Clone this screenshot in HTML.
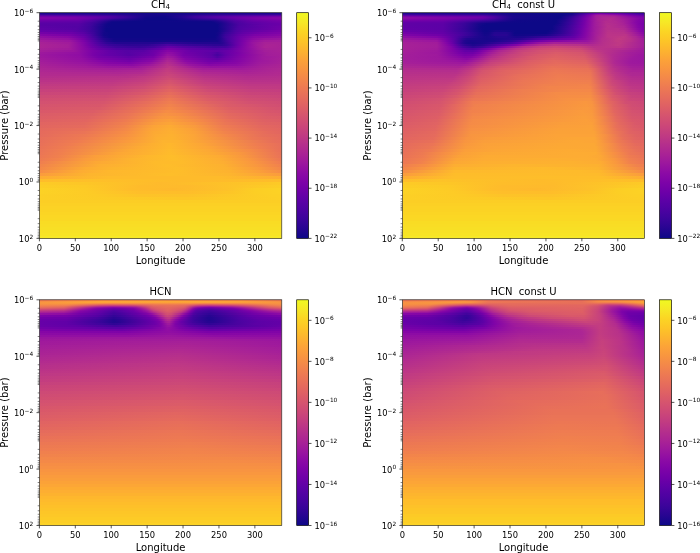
<!DOCTYPE html>
<html><head><meta charset="utf-8"><title>CH4 and HCN abundance maps</title>
<style>html,body{margin:0;padding:0;background:#fff}svg{display:block}text{font-family:"DejaVu Sans","Liberation Sans",sans-serif;fill:#000}</style>
</head><body>
<svg width="700" height="553" viewBox="0 0 700 553">
<rect width="700" height="553" fill="#fff"/>
<defs><linearGradient id="a0"><stop offset="0.000" stop-color="#16078a"/><stop offset="0.676" stop-color="#130789"/><stop offset="0.758" stop-color="#16078a"/><stop offset="1.000" stop-color="#16078a"/></linearGradient><linearGradient id="a1"><stop offset="0.000" stop-color="#1d068e"/><stop offset="0.299" stop-color="#1b068d"/><stop offset="0.480" stop-color="#130789"/><stop offset="0.881" stop-color="#1d068e"/><stop offset="1.000" stop-color="#1d068e"/></linearGradient><linearGradient id="a2"><stop offset="0.000" stop-color="#350498"/><stop offset="0.201" stop-color="#310597"/><stop offset="0.365" stop-color="#220690"/><stop offset="0.447" stop-color="#16078a"/><stop offset="0.570" stop-color="#19068c"/><stop offset="0.725" stop-color="#2c0594"/><stop offset="1.000" stop-color="#350498"/></linearGradient><linearGradient id="a3"><stop offset="0.000" stop-color="#5502a4"/><stop offset="0.160" stop-color="#4e02a2"/><stop offset="0.307" stop-color="#3a049a"/><stop offset="0.447" stop-color="#16078a"/><stop offset="0.512" stop-color="#130789"/><stop offset="0.594" stop-color="#220690"/><stop offset="0.660" stop-color="#350498"/><stop offset="0.832" stop-color="#4b03a1"/><stop offset="1.000" stop-color="#5502a4"/></linearGradient><linearGradient id="a4"><stop offset="0.000" stop-color="#7100a8"/><stop offset="0.152" stop-color="#6900a8"/><stop offset="0.283" stop-color="#5002a2"/><stop offset="0.365" stop-color="#330597"/><stop offset="0.439" stop-color="#16078a"/><stop offset="0.520" stop-color="#100788"/><stop offset="0.594" stop-color="#260591"/><stop offset="0.643" stop-color="#3c049b"/><stop offset="0.750" stop-color="#5502a4"/><stop offset="0.930" stop-color="#6e00a8"/><stop offset="1.000" stop-color="#7201a8"/></linearGradient><linearGradient id="a5"><stop offset="0.000" stop-color="#8004a8"/><stop offset="0.143" stop-color="#7801a8"/><stop offset="0.234" stop-color="#6400a7"/><stop offset="0.357" stop-color="#38049a"/><stop offset="0.439" stop-color="#130789"/><stop offset="0.512" stop-color="#0d0887"/><stop offset="0.586" stop-color="#220690"/><stop offset="0.635" stop-color="#3a049a"/><stop offset="0.709" stop-color="#5002a2"/><stop offset="0.848" stop-color="#7100a8"/><stop offset="0.947" stop-color="#7e03a8"/><stop offset="1.000" stop-color="#8305a7"/></linearGradient><linearGradient id="a6"><stop offset="0.000" stop-color="#8004a8"/><stop offset="0.143" stop-color="#7801a8"/><stop offset="0.209" stop-color="#6900a8"/><stop offset="0.316" stop-color="#3e049c"/><stop offset="0.406" stop-color="#1d068e"/><stop offset="0.439" stop-color="#100788"/><stop offset="0.520" stop-color="#0d0887"/><stop offset="0.586" stop-color="#1d068e"/><stop offset="0.643" stop-color="#350498"/><stop offset="0.742" stop-color="#4e02a2"/><stop offset="0.824" stop-color="#6a00a8"/><stop offset="0.914" stop-color="#7d03a8"/><stop offset="1.000" stop-color="#8405a7"/></linearGradient><linearGradient id="a7"><stop offset="0.000" stop-color="#7701a8"/><stop offset="0.152" stop-color="#7100a8"/><stop offset="0.201" stop-color="#6300a7"/><stop offset="0.258" stop-color="#48039f"/><stop offset="0.307" stop-color="#2e0595"/><stop offset="0.447" stop-color="#0d0887"/><stop offset="0.537" stop-color="#0d0887"/><stop offset="0.676" stop-color="#2e0595"/><stop offset="0.725" stop-color="#350498"/><stop offset="0.816" stop-color="#6001a6"/><stop offset="0.898" stop-color="#7501a8"/><stop offset="1.000" stop-color="#7e03a8"/></linearGradient><linearGradient id="a8"><stop offset="0.000" stop-color="#6e00a8"/><stop offset="0.160" stop-color="#6900a8"/><stop offset="0.225" stop-color="#4e02a2"/><stop offset="0.299" stop-color="#20068f"/><stop offset="0.439" stop-color="#0d0887"/><stop offset="0.561" stop-color="#0d0887"/><stop offset="0.725" stop-color="#220690"/><stop offset="0.807" stop-color="#5302a3"/><stop offset="0.889" stop-color="#6c00a8"/><stop offset="1.000" stop-color="#7801a8"/></linearGradient><linearGradient id="a9"><stop offset="0.000" stop-color="#6600a7"/><stop offset="0.160" stop-color="#6100a7"/><stop offset="0.217" stop-color="#4b03a1"/><stop offset="0.283" stop-color="#1d068e"/><stop offset="0.299" stop-color="#130789"/><stop offset="0.389" stop-color="#0d0887"/><stop offset="0.709" stop-color="#100788"/><stop offset="0.742" stop-color="#20068f"/><stop offset="0.807" stop-color="#4c02a1"/><stop offset="0.881" stop-color="#6400a7"/><stop offset="1.000" stop-color="#7201a8"/></linearGradient><linearGradient id="a10"><stop offset="0.000" stop-color="#5e01a6"/><stop offset="0.168" stop-color="#5b01a5"/><stop offset="0.234" stop-color="#3a049a"/><stop offset="0.283" stop-color="#16078a"/><stop offset="0.299" stop-color="#0d0887"/><stop offset="0.717" stop-color="#0d0887"/><stop offset="0.750" stop-color="#1d068e"/><stop offset="0.807" stop-color="#48039f"/><stop offset="0.857" stop-color="#5901a5"/><stop offset="0.955" stop-color="#6a00a8"/><stop offset="1.000" stop-color="#6f00a8"/></linearGradient><linearGradient id="a11"><stop offset="0.000" stop-color="#5901a5"/><stop offset="0.160" stop-color="#5801a4"/><stop offset="0.209" stop-color="#44039e"/><stop offset="0.242" stop-color="#2f0596"/><stop offset="0.283" stop-color="#100788"/><stop offset="0.307" stop-color="#0d0887"/><stop offset="0.725" stop-color="#0d0887"/><stop offset="0.750" stop-color="#19068c"/><stop offset="0.816" stop-color="#4903a0"/><stop offset="0.881" stop-color="#5c01a6"/><stop offset="1.000" stop-color="#6c00a8"/></linearGradient><linearGradient id="a12"><stop offset="0.000" stop-color="#5801a4"/><stop offset="0.160" stop-color="#5502a4"/><stop offset="0.217" stop-color="#3e049c"/><stop offset="0.258" stop-color="#1d068e"/><stop offset="0.283" stop-color="#0d0887"/><stop offset="0.734" stop-color="#0d0887"/><stop offset="0.824" stop-color="#4c02a1"/><stop offset="0.939" stop-color="#6400a7"/><stop offset="1.000" stop-color="#6a00a8"/></linearGradient><linearGradient id="a13"><stop offset="0.000" stop-color="#5801a4"/><stop offset="0.160" stop-color="#5502a4"/><stop offset="0.209" stop-color="#41049d"/><stop offset="0.250" stop-color="#240691"/><stop offset="0.275" stop-color="#100788"/><stop offset="0.299" stop-color="#0d0887"/><stop offset="0.734" stop-color="#0d0887"/><stop offset="0.824" stop-color="#4c02a1"/><stop offset="0.906" stop-color="#6001a6"/><stop offset="1.000" stop-color="#6c00a8"/></linearGradient><linearGradient id="a14"><stop offset="0.000" stop-color="#5b01a5"/><stop offset="0.160" stop-color="#5302a3"/><stop offset="0.209" stop-color="#3f049c"/><stop offset="0.258" stop-color="#1b068d"/><stop offset="0.275" stop-color="#100788"/><stop offset="0.299" stop-color="#0d0887"/><stop offset="0.734" stop-color="#0d0887"/><stop offset="0.766" stop-color="#240691"/><stop offset="0.824" stop-color="#4e02a2"/><stop offset="0.980" stop-color="#6c00a8"/><stop offset="1.000" stop-color="#6e00a8"/></linearGradient><linearGradient id="a15"><stop offset="0.000" stop-color="#5e01a6"/><stop offset="0.152" stop-color="#5502a4"/><stop offset="0.209" stop-color="#3f049c"/><stop offset="0.275" stop-color="#0d0887"/><stop offset="0.734" stop-color="#0d0887"/><stop offset="0.758" stop-color="#1d068e"/><stop offset="0.816" stop-color="#4b03a1"/><stop offset="0.848" stop-color="#5601a4"/><stop offset="1.000" stop-color="#7100a8"/></linearGradient><linearGradient id="a16"><stop offset="0.000" stop-color="#6700a8"/><stop offset="0.135" stop-color="#5e01a6"/><stop offset="0.184" stop-color="#5002a2"/><stop offset="0.225" stop-color="#370499"/><stop offset="0.275" stop-color="#0d0887"/><stop offset="0.734" stop-color="#0d0887"/><stop offset="0.807" stop-color="#4b03a1"/><stop offset="0.840" stop-color="#5b01a5"/><stop offset="0.988" stop-color="#7701a8"/><stop offset="1.000" stop-color="#7701a8"/></linearGradient><linearGradient id="a17"><stop offset="0.000" stop-color="#7501a8"/><stop offset="0.135" stop-color="#6a00a8"/><stop offset="0.184" stop-color="#5801a4"/><stop offset="0.225" stop-color="#3a049a"/><stop offset="0.266" stop-color="#130789"/><stop offset="0.291" stop-color="#0d0887"/><stop offset="0.725" stop-color="#0d0887"/><stop offset="0.742" stop-color="#16078a"/><stop offset="0.766" stop-color="#310597"/><stop offset="0.816" stop-color="#5601a4"/><stop offset="0.848" stop-color="#6400a7"/><stop offset="0.914" stop-color="#7501a8"/><stop offset="1.000" stop-color="#8004a8"/></linearGradient><linearGradient id="a18"><stop offset="0.000" stop-color="#8405a7"/><stop offset="0.127" stop-color="#7801a8"/><stop offset="0.184" stop-color="#6100a7"/><stop offset="0.209" stop-color="#4e02a2"/><stop offset="0.266" stop-color="#130789"/><stop offset="0.291" stop-color="#0d0887"/><stop offset="0.725" stop-color="#0d0887"/><stop offset="0.734" stop-color="#100788"/><stop offset="0.766" stop-color="#38049a"/><stop offset="0.824" stop-color="#6300a7"/><stop offset="0.889" stop-color="#7b02a8"/><stop offset="1.000" stop-color="#8808a6"/></linearGradient><linearGradient id="a19"><stop offset="0.000" stop-color="#910ea3"/><stop offset="0.119" stop-color="#8707a6"/><stop offset="0.184" stop-color="#6a00a8"/><stop offset="0.234" stop-color="#3c049b"/><stop offset="0.266" stop-color="#19068c"/><stop offset="0.291" stop-color="#0d0887"/><stop offset="0.725" stop-color="#0d0887"/><stop offset="0.742" stop-color="#1b068d"/><stop offset="0.766" stop-color="#3c049b"/><stop offset="0.824" stop-color="#6900a8"/><stop offset="0.889" stop-color="#8606a6"/><stop offset="1.000" stop-color="#910ea3"/></linearGradient><linearGradient id="a20"><stop offset="0.000" stop-color="#9a169f"/><stop offset="0.119" stop-color="#920fa3"/><stop offset="0.176" stop-color="#7801a8"/><stop offset="0.225" stop-color="#4c02a1"/><stop offset="0.266" stop-color="#220690"/><stop offset="0.307" stop-color="#100788"/><stop offset="0.725" stop-color="#100788"/><stop offset="0.742" stop-color="#1b068d"/><stop offset="0.775" stop-color="#43039e"/><stop offset="0.824" stop-color="#6c00a8"/><stop offset="0.881" stop-color="#8b0aa5"/><stop offset="0.930" stop-color="#9613a1"/><stop offset="1.000" stop-color="#9a169f"/></linearGradient><linearGradient id="a21"><stop offset="0.000" stop-color="#a31e9a"/><stop offset="0.127" stop-color="#9a169f"/><stop offset="0.184" stop-color="#7a02a8"/><stop offset="0.234" stop-color="#4c02a1"/><stop offset="0.275" stop-color="#260591"/><stop offset="0.307" stop-color="#16078a"/><stop offset="0.471" stop-color="#130789"/><stop offset="0.578" stop-color="#16078a"/><stop offset="0.660" stop-color="#130789"/><stop offset="0.734" stop-color="#16078a"/><stop offset="0.750" stop-color="#240691"/><stop offset="0.791" stop-color="#5102a3"/><stop offset="0.840" stop-color="#7a02a8"/><stop offset="0.881" stop-color="#9410a2"/><stop offset="0.930" stop-color="#a11b9b"/><stop offset="1.000" stop-color="#a31e9a"/></linearGradient><linearGradient id="a22"><stop offset="0.000" stop-color="#a82296"/><stop offset="0.127" stop-color="#a01a9c"/><stop offset="0.184" stop-color="#8004a8"/><stop offset="0.225" stop-color="#5b01a5"/><stop offset="0.275" stop-color="#310597"/><stop offset="0.316" stop-color="#220690"/><stop offset="0.471" stop-color="#220690"/><stop offset="0.529" stop-color="#2e0595"/><stop offset="0.652" stop-color="#20068f"/><stop offset="0.742" stop-color="#20068f"/><stop offset="0.758" stop-color="#2a0593"/><stop offset="0.807" stop-color="#6001a6"/><stop offset="0.848" stop-color="#8305a7"/><stop offset="0.881" stop-color="#9814a0"/><stop offset="0.930" stop-color="#a72197"/><stop offset="1.000" stop-color="#a72197"/></linearGradient><linearGradient id="a23"><stop offset="0.000" stop-color="#aa2395"/><stop offset="0.119" stop-color="#a31e9a"/><stop offset="0.160" stop-color="#910ea3"/><stop offset="0.201" stop-color="#7501a8"/><stop offset="0.250" stop-color="#4e02a2"/><stop offset="0.291" stop-color="#38049a"/><stop offset="0.365" stop-color="#2c0594"/><stop offset="0.447" stop-color="#2e0595"/><stop offset="0.496" stop-color="#3e049c"/><stop offset="0.529" stop-color="#4b03a1"/><stop offset="0.619" stop-color="#370499"/><stop offset="0.725" stop-color="#2c0594"/><stop offset="0.750" stop-color="#2c0594"/><stop offset="0.775" stop-color="#3a049a"/><stop offset="0.816" stop-color="#6900a8"/><stop offset="0.857" stop-color="#8a09a5"/><stop offset="0.898" stop-color="#a01a9c"/><stop offset="0.939" stop-color="#aa2395"/><stop offset="1.000" stop-color="#a72197"/></linearGradient><linearGradient id="a24"><stop offset="0.000" stop-color="#aa2395"/><stop offset="0.119" stop-color="#a31e9a"/><stop offset="0.176" stop-color="#8a09a5"/><stop offset="0.217" stop-color="#6e00a8"/><stop offset="0.266" stop-color="#5002a2"/><stop offset="0.316" stop-color="#3e049c"/><stop offset="0.414" stop-color="#370499"/><stop offset="0.471" stop-color="#43039e"/><stop offset="0.512" stop-color="#5901a5"/><stop offset="0.529" stop-color="#6300a7"/><stop offset="0.545" stop-color="#6300a7"/><stop offset="0.594" stop-color="#5302a3"/><stop offset="0.725" stop-color="#3e049c"/><stop offset="0.766" stop-color="#43039e"/><stop offset="0.783" stop-color="#4e02a2"/><stop offset="0.824" stop-color="#7501a8"/><stop offset="0.873" stop-color="#9410a2"/><stop offset="0.930" stop-color="#aa2395"/><stop offset="1.000" stop-color="#a72197"/></linearGradient><linearGradient id="a25"><stop offset="0.000" stop-color="#a72197"/><stop offset="0.127" stop-color="#a01a9c"/><stop offset="0.184" stop-color="#8707a6"/><stop offset="0.242" stop-color="#6700a8"/><stop offset="0.316" stop-color="#4e02a2"/><stop offset="0.381" stop-color="#48039f"/><stop offset="0.430" stop-color="#4903a0"/><stop offset="0.496" stop-color="#6300a7"/><stop offset="0.529" stop-color="#7701a8"/><stop offset="0.545" stop-color="#7701a8"/><stop offset="0.619" stop-color="#6001a6"/><stop offset="0.725" stop-color="#5102a3"/><stop offset="0.775" stop-color="#5901a5"/><stop offset="0.832" stop-color="#7e03a8"/><stop offset="0.906" stop-color="#a01a9c"/><stop offset="0.939" stop-color="#a72197"/><stop offset="1.000" stop-color="#a72197"/></linearGradient><linearGradient id="a26"><stop offset="0.000" stop-color="#a31e9a"/><stop offset="0.143" stop-color="#99159f"/><stop offset="0.217" stop-color="#7b02a8"/><stop offset="0.291" stop-color="#6100a7"/><stop offset="0.357" stop-color="#5502a4"/><stop offset="0.430" stop-color="#5901a5"/><stop offset="0.488" stop-color="#7100a8"/><stop offset="0.529" stop-color="#8606a6"/><stop offset="0.561" stop-color="#7e03a8"/><stop offset="0.627" stop-color="#6700a8"/><stop offset="0.742" stop-color="#5c01a6"/><stop offset="0.791" stop-color="#6c00a8"/><stop offset="0.857" stop-color="#8b0aa5"/><stop offset="0.930" stop-color="#a31e9a"/><stop offset="1.000" stop-color="#a72197"/></linearGradient><linearGradient id="a27"><stop offset="0.000" stop-color="#9e199d"/><stop offset="0.160" stop-color="#920fa3"/><stop offset="0.225" stop-color="#7701a8"/><stop offset="0.291" stop-color="#6300a7"/><stop offset="0.365" stop-color="#5502a4"/><stop offset="0.447" stop-color="#6300a7"/><stop offset="0.480" stop-color="#7100a8"/><stop offset="0.529" stop-color="#8e0ca4"/><stop offset="0.545" stop-color="#8d0ba5"/><stop offset="0.602" stop-color="#7100a8"/><stop offset="0.717" stop-color="#5901a5"/><stop offset="0.734" stop-color="#4e02a2"/><stop offset="0.766" stop-color="#6300a7"/><stop offset="0.816" stop-color="#7801a8"/><stop offset="0.906" stop-color="#9c179e"/><stop offset="0.947" stop-color="#a31e9a"/><stop offset="1.000" stop-color="#a62098"/></linearGradient><linearGradient id="a28"><stop offset="0.000" stop-color="#9c179e"/><stop offset="0.168" stop-color="#8f0da4"/><stop offset="0.225" stop-color="#7701a8"/><stop offset="0.275" stop-color="#6700a8"/><stop offset="0.373" stop-color="#5601a4"/><stop offset="0.471" stop-color="#6e00a8"/><stop offset="0.504" stop-color="#8606a6"/><stop offset="0.529" stop-color="#9613a1"/><stop offset="0.553" stop-color="#8f0da4"/><stop offset="0.594" stop-color="#7701a8"/><stop offset="0.709" stop-color="#5b01a5"/><stop offset="0.734" stop-color="#46039f"/><stop offset="0.766" stop-color="#6100a7"/><stop offset="0.840" stop-color="#8405a7"/><stop offset="0.939" stop-color="#a21d9a"/><stop offset="1.000" stop-color="#a51f99"/></linearGradient><linearGradient id="a29"><stop offset="0.000" stop-color="#9d189d"/><stop offset="0.168" stop-color="#910ea3"/><stop offset="0.242" stop-color="#7501a8"/><stop offset="0.365" stop-color="#6001a6"/><stop offset="0.398" stop-color="#6400a7"/><stop offset="0.471" stop-color="#7801a8"/><stop offset="0.504" stop-color="#8f0da4"/><stop offset="0.529" stop-color="#9e199d"/><stop offset="0.553" stop-color="#9814a0"/><stop offset="0.594" stop-color="#7e03a8"/><stop offset="0.717" stop-color="#5c01a6"/><stop offset="0.734" stop-color="#5002a2"/><stop offset="0.766" stop-color="#6700a8"/><stop offset="0.840" stop-color="#8606a6"/><stop offset="0.922" stop-color="#9e199d"/><stop offset="1.000" stop-color="#a51f99"/></linearGradient><linearGradient id="a30"><stop offset="0.000" stop-color="#a01a9c"/><stop offset="0.176" stop-color="#920fa3"/><stop offset="0.250" stop-color="#7b02a8"/><stop offset="0.373" stop-color="#6900a8"/><stop offset="0.471" stop-color="#8305a7"/><stop offset="0.529" stop-color="#a62098"/><stop offset="0.545" stop-color="#a31e9a"/><stop offset="0.602" stop-color="#8305a7"/><stop offset="0.717" stop-color="#6600a7"/><stop offset="0.734" stop-color="#6001a6"/><stop offset="0.783" stop-color="#7401a8"/><stop offset="0.865" stop-color="#8f0da4"/><stop offset="0.930" stop-color="#a01a9c"/><stop offset="1.000" stop-color="#a62098"/></linearGradient><linearGradient id="a31"><stop offset="0.000" stop-color="#a21d9a"/><stop offset="0.176" stop-color="#9511a1"/><stop offset="0.266" stop-color="#8004a8"/><stop offset="0.373" stop-color="#7201a8"/><stop offset="0.463" stop-color="#8808a6"/><stop offset="0.529" stop-color="#ad2793"/><stop offset="0.553" stop-color="#a62098"/><stop offset="0.602" stop-color="#8b0aa5"/><stop offset="0.693" stop-color="#7201a8"/><stop offset="0.734" stop-color="#6e00a8"/><stop offset="0.824" stop-color="#8606a6"/><stop offset="0.906" stop-color="#9c179e"/><stop offset="1.000" stop-color="#a62098"/></linearGradient><linearGradient id="a32"><stop offset="0.000" stop-color="#a51f99"/><stop offset="0.184" stop-color="#9814a0"/><stop offset="0.283" stop-color="#8606a6"/><stop offset="0.373" stop-color="#7e03a8"/><stop offset="0.455" stop-color="#910ea3"/><stop offset="0.529" stop-color="#b32c8e"/><stop offset="0.553" stop-color="#ac2694"/><stop offset="0.611" stop-color="#910ea3"/><stop offset="0.701" stop-color="#7a02a8"/><stop offset="0.807" stop-color="#8606a6"/><stop offset="0.906" stop-color="#9e199d"/><stop offset="1.000" stop-color="#a72197"/></linearGradient><linearGradient id="a33"><stop offset="0.000" stop-color="#a72197"/><stop offset="0.184" stop-color="#9d189d"/><stop offset="0.283" stop-color="#8f0da4"/><stop offset="0.381" stop-color="#8b0aa5"/><stop offset="0.455" stop-color="#9c179e"/><stop offset="0.529" stop-color="#b83289"/><stop offset="0.570" stop-color="#ac2694"/><stop offset="0.619" stop-color="#99159f"/><stop offset="0.701" stop-color="#8707a6"/><stop offset="0.816" stop-color="#8e0ca4"/><stop offset="0.914" stop-color="#a21d9a"/><stop offset="1.000" stop-color="#aa2395"/></linearGradient><linearGradient id="a34"><stop offset="0.000" stop-color="#aa2395"/><stop offset="0.193" stop-color="#a11b9b"/><stop offset="0.283" stop-color="#99159f"/><stop offset="0.389" stop-color="#9814a0"/><stop offset="0.471" stop-color="#ab2494"/><stop offset="0.537" stop-color="#bd3786"/><stop offset="0.643" stop-color="#9d189d"/><stop offset="0.709" stop-color="#9511a1"/><stop offset="0.824" stop-color="#9814a0"/><stop offset="0.930" stop-color="#a72197"/><stop offset="1.000" stop-color="#ab2494"/></linearGradient><linearGradient id="a35"><stop offset="0.000" stop-color="#ac2694"/><stop offset="0.307" stop-color="#a21d9a"/><stop offset="0.422" stop-color="#a62098"/><stop offset="0.529" stop-color="#c13b82"/><stop offset="0.676" stop-color="#a21d9a"/><stop offset="0.832" stop-color="#a01a9c"/><stop offset="0.947" stop-color="#ab2494"/><stop offset="1.000" stop-color="#ad2793"/></linearGradient><linearGradient id="a36"><stop offset="0.000" stop-color="#ae2892"/><stop offset="0.307" stop-color="#a82296"/><stop offset="0.422" stop-color="#ad2793"/><stop offset="0.529" stop-color="#c43e7f"/><stop offset="0.676" stop-color="#aa2395"/><stop offset="0.848" stop-color="#a62098"/><stop offset="0.980" stop-color="#ae2892"/><stop offset="1.000" stop-color="#ae2892"/></linearGradient><linearGradient id="a37"><stop offset="0.000" stop-color="#b12a90"/><stop offset="0.324" stop-color="#ad2793"/><stop offset="0.422" stop-color="#b22b8f"/><stop offset="0.529" stop-color="#c7427c"/><stop offset="0.676" stop-color="#b02991"/><stop offset="0.848" stop-color="#aa2395"/><stop offset="1.000" stop-color="#b12a90"/></linearGradient><linearGradient id="a38"><stop offset="0.000" stop-color="#b22b8f"/><stop offset="0.324" stop-color="#b22b8f"/><stop offset="0.430" stop-color="#b83289"/><stop offset="0.537" stop-color="#ca457a"/><stop offset="0.676" stop-color="#b42e8d"/><stop offset="0.857" stop-color="#ae2892"/><stop offset="1.000" stop-color="#b22b8f"/></linearGradient><linearGradient id="a39"><stop offset="0.000" stop-color="#b42e8d"/><stop offset="0.365" stop-color="#b7318a"/><stop offset="0.455" stop-color="#c13b82"/><stop offset="0.529" stop-color="#cc4977"/><stop offset="0.684" stop-color="#b83289"/><stop offset="0.857" stop-color="#b22b8f"/><stop offset="1.000" stop-color="#b42e8d"/></linearGradient><linearGradient id="a40"><stop offset="0.000" stop-color="#b7318a"/><stop offset="0.324" stop-color="#ba3388"/><stop offset="0.430" stop-color="#c13b82"/><stop offset="0.537" stop-color="#d04d73"/><stop offset="0.676" stop-color="#bd3786"/><stop offset="0.848" stop-color="#b42e8d"/><stop offset="1.000" stop-color="#b6308b"/></linearGradient><linearGradient id="a41"><stop offset="0.000" stop-color="#ba3388"/><stop offset="0.299" stop-color="#bc3587"/><stop offset="0.430" stop-color="#c43e7f"/><stop offset="0.537" stop-color="#d45270"/><stop offset="0.684" stop-color="#c03a83"/><stop offset="0.873" stop-color="#b7318a"/><stop offset="1.000" stop-color="#b83289"/></linearGradient><linearGradient id="a42"><stop offset="0.000" stop-color="#bd3786"/><stop offset="0.299" stop-color="#bf3984"/><stop offset="0.430" stop-color="#c8437b"/><stop offset="0.537" stop-color="#d6556d"/><stop offset="0.676" stop-color="#c43e7f"/><stop offset="0.865" stop-color="#bb3488"/><stop offset="1.000" stop-color="#bb3488"/></linearGradient><linearGradient id="a43"><stop offset="0.000" stop-color="#c03a83"/><stop offset="0.299" stop-color="#c23c81"/><stop offset="0.430" stop-color="#cc4778"/><stop offset="0.537" stop-color="#da5a6a"/><stop offset="0.684" stop-color="#c7427c"/><stop offset="0.865" stop-color="#be3885"/><stop offset="1.000" stop-color="#be3885"/></linearGradient><linearGradient id="a44"><stop offset="0.000" stop-color="#c33d80"/><stop offset="0.283" stop-color="#c5407e"/><stop offset="0.430" stop-color="#cf4c74"/><stop offset="0.537" stop-color="#de5f65"/><stop offset="0.693" stop-color="#cb4679"/><stop offset="0.873" stop-color="#c13b82"/><stop offset="1.000" stop-color="#c03a83"/></linearGradient><linearGradient id="a45"><stop offset="0.000" stop-color="#c7427c"/><stop offset="0.283" stop-color="#c9447a"/><stop offset="0.439" stop-color="#d5546e"/><stop offset="0.537" stop-color="#e26561"/><stop offset="0.693" stop-color="#cf4c74"/><stop offset="0.873" stop-color="#c5407e"/><stop offset="1.000" stop-color="#c43e7f"/></linearGradient><linearGradient id="a46"><stop offset="0.000" stop-color="#cb4679"/><stop offset="0.275" stop-color="#cc4977"/><stop offset="0.430" stop-color="#d9586a"/><stop offset="0.537" stop-color="#e66c5c"/><stop offset="0.684" stop-color="#d5536f"/><stop offset="0.873" stop-color="#c9447a"/><stop offset="1.000" stop-color="#c7427c"/></linearGradient><linearGradient id="a47"><stop offset="0.000" stop-color="#ce4b75"/><stop offset="0.275" stop-color="#d04d73"/><stop offset="0.439" stop-color="#de6164"/><stop offset="0.537" stop-color="#e97257"/><stop offset="0.693" stop-color="#d9586a"/><stop offset="0.857" stop-color="#cd4a76"/><stop offset="1.000" stop-color="#ca457a"/></linearGradient><linearGradient id="a48"><stop offset="0.000" stop-color="#d14e72"/><stop offset="0.266" stop-color="#d35171"/><stop offset="0.439" stop-color="#e26660"/><stop offset="0.537" stop-color="#ed7953"/><stop offset="0.693" stop-color="#dc5d67"/><stop offset="0.865" stop-color="#d04d73"/><stop offset="1.000" stop-color="#cc4977"/></linearGradient><linearGradient id="a49"><stop offset="0.000" stop-color="#d35171"/><stop offset="0.266" stop-color="#d6556d"/><stop offset="0.447" stop-color="#e76e5b"/><stop offset="0.537" stop-color="#ef7e50"/><stop offset="0.709" stop-color="#de6164"/><stop offset="0.865" stop-color="#d35171"/><stop offset="1.000" stop-color="#cf4c74"/></linearGradient><linearGradient id="a50"><stop offset="0.000" stop-color="#d5546e"/><stop offset="0.250" stop-color="#d8576b"/><stop offset="0.439" stop-color="#e97158"/><stop offset="0.537" stop-color="#f1834c"/><stop offset="0.775" stop-color="#db5c68"/><stop offset="0.939" stop-color="#d35171"/><stop offset="1.000" stop-color="#d14e72"/></linearGradient><linearGradient id="a51"><stop offset="0.000" stop-color="#d7566c"/><stop offset="0.250" stop-color="#da5b69"/><stop offset="0.439" stop-color="#ec7754"/><stop offset="0.537" stop-color="#f48849"/><stop offset="0.783" stop-color="#de5f65"/><stop offset="0.980" stop-color="#d45270"/><stop offset="1.000" stop-color="#d45270"/></linearGradient><linearGradient id="a52"><stop offset="0.000" stop-color="#d9586a"/><stop offset="0.225" stop-color="#dc5d67"/><stop offset="0.389" stop-color="#e97257"/><stop offset="0.529" stop-color="#f68d45"/><stop offset="0.627" stop-color="#f07f4f"/><stop offset="0.783" stop-color="#e06363"/><stop offset="0.947" stop-color="#d7566c"/><stop offset="1.000" stop-color="#d5546e"/></linearGradient><linearGradient id="a53"><stop offset="0.000" stop-color="#db5c68"/><stop offset="0.217" stop-color="#de6164"/><stop offset="0.365" stop-color="#ea7457"/><stop offset="0.520" stop-color="#f79342"/><stop offset="0.578" stop-color="#f68d45"/><stop offset="0.783" stop-color="#e3685f"/><stop offset="0.939" stop-color="#da5a6a"/><stop offset="1.000" stop-color="#d8576b"/></linearGradient><linearGradient id="a54"><stop offset="0.000" stop-color="#dd5e66"/><stop offset="0.201" stop-color="#e06363"/><stop offset="0.357" stop-color="#eb7655"/><stop offset="0.504" stop-color="#f89540"/><stop offset="0.545" stop-color="#f9983e"/><stop offset="0.643" stop-color="#f3874a"/><stop offset="0.783" stop-color="#e56b5d"/><stop offset="0.930" stop-color="#dc5d67"/><stop offset="1.000" stop-color="#da5b69"/></linearGradient><linearGradient id="a55"><stop offset="0.000" stop-color="#de6164"/><stop offset="0.193" stop-color="#e26561"/><stop offset="0.357" stop-color="#ee7b51"/><stop offset="0.480" stop-color="#f9983e"/><stop offset="0.537" stop-color="#fb9f3a"/><stop offset="0.652" stop-color="#f58b47"/><stop offset="0.775" stop-color="#e97158"/><stop offset="0.922" stop-color="#de6164"/><stop offset="1.000" stop-color="#dc5d67"/></linearGradient><linearGradient id="a56"><stop offset="0.000" stop-color="#e16462"/><stop offset="0.184" stop-color="#e3685f"/><stop offset="0.357" stop-color="#f0804e"/><stop offset="0.480" stop-color="#fa9e3b"/><stop offset="0.537" stop-color="#fca537"/><stop offset="0.635" stop-color="#f89540"/><stop offset="0.766" stop-color="#eb7655"/><stop offset="0.930" stop-color="#e06363"/><stop offset="1.000" stop-color="#de6164"/></linearGradient><linearGradient id="a57"><stop offset="0.000" stop-color="#e26660"/><stop offset="0.184" stop-color="#e56b5d"/><stop offset="0.348" stop-color="#f1834c"/><stop offset="0.471" stop-color="#fca338"/><stop offset="0.537" stop-color="#fdab33"/><stop offset="0.643" stop-color="#f99a3e"/><stop offset="0.758" stop-color="#ef7c51"/><stop offset="0.914" stop-color="#e3685f"/><stop offset="1.000" stop-color="#e06363"/></linearGradient><linearGradient id="a58"><stop offset="0.000" stop-color="#e4695e"/><stop offset="0.193" stop-color="#e87059"/><stop offset="0.357" stop-color="#f48948"/><stop offset="0.463" stop-color="#fca537"/><stop offset="0.537" stop-color="#fdae32"/><stop offset="0.627" stop-color="#fba238"/><stop offset="0.758" stop-color="#f0804e"/><stop offset="0.930" stop-color="#e4695e"/><stop offset="1.000" stop-color="#e26561"/></linearGradient><linearGradient id="a59"><stop offset="0.000" stop-color="#e56a5d"/><stop offset="0.184" stop-color="#ea7457"/><stop offset="0.357" stop-color="#f68d45"/><stop offset="0.471" stop-color="#fca934"/><stop offset="0.545" stop-color="#fdaf31"/><stop offset="0.643" stop-color="#fba139"/><stop offset="0.766" stop-color="#f1834c"/><stop offset="0.947" stop-color="#e56a5d"/><stop offset="1.000" stop-color="#e26660"/></linearGradient><linearGradient id="a60"><stop offset="0.000" stop-color="#e56b5d"/><stop offset="0.193" stop-color="#ed7953"/><stop offset="0.357" stop-color="#f79143"/><stop offset="0.480" stop-color="#fdac33"/><stop offset="0.545" stop-color="#fdb130"/><stop offset="0.635" stop-color="#fca537"/><stop offset="0.766" stop-color="#f48849"/><stop offset="0.922" stop-color="#e76f5a"/><stop offset="1.000" stop-color="#e4695e"/></linearGradient><linearGradient id="a61"><stop offset="0.000" stop-color="#e76e5b"/><stop offset="0.160" stop-color="#ed7953"/><stop offset="0.365" stop-color="#f9973f"/><stop offset="0.488" stop-color="#fdaf31"/><stop offset="0.545" stop-color="#fdb22f"/><stop offset="0.635" stop-color="#fca636"/><stop offset="0.881" stop-color="#ec7754"/><stop offset="1.000" stop-color="#e56a5d"/></linearGradient><linearGradient id="a62"><stop offset="0.000" stop-color="#e76f5a"/><stop offset="0.160" stop-color="#ef7c51"/><stop offset="0.373" stop-color="#fa9c3c"/><stop offset="0.512" stop-color="#fdb42f"/><stop offset="0.570" stop-color="#fdb22f"/><stop offset="0.717" stop-color="#f99a3e"/><stop offset="0.963" stop-color="#e76f5a"/><stop offset="1.000" stop-color="#e66c5c"/></linearGradient><linearGradient id="a63"><stop offset="0.000" stop-color="#e87059"/><stop offset="0.127" stop-color="#ef7c51"/><stop offset="0.463" stop-color="#fdaf31"/><stop offset="0.537" stop-color="#feb72d"/><stop offset="0.668" stop-color="#fca636"/><stop offset="0.898" stop-color="#ef7c51"/><stop offset="1.000" stop-color="#e76e5b"/></linearGradient><linearGradient id="a64"><stop offset="0.000" stop-color="#e97257"/><stop offset="0.094" stop-color="#ee7b51"/><stop offset="0.422" stop-color="#fdac33"/><stop offset="0.537" stop-color="#feb82c"/><stop offset="0.709" stop-color="#fca338"/><stop offset="0.914" stop-color="#ef7c51"/><stop offset="1.000" stop-color="#e76f5a"/></linearGradient><linearGradient id="a65"><stop offset="0.000" stop-color="#ea7457"/><stop offset="0.102" stop-color="#f07f4f"/><stop offset="0.373" stop-color="#fca934"/><stop offset="0.537" stop-color="#feba2c"/><stop offset="0.701" stop-color="#fca835"/><stop offset="0.865" stop-color="#f58b47"/><stop offset="0.988" stop-color="#e97158"/><stop offset="1.000" stop-color="#e97158"/></linearGradient><linearGradient id="a66"><stop offset="0.000" stop-color="#eb7556"/><stop offset="0.094" stop-color="#f0804e"/><stop offset="0.324" stop-color="#fca636"/><stop offset="0.537" stop-color="#febb2b"/><stop offset="0.717" stop-color="#fca934"/><stop offset="0.824" stop-color="#f9983e"/><stop offset="0.980" stop-color="#eb7556"/><stop offset="1.000" stop-color="#e97257"/></linearGradient><linearGradient id="a67"><stop offset="0.000" stop-color="#ec7754"/><stop offset="0.078" stop-color="#f0804e"/><stop offset="0.234" stop-color="#fb9f3a"/><stop offset="0.447" stop-color="#feb72d"/><stop offset="0.545" stop-color="#febd2a"/><stop offset="0.742" stop-color="#fdab33"/><stop offset="0.840" stop-color="#f9983e"/><stop offset="0.988" stop-color="#eb7556"/><stop offset="1.000" stop-color="#ea7457"/></linearGradient><linearGradient id="a68"><stop offset="0.000" stop-color="#ed7a52"/><stop offset="0.078" stop-color="#f2844b"/><stop offset="0.193" stop-color="#fa9c3c"/><stop offset="0.381" stop-color="#fdb42f"/><stop offset="0.553" stop-color="#febd2a"/><stop offset="0.742" stop-color="#fdae32"/><stop offset="0.865" stop-color="#f9973f"/><stop offset="0.988" stop-color="#ed7953"/><stop offset="1.000" stop-color="#ec7754"/></linearGradient><linearGradient id="a69"><stop offset="0.000" stop-color="#ef7e50"/><stop offset="0.234" stop-color="#fca835"/><stop offset="0.480" stop-color="#febb2b"/><stop offset="0.586" stop-color="#febb2b"/><stop offset="0.758" stop-color="#fdae32"/><stop offset="0.881" stop-color="#f9973f"/><stop offset="0.996" stop-color="#ef7c51"/><stop offset="1.000" stop-color="#ef7c51"/></linearGradient><linearGradient id="a70"><stop offset="0.000" stop-color="#f1834c"/><stop offset="0.250" stop-color="#fdae32"/><stop offset="0.529" stop-color="#febd2a"/><stop offset="0.758" stop-color="#fdb130"/><stop offset="0.906" stop-color="#f89540"/><stop offset="0.996" stop-color="#f1814d"/><stop offset="1.000" stop-color="#f1814d"/></linearGradient><linearGradient id="a71"><stop offset="0.000" stop-color="#f3874a"/><stop offset="0.193" stop-color="#fdab33"/><stop offset="0.307" stop-color="#fdb52e"/><stop offset="0.570" stop-color="#febd2a"/><stop offset="0.775" stop-color="#fdb130"/><stop offset="0.898" stop-color="#fa9c3c"/><stop offset="0.996" stop-color="#f3874a"/><stop offset="1.000" stop-color="#f3874a"/></linearGradient><linearGradient id="a72"><stop offset="0.000" stop-color="#f68d45"/><stop offset="0.168" stop-color="#fdac33"/><stop offset="0.283" stop-color="#feb72d"/><stop offset="0.570" stop-color="#febd2a"/><stop offset="0.783" stop-color="#fdb22f"/><stop offset="0.906" stop-color="#fb9f3a"/><stop offset="1.000" stop-color="#f58c46"/></linearGradient><linearGradient id="a73"><stop offset="0.000" stop-color="#fa9b3d"/><stop offset="0.209" stop-color="#fdb52e"/><stop offset="0.537" stop-color="#febe2a"/><stop offset="0.783" stop-color="#fdb52e"/><stop offset="1.000" stop-color="#fa9b3d"/></linearGradient><linearGradient id="a74"><stop offset="0.000" stop-color="#fdac33"/><stop offset="0.283" stop-color="#febb2b"/><stop offset="0.742" stop-color="#febb2b"/><stop offset="1.000" stop-color="#fdac33"/></linearGradient><linearGradient id="a75"><stop offset="0.000" stop-color="#febd2a"/><stop offset="0.225" stop-color="#fec029"/><stop offset="0.594" stop-color="#febb2b"/><stop offset="1.000" stop-color="#febd2a"/></linearGradient><linearGradient id="a76"><stop offset="0.000" stop-color="#fdcb26"/><stop offset="0.193" stop-color="#fdc627"/><stop offset="0.504" stop-color="#feba2c"/><stop offset="0.914" stop-color="#fdc627"/><stop offset="1.000" stop-color="#fdca26"/></linearGradient><linearGradient id="a77"><stop offset="0.000" stop-color="#fcce25"/><stop offset="0.184" stop-color="#fdca26"/><stop offset="0.414" stop-color="#febb2b"/><stop offset="0.611" stop-color="#feba2c"/><stop offset="1.000" stop-color="#fcce25"/></linearGradient><linearGradient id="a78"><stop offset="0.000" stop-color="#fcd225"/><stop offset="0.193" stop-color="#fdcb26"/><stop offset="0.373" stop-color="#febd2a"/><stop offset="0.553" stop-color="#feb82c"/><stop offset="0.775" stop-color="#fdc229"/><stop offset="0.889" stop-color="#fcce25"/><stop offset="1.000" stop-color="#fcd225"/></linearGradient><linearGradient id="a79"><stop offset="0.000" stop-color="#fcd225"/><stop offset="0.209" stop-color="#fdcb26"/><stop offset="0.414" stop-color="#febe2a"/><stop offset="0.611" stop-color="#febd2a"/><stop offset="0.783" stop-color="#fdc527"/><stop offset="0.889" stop-color="#fcce25"/><stop offset="1.000" stop-color="#fcd225"/></linearGradient><linearGradient id="a80"><stop offset="0.000" stop-color="#fcd025"/><stop offset="0.234" stop-color="#fdcb26"/><stop offset="0.414" stop-color="#fdc328"/><stop offset="0.611" stop-color="#fdc229"/><stop offset="0.963" stop-color="#fcd025"/><stop offset="1.000" stop-color="#fcd025"/></linearGradient><linearGradient id="a81"><stop offset="0.000" stop-color="#fcd025"/><stop offset="0.602" stop-color="#fdc627"/><stop offset="1.000" stop-color="#fcd025"/></linearGradient><linearGradient id="a82"><stop offset="0.000" stop-color="#fcce25"/><stop offset="0.807" stop-color="#fccd25"/><stop offset="1.000" stop-color="#fcce25"/></linearGradient><linearGradient id="a83"><stop offset="0.000" stop-color="#fcd025"/><stop offset="1.000" stop-color="#fcd025"/></linearGradient><linearGradient id="a84"><stop offset="0.000" stop-color="#fcd225"/><stop offset="1.000" stop-color="#fcd225"/></linearGradient><linearGradient id="a85"><stop offset="0.000" stop-color="#fbd324"/><stop offset="1.000" stop-color="#fbd324"/></linearGradient><linearGradient id="a86"><stop offset="0.000" stop-color="#fbd524"/><stop offset="1.000" stop-color="#fbd524"/></linearGradient><linearGradient id="a87"><stop offset="0.000" stop-color="#fbd724"/><stop offset="1.000" stop-color="#fbd724"/></linearGradient><linearGradient id="a88"><stop offset="0.000" stop-color="#fad824"/><stop offset="1.000" stop-color="#fad824"/></linearGradient><linearGradient id="a89"><stop offset="0.000" stop-color="#f9dc24"/><stop offset="1.000" stop-color="#f9dc24"/></linearGradient><linearGradient id="a90"><stop offset="0.000" stop-color="#f9dd25"/><stop offset="1.000" stop-color="#f9dd25"/></linearGradient><linearGradient id="a91"><stop offset="0.000" stop-color="#f8df25"/><stop offset="1.000" stop-color="#f8df25"/></linearGradient><linearGradient id="a92"><stop offset="0.000" stop-color="#f7e225"/><stop offset="1.000" stop-color="#f7e225"/></linearGradient><linearGradient id="a93"><stop offset="0.000" stop-color="#f7e425"/><stop offset="1.000" stop-color="#f7e425"/></linearGradient><linearGradient id="a94"><stop offset="0.000" stop-color="#f6e826"/><stop offset="1.000" stop-color="#f6e826"/></linearGradient><clipPath id="ca"><rect x="39.4" y="12.7" width="242.4" height="225.7"/></clipPath></defs>
<g clip-path="url(#ca)"><rect x="39.4" y="12.00" width="242.4" height="1.00" fill="url(#a0)"/><rect x="39.4" y="13.00" width="242.4" height="1.00" fill="url(#a1)"/><rect x="39.4" y="14.00" width="242.4" height="1.00" fill="url(#a2)"/><rect x="39.4" y="15.00" width="242.4" height="1.00" fill="url(#a3)"/><rect x="39.4" y="16.00" width="242.4" height="1.00" fill="url(#a4)"/><rect x="39.4" y="17.00" width="242.4" height="1.00" fill="url(#a5)"/><rect x="39.4" y="18.00" width="242.4" height="1.00" fill="url(#a6)"/><rect x="39.4" y="19.00" width="242.4" height="1.00" fill="url(#a7)"/><rect x="39.4" y="20.00" width="242.4" height="1.00" fill="url(#a8)"/><rect x="39.4" y="21.00" width="242.4" height="1.00" fill="url(#a9)"/><rect x="39.4" y="22.00" width="242.4" height="1.00" fill="url(#a10)"/><rect x="39.4" y="23.00" width="242.4" height="1.00" fill="url(#a11)"/><rect x="39.4" y="24.00" width="242.4" height="1.00" fill="url(#a12)"/><rect x="39.4" y="25.00" width="242.4" height="1.00" fill="url(#a13)"/><rect x="39.4" y="26.00" width="242.4" height="2.00" fill="url(#a14)"/><rect x="39.4" y="28.00" width="242.4" height="2.00" fill="url(#a15)"/><rect x="39.4" y="30.00" width="242.4" height="2.00" fill="url(#a16)"/><rect x="39.4" y="32.00" width="242.4" height="2.00" fill="url(#a17)"/><rect x="39.4" y="34.00" width="242.4" height="2.00" fill="url(#a18)"/><rect x="39.4" y="36.00" width="242.4" height="2.00" fill="url(#a19)"/><rect x="39.4" y="38.00" width="242.4" height="2.00" fill="url(#a20)"/><rect x="39.4" y="40.00" width="242.4" height="2.00" fill="url(#a21)"/><rect x="39.4" y="42.00" width="242.4" height="2.00" fill="url(#a22)"/><rect x="39.4" y="44.00" width="242.4" height="2.00" fill="url(#a23)"/><rect x="39.4" y="46.00" width="242.4" height="2.00" fill="url(#a24)"/><rect x="39.4" y="48.00" width="242.4" height="2.00" fill="url(#a25)"/><rect x="39.4" y="50.00" width="242.4" height="2.00" fill="url(#a26)"/><rect x="39.4" y="52.00" width="242.4" height="2.00" fill="url(#a27)"/><rect x="39.4" y="54.00" width="242.4" height="2.00" fill="url(#a28)"/><rect x="39.4" y="56.00" width="242.4" height="2.00" fill="url(#a29)"/><rect x="39.4" y="58.00" width="242.4" height="2.00" fill="url(#a30)"/><rect x="39.4" y="60.00" width="242.4" height="2.00" fill="url(#a31)"/><rect x="39.4" y="62.00" width="242.4" height="2.00" fill="url(#a32)"/><rect x="39.4" y="64.00" width="242.4" height="2.00" fill="url(#a33)"/><rect x="39.4" y="66.00" width="242.4" height="2.00" fill="url(#a34)"/><rect x="39.4" y="68.00" width="242.4" height="2.00" fill="url(#a35)"/><rect x="39.4" y="70.00" width="242.4" height="2.00" fill="url(#a36)"/><rect x="39.4" y="72.00" width="242.4" height="2.00" fill="url(#a37)"/><rect x="39.4" y="74.00" width="242.4" height="2.00" fill="url(#a38)"/><rect x="39.4" y="76.00" width="242.4" height="2.00" fill="url(#a39)"/><rect x="39.4" y="78.00" width="242.4" height="2.00" fill="url(#a40)"/><rect x="39.4" y="80.00" width="242.4" height="2.00" fill="url(#a41)"/><rect x="39.4" y="82.00" width="242.4" height="2.00" fill="url(#a42)"/><rect x="39.4" y="84.00" width="242.4" height="2.00" fill="url(#a43)"/><rect x="39.4" y="86.00" width="242.4" height="3.00" fill="url(#a44)"/><rect x="39.4" y="89.00" width="242.4" height="3.00" fill="url(#a45)"/><rect x="39.4" y="92.00" width="242.4" height="3.00" fill="url(#a46)"/><rect x="39.4" y="95.00" width="242.4" height="3.00" fill="url(#a47)"/><rect x="39.4" y="98.00" width="242.4" height="3.00" fill="url(#a48)"/><rect x="39.4" y="101.00" width="242.4" height="3.00" fill="url(#a49)"/><rect x="39.4" y="104.00" width="242.4" height="3.00" fill="url(#a50)"/><rect x="39.4" y="107.00" width="242.4" height="3.00" fill="url(#a51)"/><rect x="39.4" y="110.00" width="242.4" height="3.00" fill="url(#a52)"/><rect x="39.4" y="113.00" width="242.4" height="3.00" fill="url(#a53)"/><rect x="39.4" y="116.00" width="242.4" height="3.00" fill="url(#a54)"/><rect x="39.4" y="119.00" width="242.4" height="3.00" fill="url(#a55)"/><rect x="39.4" y="122.00" width="242.4" height="3.00" fill="url(#a56)"/><rect x="39.4" y="125.00" width="242.4" height="3.00" fill="url(#a57)"/><rect x="39.4" y="128.00" width="242.4" height="3.00" fill="url(#a58)"/><rect x="39.4" y="131.00" width="242.4" height="3.00" fill="url(#a59)"/><rect x="39.4" y="134.00" width="242.4" height="3.00" fill="url(#a60)"/><rect x="39.4" y="137.00" width="242.4" height="3.00" fill="url(#a61)"/><rect x="39.4" y="140.00" width="242.4" height="3.00" fill="url(#a62)"/><rect x="39.4" y="143.00" width="242.4" height="3.00" fill="url(#a63)"/><rect x="39.4" y="146.00" width="242.4" height="3.00" fill="url(#a64)"/><rect x="39.4" y="149.00" width="242.4" height="3.00" fill="url(#a65)"/><rect x="39.4" y="152.00" width="242.4" height="3.00" fill="url(#a66)"/><rect x="39.4" y="155.00" width="242.4" height="3.00" fill="url(#a67)"/><rect x="39.4" y="158.00" width="242.4" height="3.00" fill="url(#a68)"/><rect x="39.4" y="161.00" width="242.4" height="3.00" fill="url(#a69)"/><rect x="39.4" y="164.00" width="242.4" height="3.00" fill="url(#a70)"/><rect x="39.4" y="167.00" width="242.4" height="3.00" fill="url(#a71)"/><rect x="39.4" y="170.00" width="242.4" height="3.00" fill="url(#a72)"/><rect x="39.4" y="173.00" width="242.4" height="3.00" fill="url(#a73)"/><rect x="39.4" y="176.00" width="242.4" height="3.00" fill="url(#a74)"/><rect x="39.4" y="179.00" width="242.4" height="3.00" fill="url(#a75)"/><rect x="39.4" y="182.00" width="242.4" height="3.00" fill="url(#a76)"/><rect x="39.4" y="185.00" width="242.4" height="3.00" fill="url(#a77)"/><rect x="39.4" y="188.00" width="242.4" height="3.00" fill="url(#a78)"/><rect x="39.4" y="191.00" width="242.4" height="3.00" fill="url(#a79)"/><rect x="39.4" y="194.00" width="242.4" height="3.00" fill="url(#a80)"/><rect x="39.4" y="197.00" width="242.4" height="3.00" fill="url(#a81)"/><rect x="39.4" y="200.00" width="242.4" height="3.00" fill="url(#a82)"/><rect x="39.4" y="203.00" width="242.4" height="3.00" fill="url(#a83)"/><rect x="39.4" y="206.00" width="242.4" height="3.00" fill="url(#a84)"/><rect x="39.4" y="209.00" width="242.4" height="3.00" fill="url(#a85)"/><rect x="39.4" y="212.00" width="242.4" height="3.00" fill="url(#a86)"/><rect x="39.4" y="215.00" width="242.4" height="3.00" fill="url(#a87)"/><rect x="39.4" y="218.00" width="242.4" height="3.00" fill="url(#a88)"/><rect x="39.4" y="221.00" width="242.4" height="3.00" fill="url(#a89)"/><rect x="39.4" y="224.00" width="242.4" height="3.00" fill="url(#a90)"/><rect x="39.4" y="227.00" width="242.4" height="3.00" fill="url(#a91)"/><rect x="39.4" y="230.00" width="242.4" height="3.00" fill="url(#a92)"/><rect x="39.4" y="233.00" width="242.4" height="3.00" fill="url(#a93)"/><rect x="39.4" y="236.00" width="242.4" height="3.00" fill="url(#a94)"/></g>
<rect x="39.4" y="12.7" width="242.4" height="225.7" fill="none" stroke="#111" stroke-width="0.6"/>
<text x="39.4" y="251.0" text-anchor="middle" font-size="8.33">0</text>
<text x="75.3" y="251.0" text-anchor="middle" font-size="8.33">50</text>
<text x="111.2" y="251.0" text-anchor="middle" font-size="8.33">100</text>
<text x="147.1" y="251.0" text-anchor="middle" font-size="8.33">150</text>
<text x="183.0" y="251.0" text-anchor="middle" font-size="8.33">200</text>
<text x="219.0" y="251.0" text-anchor="middle" font-size="8.33">250</text>
<text x="254.9" y="251.0" text-anchor="middle" font-size="8.33">300</text>
<text x="33.2" y="16.1" text-anchor="end" font-size="8.33">10<tspan dy="-3.2" font-size="5.83">−6</tspan></text>
<text x="33.2" y="72.5" text-anchor="end" font-size="8.33">10<tspan dy="-3.2" font-size="5.83">−4</tspan></text>
<text x="33.2" y="128.9" text-anchor="end" font-size="8.33">10<tspan dy="-3.2" font-size="5.83">−2</tspan></text>
<text x="33.2" y="185.4" text-anchor="end" font-size="8.33">10<tspan dy="-3.2" font-size="5.83">0</tspan></text>
<text x="33.2" y="241.8" text-anchor="end" font-size="8.33">10<tspan dy="-3.2" font-size="5.83">2</tspan></text>
<path d="M39.40 238.40v2.9M75.31 238.40v2.9M111.22 238.40v2.9M147.13 238.40v2.9M183.04 238.40v2.9M218.96 238.40v2.9M254.87 238.40v2.9M39.40 12.70h-2.9M39.40 69.12h-2.9M39.40 125.55h-2.9M39.40 181.97h-2.9M39.40 238.40h-2.9" stroke="#000" stroke-width="0.67" fill="none"/>
<path d="M39.40 21.19h-1.7M39.40 26.16h-1.7M39.40 29.69h-1.7M39.40 32.42h-1.7M39.40 34.65h-1.7M39.40 36.54h-1.7M39.40 38.18h-1.7M39.40 39.62h-1.7M39.40 40.91h-1.7M39.40 49.41h-1.7M39.40 54.37h-1.7M39.40 57.90h-1.7M39.40 60.63h-1.7M39.40 62.87h-1.7M39.40 64.75h-1.7M39.40 66.39h-1.7M39.40 67.83h-1.7M39.40 77.62h-1.7M39.40 82.59h-1.7M39.40 86.11h-1.7M39.40 88.84h-1.7M39.40 91.08h-1.7M39.40 92.97h-1.7M39.40 94.60h-1.7M39.40 96.05h-1.7M39.40 97.34h-1.7M39.40 105.83h-1.7M39.40 110.80h-1.7M39.40 114.32h-1.7M39.40 117.06h-1.7M39.40 119.29h-1.7M39.40 121.18h-1.7M39.40 122.82h-1.7M39.40 124.26h-1.7M39.40 134.04h-1.7M39.40 139.01h-1.7M39.40 142.54h-1.7M39.40 145.27h-1.7M39.40 147.50h-1.7M39.40 149.39h-1.7M39.40 151.03h-1.7M39.40 152.47h-1.7M39.40 153.76h-1.7M39.40 162.26h-1.7M39.40 167.22h-1.7M39.40 170.75h-1.7M39.40 173.48h-1.7M39.40 175.72h-1.7M39.40 177.60h-1.7M39.40 179.24h-1.7M39.40 180.68h-1.7M39.40 190.47h-1.7M39.40 195.44h-1.7M39.40 198.96h-1.7M39.40 201.69h-1.7M39.40 203.93h-1.7M39.40 205.82h-1.7M39.40 207.45h-1.7M39.40 208.90h-1.7M39.40 210.19h-1.7M39.40 218.68h-1.7M39.40 223.65h-1.7M39.40 227.17h-1.7M39.40 229.91h-1.7M39.40 232.14h-1.7M39.40 234.03h-1.7M39.40 235.67h-1.7M39.40 237.11h-1.7" stroke="#000" stroke-width="0.5" fill="none"/>
<text x="160.6" y="264.0" text-anchor="middle" font-size="10">Longitude</text>
<text transform="translate(8.1 125.5) rotate(-90)" text-anchor="middle" font-size="10">Pressure (bar)</text>
<text x="160.6" y="7.8" text-anchor="middle" font-size="10" xml:space="preserve">CH<tspan dy="1.6" font-size="7">4</tspan></text>
<defs><linearGradient id="cba" x1="0" y1="0" x2="0" y2="1"><stop offset="0.000" stop-color="#f0f921"/><stop offset="0.042" stop-color="#f6e826"/><stop offset="0.083" stop-color="#fbd524"/><stop offset="0.125" stop-color="#fdc527"/><stop offset="0.167" stop-color="#fdb42f"/><stop offset="0.208" stop-color="#fca338"/><stop offset="0.250" stop-color="#f89540"/><stop offset="0.292" stop-color="#f3874a"/><stop offset="0.333" stop-color="#ed7953"/><stop offset="0.375" stop-color="#e66c5c"/><stop offset="0.417" stop-color="#de5f65"/><stop offset="0.458" stop-color="#d5536f"/><stop offset="0.500" stop-color="#cc4778"/><stop offset="0.542" stop-color="#c13b82"/><stop offset="0.583" stop-color="#b52f8c"/><stop offset="0.625" stop-color="#aa2395"/><stop offset="0.667" stop-color="#9c179e"/><stop offset="0.708" stop-color="#8d0ba5"/><stop offset="0.750" stop-color="#7e03a8"/><stop offset="0.792" stop-color="#6e00a8"/><stop offset="0.833" stop-color="#5c01a6"/><stop offset="0.875" stop-color="#4c02a1"/><stop offset="0.917" stop-color="#3a049a"/><stop offset="0.958" stop-color="#260591"/><stop offset="1.000" stop-color="#0d0887"/></linearGradient></defs>
<rect x="296.7" y="12.7" width="11.9" height="225.7" fill="url(#cba)" stroke="#000" stroke-width="0.67"/>
<text x="314.4" y="41.0" text-anchor="start" font-size="8.33">10<tspan dy="-3.2" font-size="5.83">−6</tspan></text>
<text x="314.4" y="91.1" text-anchor="start" font-size="8.33">10<tspan dy="-3.2" font-size="5.83">−10</tspan></text>
<text x="314.4" y="141.3" text-anchor="start" font-size="8.33">10<tspan dy="-3.2" font-size="5.83">−14</tspan></text>
<text x="314.4" y="191.4" text-anchor="start" font-size="8.33">10<tspan dy="-3.2" font-size="5.83">−18</tspan></text>
<text x="314.4" y="241.6" text-anchor="start" font-size="8.33">10<tspan dy="-3.2" font-size="5.83">−22</tspan></text>
<path d="M308.60 37.78h2.9M308.60 87.93h2.9M308.60 138.09h2.9M308.60 188.24h2.9M308.60 238.40h2.9" stroke="#000" stroke-width="0.67" fill="none"/>
<defs><linearGradient id="b0"><stop offset="0.000" stop-color="#1b068d"/><stop offset="0.496" stop-color="#100788"/><stop offset="0.520" stop-color="#0d0887"/><stop offset="0.693" stop-color="#0d0887"/><stop offset="0.799" stop-color="#5601a4"/><stop offset="0.816" stop-color="#5901a5"/><stop offset="0.914" stop-color="#46039f"/><stop offset="1.000" stop-color="#2a0593"/></linearGradient><linearGradient id="b1"><stop offset="0.000" stop-color="#220690"/><stop offset="0.348" stop-color="#1b068d"/><stop offset="0.471" stop-color="#100788"/><stop offset="0.684" stop-color="#0d0887"/><stop offset="0.701" stop-color="#130789"/><stop offset="0.783" stop-color="#5c01a6"/><stop offset="0.799" stop-color="#6a00a8"/><stop offset="0.816" stop-color="#6f00a8"/><stop offset="0.889" stop-color="#6001a6"/><stop offset="0.996" stop-color="#350498"/><stop offset="1.000" stop-color="#350498"/></linearGradient><linearGradient id="b2"><stop offset="0.000" stop-color="#3c049b"/><stop offset="0.340" stop-color="#2f0596"/><stop offset="0.463" stop-color="#130789"/><stop offset="0.660" stop-color="#0d0887"/><stop offset="0.701" stop-color="#1b068d"/><stop offset="0.758" stop-color="#5c01a6"/><stop offset="0.783" stop-color="#7d03a8"/><stop offset="0.799" stop-color="#8f0da4"/><stop offset="0.816" stop-color="#9511a1"/><stop offset="0.881" stop-color="#8707a6"/><stop offset="0.939" stop-color="#6900a8"/><stop offset="0.996" stop-color="#4b03a1"/><stop offset="1.000" stop-color="#4b03a1"/></linearGradient><linearGradient id="b3"><stop offset="0.000" stop-color="#5c01a6"/><stop offset="0.291" stop-color="#4c02a1"/><stop offset="0.332" stop-color="#4b03a1"/><stop offset="0.398" stop-color="#2f0596"/><stop offset="0.439" stop-color="#1d068e"/><stop offset="0.471" stop-color="#16078a"/><stop offset="0.660" stop-color="#0d0887"/><stop offset="0.701" stop-color="#260591"/><stop offset="0.750" stop-color="#6100a7"/><stop offset="0.775" stop-color="#8104a7"/><stop offset="0.799" stop-color="#a01a9c"/><stop offset="0.816" stop-color="#a62098"/><stop offset="0.873" stop-color="#a01a9c"/><stop offset="0.939" stop-color="#7e03a8"/><stop offset="0.996" stop-color="#6001a6"/><stop offset="1.000" stop-color="#6001a6"/></linearGradient><linearGradient id="b4"><stop offset="0.000" stop-color="#7b02a8"/><stop offset="0.299" stop-color="#6400a7"/><stop offset="0.332" stop-color="#6300a7"/><stop offset="0.389" stop-color="#41049d"/><stop offset="0.439" stop-color="#220690"/><stop offset="0.455" stop-color="#19068c"/><stop offset="0.652" stop-color="#0d0887"/><stop offset="0.693" stop-color="#2a0593"/><stop offset="0.717" stop-color="#43039e"/><stop offset="0.758" stop-color="#7201a8"/><stop offset="0.775" stop-color="#8707a6"/><stop offset="0.799" stop-color="#a31e9a"/><stop offset="0.824" stop-color="#ab2494"/><stop offset="0.873" stop-color="#aa2395"/><stop offset="0.955" stop-color="#8305a7"/><stop offset="1.000" stop-color="#7100a8"/></linearGradient><linearGradient id="b5"><stop offset="0.000" stop-color="#8b0aa5"/><stop offset="0.324" stop-color="#6e00a8"/><stop offset="0.357" stop-color="#5e01a6"/><stop offset="0.422" stop-color="#2e0595"/><stop offset="0.455" stop-color="#1b068d"/><stop offset="0.529" stop-color="#130789"/><stop offset="0.652" stop-color="#0d0887"/><stop offset="0.701" stop-color="#370499"/><stop offset="0.750" stop-color="#6e00a8"/><stop offset="0.775" stop-color="#8a09a5"/><stop offset="0.799" stop-color="#a31e9a"/><stop offset="0.832" stop-color="#ae2892"/><stop offset="0.873" stop-color="#ae2892"/><stop offset="0.963" stop-color="#8707a6"/><stop offset="1.000" stop-color="#7a02a8"/></linearGradient><linearGradient id="b6"><stop offset="0.000" stop-color="#8a09a5"/><stop offset="0.176" stop-color="#7d03a8"/><stop offset="0.332" stop-color="#6400a7"/><stop offset="0.381" stop-color="#48039f"/><stop offset="0.447" stop-color="#1b068d"/><stop offset="0.471" stop-color="#16078a"/><stop offset="0.643" stop-color="#0d0887"/><stop offset="0.668" stop-color="#1b068d"/><stop offset="0.734" stop-color="#5e01a6"/><stop offset="0.766" stop-color="#8305a7"/><stop offset="0.799" stop-color="#a31e9a"/><stop offset="0.824" stop-color="#ad2793"/><stop offset="0.865" stop-color="#b22b8f"/><stop offset="0.922" stop-color="#9d189d"/><stop offset="0.988" stop-color="#8004a8"/><stop offset="1.000" stop-color="#7d03a8"/></linearGradient><linearGradient id="b7"><stop offset="0.000" stop-color="#8104a7"/><stop offset="0.176" stop-color="#7701a8"/><stop offset="0.332" stop-color="#5502a4"/><stop offset="0.439" stop-color="#1d068e"/><stop offset="0.463" stop-color="#130789"/><stop offset="0.635" stop-color="#0d0887"/><stop offset="0.660" stop-color="#19068c"/><stop offset="0.717" stop-color="#4c02a1"/><stop offset="0.758" stop-color="#7a02a8"/><stop offset="0.783" stop-color="#9511a1"/><stop offset="0.807" stop-color="#a82296"/><stop offset="0.857" stop-color="#b32c8e"/><stop offset="0.914" stop-color="#a31e9a"/><stop offset="0.980" stop-color="#8104a7"/><stop offset="1.000" stop-color="#7b02a8"/></linearGradient><linearGradient id="b8"><stop offset="0.000" stop-color="#7701a8"/><stop offset="0.168" stop-color="#6f00a8"/><stop offset="0.266" stop-color="#5502a4"/><stop offset="0.381" stop-color="#310597"/><stop offset="0.439" stop-color="#19068c"/><stop offset="0.480" stop-color="#100788"/><stop offset="0.635" stop-color="#0d0887"/><stop offset="0.676" stop-color="#280592"/><stop offset="0.734" stop-color="#6001a6"/><stop offset="0.758" stop-color="#7b02a8"/><stop offset="0.783" stop-color="#9613a1"/><stop offset="0.807" stop-color="#a82296"/><stop offset="0.857" stop-color="#b32c8e"/><stop offset="0.906" stop-color="#a72197"/><stop offset="0.971" stop-color="#8405a7"/><stop offset="1.000" stop-color="#7a02a8"/></linearGradient><linearGradient id="b9"><stop offset="0.000" stop-color="#6c00a8"/><stop offset="0.168" stop-color="#6700a8"/><stop offset="0.266" stop-color="#48039f"/><stop offset="0.324" stop-color="#310597"/><stop offset="0.455" stop-color="#100788"/><stop offset="0.578" stop-color="#0d0887"/><stop offset="0.635" stop-color="#0d0887"/><stop offset="0.676" stop-color="#2a0593"/><stop offset="0.742" stop-color="#6900a8"/><stop offset="0.766" stop-color="#8606a6"/><stop offset="0.799" stop-color="#a31e9a"/><stop offset="0.840" stop-color="#b32c8e"/><stop offset="0.881" stop-color="#b02991"/><stop offset="0.922" stop-color="#a11b9b"/><stop offset="0.971" stop-color="#8305a7"/><stop offset="1.000" stop-color="#7801a8"/></linearGradient><linearGradient id="b10"><stop offset="0.000" stop-color="#6400a7"/><stop offset="0.168" stop-color="#6100a7"/><stop offset="0.250" stop-color="#44039e"/><stop offset="0.316" stop-color="#240691"/><stop offset="0.414" stop-color="#100788"/><stop offset="0.537" stop-color="#0d0887"/><stop offset="0.635" stop-color="#0d0887"/><stop offset="0.701" stop-color="#41049d"/><stop offset="0.750" stop-color="#7401a8"/><stop offset="0.775" stop-color="#8e0ca4"/><stop offset="0.791" stop-color="#9e199d"/><stop offset="0.840" stop-color="#b32c8e"/><stop offset="0.881" stop-color="#b02991"/><stop offset="0.914" stop-color="#a62098"/><stop offset="0.963" stop-color="#8707a6"/><stop offset="1.000" stop-color="#7701a8"/></linearGradient><linearGradient id="b11"><stop offset="0.000" stop-color="#6001a6"/><stop offset="0.168" stop-color="#5e01a6"/><stop offset="0.258" stop-color="#3a049a"/><stop offset="0.324" stop-color="#16078a"/><stop offset="0.348" stop-color="#100788"/><stop offset="0.471" stop-color="#0d0887"/><stop offset="0.627" stop-color="#0d0887"/><stop offset="0.643" stop-color="#130789"/><stop offset="0.701" stop-color="#43039e"/><stop offset="0.750" stop-color="#7401a8"/><stop offset="0.775" stop-color="#8f0da4"/><stop offset="0.799" stop-color="#a31e9a"/><stop offset="0.848" stop-color="#b52f8c"/><stop offset="0.906" stop-color="#ab2494"/><stop offset="0.947" stop-color="#920fa3"/><stop offset="0.980" stop-color="#7e03a8"/><stop offset="1.000" stop-color="#7501a8"/></linearGradient><linearGradient id="b12"><stop offset="0.000" stop-color="#6001a6"/><stop offset="0.168" stop-color="#5c01a6"/><stop offset="0.258" stop-color="#38049a"/><stop offset="0.316" stop-color="#16078a"/><stop offset="0.348" stop-color="#0d0887"/><stop offset="0.627" stop-color="#0d0887"/><stop offset="0.684" stop-color="#350498"/><stop offset="0.742" stop-color="#6c00a8"/><stop offset="0.766" stop-color="#8707a6"/><stop offset="0.791" stop-color="#9e199d"/><stop offset="0.840" stop-color="#b42e8d"/><stop offset="0.881" stop-color="#b22b8f"/><stop offset="0.922" stop-color="#a51f99"/><stop offset="0.971" stop-color="#8405a7"/><stop offset="0.996" stop-color="#7701a8"/><stop offset="1.000" stop-color="#7701a8"/></linearGradient><linearGradient id="b13"><stop offset="0.000" stop-color="#6001a6"/><stop offset="0.168" stop-color="#5c01a6"/><stop offset="0.242" stop-color="#3f049c"/><stop offset="0.332" stop-color="#0d0887"/><stop offset="0.619" stop-color="#0d0887"/><stop offset="0.652" stop-color="#1d068e"/><stop offset="0.717" stop-color="#5502a4"/><stop offset="0.750" stop-color="#7701a8"/><stop offset="0.775" stop-color="#8f0da4"/><stop offset="0.799" stop-color="#a31e9a"/><stop offset="0.848" stop-color="#b6308b"/><stop offset="0.914" stop-color="#ab2494"/><stop offset="0.971" stop-color="#8606a6"/><stop offset="1.000" stop-color="#7701a8"/></linearGradient><linearGradient id="b14"><stop offset="0.000" stop-color="#6100a7"/><stop offset="0.168" stop-color="#5c01a6"/><stop offset="0.250" stop-color="#3a049a"/><stop offset="0.324" stop-color="#100788"/><stop offset="0.348" stop-color="#0d0887"/><stop offset="0.619" stop-color="#0d0887"/><stop offset="0.676" stop-color="#330597"/><stop offset="0.734" stop-color="#6700a8"/><stop offset="0.758" stop-color="#8004a8"/><stop offset="0.791" stop-color="#9e199d"/><stop offset="0.848" stop-color="#b6308b"/><stop offset="0.914" stop-color="#ad2793"/><stop offset="0.971" stop-color="#8707a6"/><stop offset="1.000" stop-color="#7801a8"/></linearGradient><linearGradient id="b15"><stop offset="0.000" stop-color="#6300a7"/><stop offset="0.168" stop-color="#5c01a6"/><stop offset="0.250" stop-color="#38049a"/><stop offset="0.316" stop-color="#130789"/><stop offset="0.340" stop-color="#0d0887"/><stop offset="0.619" stop-color="#0d0887"/><stop offset="0.693" stop-color="#44039e"/><stop offset="0.742" stop-color="#7201a8"/><stop offset="0.766" stop-color="#8a09a5"/><stop offset="0.791" stop-color="#9e199d"/><stop offset="0.840" stop-color="#b52f8c"/><stop offset="0.889" stop-color="#b52f8c"/><stop offset="0.922" stop-color="#ad2793"/><stop offset="0.971" stop-color="#8b0aa5"/><stop offset="0.996" stop-color="#7a02a8"/><stop offset="1.000" stop-color="#7a02a8"/></linearGradient><linearGradient id="b16"><stop offset="0.000" stop-color="#6900a8"/><stop offset="0.168" stop-color="#6001a6"/><stop offset="0.250" stop-color="#3c049b"/><stop offset="0.332" stop-color="#100788"/><stop offset="0.348" stop-color="#0d0887"/><stop offset="0.389" stop-color="#19068c"/><stop offset="0.430" stop-color="#16078a"/><stop offset="0.471" stop-color="#0d0887"/><stop offset="0.602" stop-color="#0d0887"/><stop offset="0.635" stop-color="#1d068e"/><stop offset="0.693" stop-color="#48039f"/><stop offset="0.725" stop-color="#6300a7"/><stop offset="0.758" stop-color="#8405a7"/><stop offset="0.799" stop-color="#a31e9a"/><stop offset="0.848" stop-color="#b83289"/><stop offset="0.914" stop-color="#b52f8c"/><stop offset="0.955" stop-color="#9d189d"/><stop offset="0.988" stop-color="#8405a7"/><stop offset="1.000" stop-color="#8004a8"/></linearGradient><linearGradient id="b17"><stop offset="0.000" stop-color="#7401a8"/><stop offset="0.168" stop-color="#6400a7"/><stop offset="0.258" stop-color="#3e049c"/><stop offset="0.340" stop-color="#100788"/><stop offset="0.357" stop-color="#130789"/><stop offset="0.381" stop-color="#240691"/><stop offset="0.422" stop-color="#240691"/><stop offset="0.439" stop-color="#20068f"/><stop offset="0.463" stop-color="#0d0887"/><stop offset="0.594" stop-color="#0d0887"/><stop offset="0.652" stop-color="#2c0594"/><stop offset="0.725" stop-color="#6400a7"/><stop offset="0.758" stop-color="#8606a6"/><stop offset="0.791" stop-color="#a01a9c"/><stop offset="0.848" stop-color="#ba3388"/><stop offset="0.914" stop-color="#b83289"/><stop offset="0.947" stop-color="#aa2395"/><stop offset="0.996" stop-color="#8707a6"/><stop offset="1.000" stop-color="#8707a6"/></linearGradient><linearGradient id="b18"><stop offset="0.000" stop-color="#8004a8"/><stop offset="0.160" stop-color="#6e00a8"/><stop offset="0.234" stop-color="#4c02a1"/><stop offset="0.340" stop-color="#130789"/><stop offset="0.357" stop-color="#16078a"/><stop offset="0.381" stop-color="#280592"/><stop offset="0.430" stop-color="#280592"/><stop offset="0.463" stop-color="#100788"/><stop offset="0.537" stop-color="#130789"/><stop offset="0.594" stop-color="#19068c"/><stop offset="0.693" stop-color="#4e02a2"/><stop offset="0.725" stop-color="#6900a8"/><stop offset="0.758" stop-color="#8707a6"/><stop offset="0.799" stop-color="#a51f99"/><stop offset="0.848" stop-color="#bb3488"/><stop offset="0.922" stop-color="#bb3488"/><stop offset="0.971" stop-color="#a01a9c"/><stop offset="0.996" stop-color="#8f0da4"/><stop offset="1.000" stop-color="#8f0da4"/></linearGradient><linearGradient id="b19"><stop offset="0.000" stop-color="#8e0ca4"/><stop offset="0.143" stop-color="#8004a8"/><stop offset="0.184" stop-color="#6c00a8"/><stop offset="0.225" stop-color="#4e02a2"/><stop offset="0.258" stop-color="#350498"/><stop offset="0.307" stop-color="#20068f"/><stop offset="0.348" stop-color="#16078a"/><stop offset="0.398" stop-color="#220690"/><stop offset="0.430" stop-color="#220690"/><stop offset="0.471" stop-color="#19068c"/><stop offset="0.504" stop-color="#1d068e"/><stop offset="0.619" stop-color="#3e049c"/><stop offset="0.709" stop-color="#6300a7"/><stop offset="0.750" stop-color="#8305a7"/><stop offset="0.807" stop-color="#ab2494"/><stop offset="0.848" stop-color="#bb3488"/><stop offset="0.914" stop-color="#bf3984"/><stop offset="0.963" stop-color="#ac2694"/><stop offset="0.996" stop-color="#9814a0"/><stop offset="1.000" stop-color="#9814a0"/></linearGradient><linearGradient id="b20"><stop offset="0.000" stop-color="#9a169f"/><stop offset="0.143" stop-color="#8f0da4"/><stop offset="0.184" stop-color="#7401a8"/><stop offset="0.217" stop-color="#5502a4"/><stop offset="0.250" stop-color="#2f0596"/><stop offset="0.266" stop-color="#220690"/><stop offset="0.348" stop-color="#16078a"/><stop offset="0.488" stop-color="#280592"/><stop offset="0.570" stop-color="#4e02a2"/><stop offset="0.709" stop-color="#7201a8"/><stop offset="0.758" stop-color="#8d0ba5"/><stop offset="0.824" stop-color="#b42e8d"/><stop offset="0.898" stop-color="#c13b82"/><stop offset="0.939" stop-color="#b83289"/><stop offset="1.000" stop-color="#9e199d"/></linearGradient><linearGradient id="b21"><stop offset="0.000" stop-color="#a21d9a"/><stop offset="0.143" stop-color="#9a169f"/><stop offset="0.184" stop-color="#7a02a8"/><stop offset="0.209" stop-color="#6001a6"/><stop offset="0.258" stop-color="#20068f"/><stop offset="0.283" stop-color="#19068c"/><stop offset="0.373" stop-color="#1b068d"/><stop offset="0.455" stop-color="#310597"/><stop offset="0.545" stop-color="#6900a8"/><stop offset="0.611" stop-color="#8104a7"/><stop offset="0.758" stop-color="#9613a1"/><stop offset="0.824" stop-color="#b42e8d"/><stop offset="0.889" stop-color="#c03a83"/><stop offset="0.939" stop-color="#b7318a"/><stop offset="1.000" stop-color="#a11b9b"/></linearGradient><linearGradient id="b22"><stop offset="0.000" stop-color="#a62098"/><stop offset="0.143" stop-color="#a11b9b"/><stop offset="0.176" stop-color="#8808a6"/><stop offset="0.201" stop-color="#6f00a8"/><stop offset="0.225" stop-color="#4c02a1"/><stop offset="0.250" stop-color="#280592"/><stop offset="0.266" stop-color="#1b068d"/><stop offset="0.291" stop-color="#16078a"/><stop offset="0.340" stop-color="#1d068e"/><stop offset="0.439" stop-color="#43039e"/><stop offset="0.471" stop-color="#5601a4"/><stop offset="0.512" stop-color="#7801a8"/><stop offset="0.570" stop-color="#9814a0"/><stop offset="0.627" stop-color="#a62098"/><stop offset="0.766" stop-color="#a31e9a"/><stop offset="0.832" stop-color="#b7318a"/><stop offset="0.898" stop-color="#bf3984"/><stop offset="1.000" stop-color="#a21d9a"/></linearGradient><linearGradient id="b23"><stop offset="0.000" stop-color="#a72197"/><stop offset="0.143" stop-color="#a21d9a"/><stop offset="0.184" stop-color="#8707a6"/><stop offset="0.209" stop-color="#6f00a8"/><stop offset="0.242" stop-color="#3f049c"/><stop offset="0.258" stop-color="#2e0595"/><stop offset="0.291" stop-color="#1d068e"/><stop offset="0.324" stop-color="#260591"/><stop offset="0.430" stop-color="#6700a8"/><stop offset="0.471" stop-color="#8104a7"/><stop offset="0.512" stop-color="#9d189d"/><stop offset="0.570" stop-color="#b22b8f"/><stop offset="0.627" stop-color="#bc3587"/><stop offset="0.734" stop-color="#b6308b"/><stop offset="0.783" stop-color="#b12a90"/><stop offset="0.889" stop-color="#bf3984"/><stop offset="1.000" stop-color="#a31e9a"/></linearGradient><linearGradient id="b24"><stop offset="0.000" stop-color="#a72197"/><stop offset="0.143" stop-color="#a21d9a"/><stop offset="0.201" stop-color="#8004a8"/><stop offset="0.225" stop-color="#6400a7"/><stop offset="0.250" stop-color="#46039f"/><stop offset="0.291" stop-color="#2e0595"/><stop offset="0.332" stop-color="#3f049c"/><stop offset="0.389" stop-color="#6f00a8"/><stop offset="0.422" stop-color="#8808a6"/><stop offset="0.496" stop-color="#b22b8f"/><stop offset="0.570" stop-color="#c5407e"/><stop offset="0.635" stop-color="#ca457a"/><stop offset="0.734" stop-color="#c43e7f"/><stop offset="0.791" stop-color="#b7318a"/><stop offset="0.898" stop-color="#bc3587"/><stop offset="1.000" stop-color="#a21d9a"/></linearGradient><linearGradient id="b25"><stop offset="0.000" stop-color="#a72197"/><stop offset="0.143" stop-color="#a11b9b"/><stop offset="0.201" stop-color="#8305a7"/><stop offset="0.242" stop-color="#6100a7"/><stop offset="0.266" stop-color="#5102a3"/><stop offset="0.291" stop-color="#4c02a1"/><stop offset="0.307" stop-color="#5302a3"/><stop offset="0.357" stop-color="#7a02a8"/><stop offset="0.398" stop-color="#99159f"/><stop offset="0.471" stop-color="#ba3388"/><stop offset="0.537" stop-color="#ca457a"/><stop offset="0.627" stop-color="#d24f71"/><stop offset="0.734" stop-color="#cc4977"/><stop offset="0.799" stop-color="#bb3488"/><stop offset="0.906" stop-color="#b32c8e"/><stop offset="1.000" stop-color="#a01a9c"/></linearGradient><linearGradient id="b26"><stop offset="0.000" stop-color="#a62098"/><stop offset="0.143" stop-color="#9e199d"/><stop offset="0.209" stop-color="#8104a7"/><stop offset="0.258" stop-color="#6400a7"/><stop offset="0.291" stop-color="#6001a6"/><stop offset="0.307" stop-color="#6900a8"/><stop offset="0.340" stop-color="#8606a6"/><stop offset="0.398" stop-color="#ab2494"/><stop offset="0.480" stop-color="#c5407e"/><stop offset="0.570" stop-color="#d35171"/><stop offset="0.635" stop-color="#d6556d"/><stop offset="0.742" stop-color="#d14e72"/><stop offset="0.807" stop-color="#be3885"/><stop offset="0.996" stop-color="#9d189d"/><stop offset="1.000" stop-color="#9d189d"/></linearGradient><linearGradient id="b27"><stop offset="0.000" stop-color="#a51f99"/><stop offset="0.152" stop-color="#9c179e"/><stop offset="0.234" stop-color="#7801a8"/><stop offset="0.258" stop-color="#6e00a8"/><stop offset="0.291" stop-color="#6e00a8"/><stop offset="0.316" stop-color="#7d03a8"/><stop offset="0.357" stop-color="#9d189d"/><stop offset="0.406" stop-color="#b52f8c"/><stop offset="0.504" stop-color="#ce4b75"/><stop offset="0.635" stop-color="#da5b69"/><stop offset="0.742" stop-color="#d5546e"/><stop offset="0.840" stop-color="#b83289"/><stop offset="0.939" stop-color="#a31e9a"/><stop offset="1.000" stop-color="#9c179e"/></linearGradient><linearGradient id="b28"><stop offset="0.000" stop-color="#a31e9a"/><stop offset="0.143" stop-color="#9e199d"/><stop offset="0.234" stop-color="#8004a8"/><stop offset="0.258" stop-color="#7701a8"/><stop offset="0.291" stop-color="#7a02a8"/><stop offset="0.316" stop-color="#8a09a5"/><stop offset="0.373" stop-color="#ae2892"/><stop offset="0.447" stop-color="#c6417d"/><stop offset="0.561" stop-color="#d8576b"/><stop offset="0.635" stop-color="#dd5e66"/><stop offset="0.750" stop-color="#d7566c"/><stop offset="0.865" stop-color="#b22b8f"/><stop offset="0.971" stop-color="#9d189d"/><stop offset="1.000" stop-color="#9a169f"/></linearGradient><linearGradient id="b29"><stop offset="0.000" stop-color="#a31e9a"/><stop offset="0.152" stop-color="#9d189d"/><stop offset="0.258" stop-color="#8104a7"/><stop offset="0.283" stop-color="#8405a7"/><stop offset="0.307" stop-color="#8f0da4"/><stop offset="0.357" stop-color="#ae2892"/><stop offset="0.414" stop-color="#c23c81"/><stop offset="0.529" stop-color="#d7566c"/><stop offset="0.635" stop-color="#de6164"/><stop offset="0.750" stop-color="#da5a6a"/><stop offset="0.873" stop-color="#b02991"/><stop offset="0.955" stop-color="#9e199d"/><stop offset="1.000" stop-color="#9a169f"/></linearGradient><linearGradient id="b30"><stop offset="0.000" stop-color="#a31e9a"/><stop offset="0.152" stop-color="#9e199d"/><stop offset="0.266" stop-color="#8a09a5"/><stop offset="0.307" stop-color="#9c179e"/><stop offset="0.365" stop-color="#ba3388"/><stop offset="0.471" stop-color="#d24f71"/><stop offset="0.619" stop-color="#e16462"/><stop offset="0.750" stop-color="#dc5d67"/><stop offset="0.783" stop-color="#d45270"/><stop offset="0.873" stop-color="#b02991"/><stop offset="0.947" stop-color="#9e199d"/><stop offset="1.000" stop-color="#9a169f"/></linearGradient><linearGradient id="b31"><stop offset="0.000" stop-color="#a51f99"/><stop offset="0.176" stop-color="#9d189d"/><stop offset="0.258" stop-color="#9410a2"/><stop offset="0.283" stop-color="#9a169f"/><stop offset="0.365" stop-color="#c13b82"/><stop offset="0.520" stop-color="#db5c68"/><stop offset="0.627" stop-color="#e3685f"/><stop offset="0.758" stop-color="#de6164"/><stop offset="0.840" stop-color="#be3885"/><stop offset="0.881" stop-color="#ac2694"/><stop offset="0.939" stop-color="#9e199d"/><stop offset="1.000" stop-color="#9a169f"/></linearGradient><linearGradient id="b32"><stop offset="0.000" stop-color="#a62098"/><stop offset="0.193" stop-color="#a01a9c"/><stop offset="0.258" stop-color="#9c179e"/><stop offset="0.365" stop-color="#c7427c"/><stop offset="0.520" stop-color="#de5f65"/><stop offset="0.635" stop-color="#e56a5d"/><stop offset="0.758" stop-color="#e16462"/><stop offset="0.816" stop-color="#cc4977"/><stop offset="0.873" stop-color="#b02991"/><stop offset="0.939" stop-color="#9e199d"/><stop offset="1.000" stop-color="#9c179e"/></linearGradient><linearGradient id="b33"><stop offset="0.000" stop-color="#aa2395"/><stop offset="0.242" stop-color="#a31e9a"/><stop offset="0.275" stop-color="#ab2494"/><stop offset="0.340" stop-color="#c6417d"/><stop offset="0.422" stop-color="#d5546e"/><stop offset="0.578" stop-color="#e56a5d"/><stop offset="0.652" stop-color="#e76e5b"/><stop offset="0.766" stop-color="#e3685f"/><stop offset="0.840" stop-color="#c33d80"/><stop offset="0.881" stop-color="#b02991"/><stop offset="0.939" stop-color="#a11b9b"/><stop offset="1.000" stop-color="#9e199d"/></linearGradient><linearGradient id="b34"><stop offset="0.000" stop-color="#ad2793"/><stop offset="0.234" stop-color="#aa2395"/><stop offset="0.283" stop-color="#b7318a"/><stop offset="0.340" stop-color="#cc4977"/><stop offset="0.406" stop-color="#d8576b"/><stop offset="0.619" stop-color="#e97158"/><stop offset="0.766" stop-color="#e66c5c"/><stop offset="0.807" stop-color="#d6556d"/><stop offset="0.873" stop-color="#b52f8c"/><stop offset="0.947" stop-color="#a31e9a"/><stop offset="1.000" stop-color="#a21d9a"/></linearGradient><linearGradient id="b35"><stop offset="0.000" stop-color="#b22b8f"/><stop offset="0.225" stop-color="#b02991"/><stop offset="0.275" stop-color="#bc3587"/><stop offset="0.324" stop-color="#cf4c74"/><stop offset="0.406" stop-color="#dc5d67"/><stop offset="0.627" stop-color="#eb7556"/><stop offset="0.766" stop-color="#e97158"/><stop offset="0.791" stop-color="#e26561"/><stop offset="0.857" stop-color="#bf3984"/><stop offset="0.898" stop-color="#b12a90"/><stop offset="0.955" stop-color="#a62098"/><stop offset="1.000" stop-color="#a62098"/></linearGradient><linearGradient id="b36"><stop offset="0.000" stop-color="#b42e8d"/><stop offset="0.225" stop-color="#b42e8d"/><stop offset="0.275" stop-color="#c23c81"/><stop offset="0.332" stop-color="#d5546e"/><stop offset="0.430" stop-color="#e16462"/><stop offset="0.635" stop-color="#ec7754"/><stop offset="0.775" stop-color="#e97257"/><stop offset="0.848" stop-color="#c6417d"/><stop offset="0.881" stop-color="#b7318a"/><stop offset="0.947" stop-color="#aa2395"/><stop offset="1.000" stop-color="#aa2395"/></linearGradient><linearGradient id="b37"><stop offset="0.000" stop-color="#b6308b"/><stop offset="0.225" stop-color="#b7318a"/><stop offset="0.275" stop-color="#c5407e"/><stop offset="0.324" stop-color="#d5546e"/><stop offset="0.398" stop-color="#df6263"/><stop offset="0.627" stop-color="#ed7953"/><stop offset="0.775" stop-color="#eb7556"/><stop offset="0.865" stop-color="#c03a83"/><stop offset="0.930" stop-color="#ae2892"/><stop offset="1.000" stop-color="#ac2694"/></linearGradient><linearGradient id="b38"><stop offset="0.000" stop-color="#b83289"/><stop offset="0.217" stop-color="#ba3388"/><stop offset="0.275" stop-color="#c8437b"/><stop offset="0.324" stop-color="#d8576b"/><stop offset="0.480" stop-color="#e76e5b"/><stop offset="0.643" stop-color="#ee7b51"/><stop offset="0.775" stop-color="#ec7754"/><stop offset="0.848" stop-color="#cb4679"/><stop offset="0.881" stop-color="#bd3786"/><stop offset="0.947" stop-color="#ae2892"/><stop offset="1.000" stop-color="#ae2892"/></linearGradient><linearGradient id="b39"><stop offset="0.000" stop-color="#bb3488"/><stop offset="0.209" stop-color="#bc3587"/><stop offset="0.275" stop-color="#cc4778"/><stop offset="0.316" stop-color="#d9586a"/><stop offset="0.463" stop-color="#e76e5b"/><stop offset="0.643" stop-color="#ef7c51"/><stop offset="0.775" stop-color="#ed7953"/><stop offset="0.832" stop-color="#d5536f"/><stop offset="0.881" stop-color="#bf3984"/><stop offset="0.947" stop-color="#b22b8f"/><stop offset="1.000" stop-color="#b12a90"/></linearGradient><linearGradient id="b40"><stop offset="0.000" stop-color="#bc3587"/><stop offset="0.209" stop-color="#bf3984"/><stop offset="0.275" stop-color="#ce4b75"/><stop offset="0.324" stop-color="#dc5d67"/><stop offset="0.504" stop-color="#ea7457"/><stop offset="0.643" stop-color="#ef7e50"/><stop offset="0.775" stop-color="#ee7b51"/><stop offset="0.840" stop-color="#d35171"/><stop offset="0.881" stop-color="#c13b82"/><stop offset="0.947" stop-color="#b42e8d"/><stop offset="1.000" stop-color="#b32c8e"/></linearGradient><linearGradient id="b41"><stop offset="0.000" stop-color="#be3885"/><stop offset="0.201" stop-color="#c13b82"/><stop offset="0.266" stop-color="#ce4b75"/><stop offset="0.324" stop-color="#de5f65"/><stop offset="0.496" stop-color="#eb7556"/><stop offset="0.643" stop-color="#f07f4f"/><stop offset="0.775" stop-color="#ef7e50"/><stop offset="0.865" stop-color="#ca457a"/><stop offset="0.939" stop-color="#b7318a"/><stop offset="1.000" stop-color="#b52f8c"/></linearGradient><linearGradient id="b42"><stop offset="0.000" stop-color="#c03a83"/><stop offset="0.184" stop-color="#c33d80"/><stop offset="0.242" stop-color="#cc4778"/><stop offset="0.324" stop-color="#df6263"/><stop offset="0.488" stop-color="#eb7655"/><stop offset="0.652" stop-color="#f1814d"/><stop offset="0.775" stop-color="#f0804e"/><stop offset="0.865" stop-color="#cc4778"/><stop offset="0.939" stop-color="#ba3388"/><stop offset="1.000" stop-color="#b7318a"/></linearGradient><linearGradient id="b43"><stop offset="0.000" stop-color="#c23c81"/><stop offset="0.176" stop-color="#c5407e"/><stop offset="0.234" stop-color="#cc4977"/><stop offset="0.324" stop-color="#e26561"/><stop offset="0.586" stop-color="#f0804e"/><stop offset="0.766" stop-color="#f2844b"/><stop offset="0.791" stop-color="#ed7953"/><stop offset="0.865" stop-color="#cd4a76"/><stop offset="0.939" stop-color="#bc3587"/><stop offset="1.000" stop-color="#ba3388"/></linearGradient><linearGradient id="b44"><stop offset="0.000" stop-color="#c43e7f"/><stop offset="0.176" stop-color="#c8437b"/><stop offset="0.234" stop-color="#d04d73"/><stop offset="0.316" stop-color="#e3685f"/><stop offset="0.611" stop-color="#f2844b"/><stop offset="0.775" stop-color="#f3854b"/><stop offset="0.848" stop-color="#d7566c"/><stop offset="0.889" stop-color="#ca457a"/><stop offset="0.947" stop-color="#be3885"/><stop offset="1.000" stop-color="#bc3587"/></linearGradient><linearGradient id="b45"><stop offset="0.000" stop-color="#c6417d"/><stop offset="0.168" stop-color="#cb4679"/><stop offset="0.234" stop-color="#d5536f"/><stop offset="0.307" stop-color="#e56a5d"/><stop offset="0.496" stop-color="#ef7e50"/><stop offset="0.701" stop-color="#f48948"/><stop offset="0.775" stop-color="#f48849"/><stop offset="0.832" stop-color="#e26561"/><stop offset="0.873" stop-color="#d14e72"/><stop offset="0.939" stop-color="#c23c81"/><stop offset="1.000" stop-color="#bf3984"/></linearGradient><linearGradient id="b46"><stop offset="0.000" stop-color="#c9447a"/><stop offset="0.160" stop-color="#cd4a76"/><stop offset="0.225" stop-color="#d6556d"/><stop offset="0.307" stop-color="#e76f5a"/><stop offset="0.635" stop-color="#f58b47"/><stop offset="0.775" stop-color="#f58c46"/><stop offset="0.840" stop-color="#e16462"/><stop offset="0.881" stop-color="#d24f71"/><stop offset="0.939" stop-color="#c6417d"/><stop offset="1.000" stop-color="#c33d80"/></linearGradient><linearGradient id="b47"><stop offset="0.000" stop-color="#cc4778"/><stop offset="0.160" stop-color="#d04d73"/><stop offset="0.225" stop-color="#da5b69"/><stop offset="0.299" stop-color="#e97257"/><stop offset="0.652" stop-color="#f68d45"/><stop offset="0.775" stop-color="#f68f44"/><stop offset="0.816" stop-color="#ed7953"/><stop offset="0.865" stop-color="#da5a6a"/><stop offset="0.947" stop-color="#c8437b"/><stop offset="1.000" stop-color="#c6417d"/></linearGradient><linearGradient id="b48"><stop offset="0.000" stop-color="#cd4a76"/><stop offset="0.160" stop-color="#d45270"/><stop offset="0.225" stop-color="#de6164"/><stop offset="0.291" stop-color="#eb7655"/><stop offset="0.684" stop-color="#f79143"/><stop offset="0.775" stop-color="#f79342"/><stop offset="0.824" stop-color="#ec7754"/><stop offset="0.865" stop-color="#dd5e66"/><stop offset="0.939" stop-color="#cc4778"/><stop offset="1.000" stop-color="#c9447a"/></linearGradient><linearGradient id="b49"><stop offset="0.000" stop-color="#d04d73"/><stop offset="0.152" stop-color="#d5546e"/><stop offset="0.209" stop-color="#de5f65"/><stop offset="0.291" stop-color="#ef7c51"/><stop offset="0.758" stop-color="#f9973f"/><stop offset="0.783" stop-color="#f79342"/><stop offset="0.848" stop-color="#e56a5d"/><stop offset="0.922" stop-color="#d14e72"/><stop offset="1.000" stop-color="#cc4778"/></linearGradient><linearGradient id="b50"><stop offset="0.000" stop-color="#d24f71"/><stop offset="0.160" stop-color="#d8576b"/><stop offset="0.234" stop-color="#e66c5c"/><stop offset="0.299" stop-color="#f0804e"/><stop offset="0.758" stop-color="#f9983e"/><stop offset="0.783" stop-color="#f89540"/><stop offset="0.873" stop-color="#df6263"/><stop offset="0.947" stop-color="#d04d73"/><stop offset="1.000" stop-color="#cd4a76"/></linearGradient><linearGradient id="b51"><stop offset="0.000" stop-color="#d35171"/><stop offset="0.152" stop-color="#d9586a"/><stop offset="0.217" stop-color="#e4695e"/><stop offset="0.291" stop-color="#f1814d"/><stop offset="0.766" stop-color="#f99a3e"/><stop offset="0.791" stop-color="#f79342"/><stop offset="0.873" stop-color="#e16462"/><stop offset="0.947" stop-color="#d24f71"/><stop offset="1.000" stop-color="#cf4c74"/></linearGradient><linearGradient id="b52"><stop offset="0.000" stop-color="#d5536f"/><stop offset="0.152" stop-color="#da5b69"/><stop offset="0.217" stop-color="#e56b5d"/><stop offset="0.283" stop-color="#f1814d"/><stop offset="0.742" stop-color="#fa9b3d"/><stop offset="0.783" stop-color="#f9983e"/><stop offset="0.840" stop-color="#ed7953"/><stop offset="0.873" stop-color="#e26660"/><stop offset="0.947" stop-color="#d45270"/><stop offset="1.000" stop-color="#d14e72"/></linearGradient><linearGradient id="b53"><stop offset="0.000" stop-color="#d6556d"/><stop offset="0.152" stop-color="#dc5d67"/><stop offset="0.291" stop-color="#f3854b"/><stop offset="0.750" stop-color="#fa9c3c"/><stop offset="0.783" stop-color="#f99a3e"/><stop offset="0.840" stop-color="#ee7b51"/><stop offset="0.881" stop-color="#e26660"/><stop offset="0.947" stop-color="#d5546e"/><stop offset="1.000" stop-color="#d35171"/></linearGradient><linearGradient id="b54"><stop offset="0.000" stop-color="#d8576b"/><stop offset="0.143" stop-color="#dd5e66"/><stop offset="0.217" stop-color="#e97158"/><stop offset="0.291" stop-color="#f48849"/><stop offset="0.750" stop-color="#fa9e3b"/><stop offset="0.783" stop-color="#fa9b3d"/><stop offset="0.824" stop-color="#f48849"/><stop offset="0.881" stop-color="#e4695e"/><stop offset="0.947" stop-color="#d7566c"/><stop offset="1.000" stop-color="#d5536f"/></linearGradient><linearGradient id="b55"><stop offset="0.000" stop-color="#d9586a"/><stop offset="0.143" stop-color="#de6164"/><stop offset="0.291" stop-color="#f58b47"/><stop offset="0.758" stop-color="#fb9f3a"/><stop offset="0.791" stop-color="#fa9b3d"/><stop offset="0.881" stop-color="#e56b5d"/><stop offset="0.947" stop-color="#d9586a"/><stop offset="1.000" stop-color="#d6556d"/></linearGradient><linearGradient id="b56"><stop offset="0.000" stop-color="#da5b69"/><stop offset="0.143" stop-color="#e06363"/><stop offset="0.283" stop-color="#f58b47"/><stop offset="0.660" stop-color="#fa9e3b"/><stop offset="0.783" stop-color="#fb9f3a"/><stop offset="0.840" stop-color="#f1834c"/><stop offset="0.898" stop-color="#e3685f"/><stop offset="0.963" stop-color="#d9586a"/><stop offset="1.000" stop-color="#d8576b"/></linearGradient><linearGradient id="b57"><stop offset="0.000" stop-color="#dc5d67"/><stop offset="0.135" stop-color="#e16462"/><stop offset="0.217" stop-color="#ed7a52"/><stop offset="0.283" stop-color="#f68d45"/><stop offset="0.652" stop-color="#fb9f3a"/><stop offset="0.783" stop-color="#fba139"/><stop offset="0.832" stop-color="#f58b47"/><stop offset="0.881" stop-color="#e87059"/><stop offset="0.955" stop-color="#db5c68"/><stop offset="1.000" stop-color="#d9586a"/></linearGradient><linearGradient id="b58"><stop offset="0.000" stop-color="#de5f65"/><stop offset="0.135" stop-color="#e26660"/><stop offset="0.283" stop-color="#f79044"/><stop offset="0.643" stop-color="#fba139"/><stop offset="0.783" stop-color="#fba238"/><stop offset="0.824" stop-color="#f79143"/><stop offset="0.889" stop-color="#e87059"/><stop offset="0.955" stop-color="#dd5e66"/><stop offset="1.000" stop-color="#da5b69"/></linearGradient><linearGradient id="b59"><stop offset="0.000" stop-color="#de6164"/><stop offset="0.135" stop-color="#e4695e"/><stop offset="0.283" stop-color="#f79342"/><stop offset="0.643" stop-color="#fba238"/><stop offset="0.791" stop-color="#fba238"/><stop offset="0.873" stop-color="#ed7a52"/><stop offset="0.939" stop-color="#e06363"/><stop offset="1.000" stop-color="#dc5d67"/></linearGradient><linearGradient id="b60"><stop offset="0.000" stop-color="#e06363"/><stop offset="0.135" stop-color="#e56b5d"/><stop offset="0.283" stop-color="#f89540"/><stop offset="0.635" stop-color="#fca338"/><stop offset="0.791" stop-color="#fca338"/><stop offset="0.840" stop-color="#f68f44"/><stop offset="0.906" stop-color="#e76f5a"/><stop offset="0.963" stop-color="#df6263"/><stop offset="1.000" stop-color="#de5f65"/></linearGradient><linearGradient id="b61"><stop offset="0.000" stop-color="#e26561"/><stop offset="0.127" stop-color="#e66c5c"/><stop offset="0.266" stop-color="#f89441"/><stop offset="0.357" stop-color="#fa9c3c"/><stop offset="0.709" stop-color="#fca636"/><stop offset="0.791" stop-color="#fca636"/><stop offset="0.865" stop-color="#f2844b"/><stop offset="0.914" stop-color="#e76f5a"/><stop offset="0.963" stop-color="#e16462"/><stop offset="1.000" stop-color="#df6263"/></linearGradient><linearGradient id="b62"><stop offset="0.000" stop-color="#e3685f"/><stop offset="0.127" stop-color="#e87059"/><stop offset="0.258" stop-color="#f89540"/><stop offset="0.332" stop-color="#fa9e3b"/><stop offset="0.717" stop-color="#fca835"/><stop offset="0.799" stop-color="#fca537"/><stop offset="0.889" stop-color="#ee7b51"/><stop offset="0.955" stop-color="#e3685f"/><stop offset="1.000" stop-color="#e26561"/></linearGradient><linearGradient id="b63"><stop offset="0.000" stop-color="#e56a5d"/><stop offset="0.127" stop-color="#eb7556"/><stop offset="0.258" stop-color="#f9983e"/><stop offset="0.340" stop-color="#fba139"/><stop offset="0.652" stop-color="#fca835"/><stop offset="0.791" stop-color="#fca835"/><stop offset="0.848" stop-color="#f79342"/><stop offset="0.906" stop-color="#ed7953"/><stop offset="0.963" stop-color="#e56a5d"/><stop offset="1.000" stop-color="#e3685f"/></linearGradient><linearGradient id="b64"><stop offset="0.000" stop-color="#e66c5c"/><stop offset="0.111" stop-color="#eb7655"/><stop offset="0.266" stop-color="#fa9c3c"/><stop offset="0.357" stop-color="#fca338"/><stop offset="0.652" stop-color="#fca934"/><stop offset="0.799" stop-color="#fca835"/><stop offset="0.906" stop-color="#ef7c51"/><stop offset="0.955" stop-color="#e76f5a"/><stop offset="1.000" stop-color="#e56a5d"/></linearGradient><linearGradient id="b65"><stop offset="0.000" stop-color="#e76e5b"/><stop offset="0.119" stop-color="#ee7b51"/><stop offset="0.258" stop-color="#fb9f3a"/><stop offset="0.389" stop-color="#fca636"/><stop offset="0.693" stop-color="#fdab33"/><stop offset="0.799" stop-color="#fca934"/><stop offset="0.914" stop-color="#ef7c51"/><stop offset="0.971" stop-color="#e76f5a"/><stop offset="1.000" stop-color="#e66c5c"/></linearGradient><linearGradient id="b66"><stop offset="0.000" stop-color="#e87059"/><stop offset="0.086" stop-color="#ed7a52"/><stop offset="0.176" stop-color="#f68f44"/><stop offset="0.250" stop-color="#fba139"/><stop offset="0.340" stop-color="#fca835"/><stop offset="0.717" stop-color="#fdac33"/><stop offset="0.799" stop-color="#fdab33"/><stop offset="0.881" stop-color="#f68d45"/><stop offset="0.939" stop-color="#ec7754"/><stop offset="1.000" stop-color="#e76f5a"/></linearGradient><linearGradient id="b67"><stop offset="0.000" stop-color="#e97257"/><stop offset="0.086" stop-color="#ef7c51"/><stop offset="0.234" stop-color="#fba238"/><stop offset="0.348" stop-color="#fdab33"/><stop offset="0.766" stop-color="#fdac33"/><stop offset="0.816" stop-color="#fca835"/><stop offset="0.939" stop-color="#ee7b51"/><stop offset="1.000" stop-color="#e97257"/></linearGradient><linearGradient id="b68"><stop offset="0.000" stop-color="#eb7556"/><stop offset="0.094" stop-color="#f1814d"/><stop offset="0.225" stop-color="#fca537"/><stop offset="0.332" stop-color="#fdac33"/><stop offset="0.627" stop-color="#fdaf31"/><stop offset="0.799" stop-color="#fdac33"/><stop offset="0.873" stop-color="#f9983e"/><stop offset="0.939" stop-color="#f07f4f"/><stop offset="1.000" stop-color="#eb7556"/></linearGradient><linearGradient id="b69"><stop offset="0.000" stop-color="#ec7754"/><stop offset="0.078" stop-color="#f1814d"/><stop offset="0.217" stop-color="#fca835"/><stop offset="0.340" stop-color="#fdaf31"/><stop offset="0.701" stop-color="#fdb130"/><stop offset="0.816" stop-color="#fdac33"/><stop offset="0.881" stop-color="#f9983e"/><stop offset="0.939" stop-color="#f1814d"/><stop offset="1.000" stop-color="#ec7754"/></linearGradient><linearGradient id="b70"><stop offset="0.000" stop-color="#ef7e50"/><stop offset="0.094" stop-color="#f68d45"/><stop offset="0.217" stop-color="#fdae32"/><stop offset="0.463" stop-color="#fdb52e"/><stop offset="0.807" stop-color="#fdb130"/><stop offset="0.889" stop-color="#f99a3e"/><stop offset="0.963" stop-color="#f1834c"/><stop offset="1.000" stop-color="#ef7e50"/></linearGradient><linearGradient id="b71"><stop offset="0.000" stop-color="#f2844b"/><stop offset="0.086" stop-color="#f89441"/><stop offset="0.217" stop-color="#fdb42f"/><stop offset="0.578" stop-color="#feba2c"/><stop offset="0.807" stop-color="#fdb42f"/><stop offset="0.980" stop-color="#f3874a"/><stop offset="1.000" stop-color="#f2844b"/></linearGradient><linearGradient id="b72"><stop offset="0.000" stop-color="#f58c46"/><stop offset="0.217" stop-color="#feba2c"/><stop offset="0.725" stop-color="#febb2b"/><stop offset="0.816" stop-color="#feb72d"/><stop offset="0.988" stop-color="#f68d45"/><stop offset="1.000" stop-color="#f58c46"/></linearGradient><linearGradient id="b73"><stop offset="0.000" stop-color="#fa9b3d"/><stop offset="0.217" stop-color="#febd2a"/><stop offset="0.807" stop-color="#febb2b"/><stop offset="1.000" stop-color="#fa9b3d"/></linearGradient><linearGradient id="b74"><stop offset="0.000" stop-color="#fdac33"/><stop offset="0.209" stop-color="#febe2a"/><stop offset="0.824" stop-color="#febd2a"/><stop offset="1.000" stop-color="#fdac33"/></linearGradient><linearGradient id="b75"><stop offset="0.000" stop-color="#febd2a"/><stop offset="0.160" stop-color="#fdc328"/><stop offset="0.570" stop-color="#febb2b"/><stop offset="0.857" stop-color="#fec029"/><stop offset="1.000" stop-color="#febd2a"/></linearGradient><linearGradient id="b76"><stop offset="0.000" stop-color="#fdcb26"/><stop offset="0.201" stop-color="#fdc627"/><stop offset="0.406" stop-color="#febd2a"/><stop offset="0.619" stop-color="#febb2b"/><stop offset="1.000" stop-color="#fdca26"/></linearGradient><linearGradient id="b77"><stop offset="0.000" stop-color="#fcce25"/><stop offset="0.184" stop-color="#fdca26"/><stop offset="0.414" stop-color="#febb2b"/><stop offset="0.611" stop-color="#feba2c"/><stop offset="1.000" stop-color="#fcce25"/></linearGradient><linearGradient id="b78"><stop offset="0.000" stop-color="#fcd225"/><stop offset="0.193" stop-color="#fdcb26"/><stop offset="0.373" stop-color="#febd2a"/><stop offset="0.553" stop-color="#feb82c"/><stop offset="0.775" stop-color="#fdc229"/><stop offset="0.889" stop-color="#fcce25"/><stop offset="1.000" stop-color="#fcd225"/></linearGradient><linearGradient id="b79"><stop offset="0.000" stop-color="#fcd225"/><stop offset="0.209" stop-color="#fdcb26"/><stop offset="0.414" stop-color="#febe2a"/><stop offset="0.611" stop-color="#febd2a"/><stop offset="0.783" stop-color="#fdc527"/><stop offset="0.889" stop-color="#fcce25"/><stop offset="1.000" stop-color="#fcd225"/></linearGradient><linearGradient id="b80"><stop offset="0.000" stop-color="#fcd025"/><stop offset="0.234" stop-color="#fdcb26"/><stop offset="0.414" stop-color="#fdc328"/><stop offset="0.611" stop-color="#fdc229"/><stop offset="0.963" stop-color="#fcd025"/><stop offset="1.000" stop-color="#fcd025"/></linearGradient><linearGradient id="b81"><stop offset="0.000" stop-color="#fcd025"/><stop offset="0.602" stop-color="#fdc627"/><stop offset="1.000" stop-color="#fcd025"/></linearGradient><linearGradient id="b82"><stop offset="0.000" stop-color="#fcce25"/><stop offset="0.807" stop-color="#fccd25"/><stop offset="1.000" stop-color="#fcce25"/></linearGradient><linearGradient id="b83"><stop offset="0.000" stop-color="#fcd025"/><stop offset="1.000" stop-color="#fcd025"/></linearGradient><linearGradient id="b84"><stop offset="0.000" stop-color="#fcd225"/><stop offset="1.000" stop-color="#fcd225"/></linearGradient><linearGradient id="b85"><stop offset="0.000" stop-color="#fbd324"/><stop offset="1.000" stop-color="#fbd324"/></linearGradient><linearGradient id="b86"><stop offset="0.000" stop-color="#fbd524"/><stop offset="1.000" stop-color="#fbd524"/></linearGradient><linearGradient id="b87"><stop offset="0.000" stop-color="#fbd724"/><stop offset="1.000" stop-color="#fbd724"/></linearGradient><linearGradient id="b88"><stop offset="0.000" stop-color="#fad824"/><stop offset="1.000" stop-color="#fad824"/></linearGradient><linearGradient id="b89"><stop offset="0.000" stop-color="#f9dc24"/><stop offset="1.000" stop-color="#f9dc24"/></linearGradient><linearGradient id="b90"><stop offset="0.000" stop-color="#f9dd25"/><stop offset="1.000" stop-color="#f9dd25"/></linearGradient><linearGradient id="b91"><stop offset="0.000" stop-color="#f8df25"/><stop offset="1.000" stop-color="#f8df25"/></linearGradient><linearGradient id="b92"><stop offset="0.000" stop-color="#f7e225"/><stop offset="1.000" stop-color="#f7e225"/></linearGradient><linearGradient id="b93"><stop offset="0.000" stop-color="#f7e425"/><stop offset="1.000" stop-color="#f7e425"/></linearGradient><linearGradient id="b94"><stop offset="0.000" stop-color="#f6e826"/><stop offset="1.000" stop-color="#f6e826"/></linearGradient><clipPath id="cb"><rect x="402.3" y="12.7" width="242.4" height="225.7"/></clipPath></defs>
<g clip-path="url(#cb)"><rect x="402.3" y="12.00" width="242.4" height="1.00" fill="url(#b0)"/><rect x="402.3" y="13.00" width="242.4" height="1.00" fill="url(#b1)"/><rect x="402.3" y="14.00" width="242.4" height="1.00" fill="url(#b2)"/><rect x="402.3" y="15.00" width="242.4" height="1.00" fill="url(#b3)"/><rect x="402.3" y="16.00" width="242.4" height="1.00" fill="url(#b4)"/><rect x="402.3" y="17.00" width="242.4" height="1.00" fill="url(#b5)"/><rect x="402.3" y="18.00" width="242.4" height="1.00" fill="url(#b6)"/><rect x="402.3" y="19.00" width="242.4" height="1.00" fill="url(#b7)"/><rect x="402.3" y="20.00" width="242.4" height="1.00" fill="url(#b8)"/><rect x="402.3" y="21.00" width="242.4" height="1.00" fill="url(#b9)"/><rect x="402.3" y="22.00" width="242.4" height="1.00" fill="url(#b10)"/><rect x="402.3" y="23.00" width="242.4" height="1.00" fill="url(#b11)"/><rect x="402.3" y="24.00" width="242.4" height="1.00" fill="url(#b12)"/><rect x="402.3" y="25.00" width="242.4" height="1.00" fill="url(#b13)"/><rect x="402.3" y="26.00" width="242.4" height="2.00" fill="url(#b14)"/><rect x="402.3" y="28.00" width="242.4" height="2.00" fill="url(#b15)"/><rect x="402.3" y="30.00" width="242.4" height="2.00" fill="url(#b16)"/><rect x="402.3" y="32.00" width="242.4" height="2.00" fill="url(#b17)"/><rect x="402.3" y="34.00" width="242.4" height="2.00" fill="url(#b18)"/><rect x="402.3" y="36.00" width="242.4" height="2.00" fill="url(#b19)"/><rect x="402.3" y="38.00" width="242.4" height="2.00" fill="url(#b20)"/><rect x="402.3" y="40.00" width="242.4" height="2.00" fill="url(#b21)"/><rect x="402.3" y="42.00" width="242.4" height="2.00" fill="url(#b22)"/><rect x="402.3" y="44.00" width="242.4" height="2.00" fill="url(#b23)"/><rect x="402.3" y="46.00" width="242.4" height="2.00" fill="url(#b24)"/><rect x="402.3" y="48.00" width="242.4" height="2.00" fill="url(#b25)"/><rect x="402.3" y="50.00" width="242.4" height="2.00" fill="url(#b26)"/><rect x="402.3" y="52.00" width="242.4" height="2.00" fill="url(#b27)"/><rect x="402.3" y="54.00" width="242.4" height="2.00" fill="url(#b28)"/><rect x="402.3" y="56.00" width="242.4" height="2.00" fill="url(#b29)"/><rect x="402.3" y="58.00" width="242.4" height="2.00" fill="url(#b30)"/><rect x="402.3" y="60.00" width="242.4" height="2.00" fill="url(#b31)"/><rect x="402.3" y="62.00" width="242.4" height="2.00" fill="url(#b32)"/><rect x="402.3" y="64.00" width="242.4" height="2.00" fill="url(#b33)"/><rect x="402.3" y="66.00" width="242.4" height="2.00" fill="url(#b34)"/><rect x="402.3" y="68.00" width="242.4" height="2.00" fill="url(#b35)"/><rect x="402.3" y="70.00" width="242.4" height="2.00" fill="url(#b36)"/><rect x="402.3" y="72.00" width="242.4" height="2.00" fill="url(#b37)"/><rect x="402.3" y="74.00" width="242.4" height="2.00" fill="url(#b38)"/><rect x="402.3" y="76.00" width="242.4" height="2.00" fill="url(#b39)"/><rect x="402.3" y="78.00" width="242.4" height="2.00" fill="url(#b40)"/><rect x="402.3" y="80.00" width="242.4" height="2.00" fill="url(#b41)"/><rect x="402.3" y="82.00" width="242.4" height="2.00" fill="url(#b42)"/><rect x="402.3" y="84.00" width="242.4" height="2.00" fill="url(#b43)"/><rect x="402.3" y="86.00" width="242.4" height="3.00" fill="url(#b44)"/><rect x="402.3" y="89.00" width="242.4" height="3.00" fill="url(#b45)"/><rect x="402.3" y="92.00" width="242.4" height="3.00" fill="url(#b46)"/><rect x="402.3" y="95.00" width="242.4" height="3.00" fill="url(#b47)"/><rect x="402.3" y="98.00" width="242.4" height="3.00" fill="url(#b48)"/><rect x="402.3" y="101.00" width="242.4" height="3.00" fill="url(#b49)"/><rect x="402.3" y="104.00" width="242.4" height="3.00" fill="url(#b50)"/><rect x="402.3" y="107.00" width="242.4" height="3.00" fill="url(#b51)"/><rect x="402.3" y="110.00" width="242.4" height="3.00" fill="url(#b52)"/><rect x="402.3" y="113.00" width="242.4" height="3.00" fill="url(#b53)"/><rect x="402.3" y="116.00" width="242.4" height="3.00" fill="url(#b54)"/><rect x="402.3" y="119.00" width="242.4" height="3.00" fill="url(#b55)"/><rect x="402.3" y="122.00" width="242.4" height="3.00" fill="url(#b56)"/><rect x="402.3" y="125.00" width="242.4" height="3.00" fill="url(#b57)"/><rect x="402.3" y="128.00" width="242.4" height="3.00" fill="url(#b58)"/><rect x="402.3" y="131.00" width="242.4" height="3.00" fill="url(#b59)"/><rect x="402.3" y="134.00" width="242.4" height="3.00" fill="url(#b60)"/><rect x="402.3" y="137.00" width="242.4" height="3.00" fill="url(#b61)"/><rect x="402.3" y="140.00" width="242.4" height="3.00" fill="url(#b62)"/><rect x="402.3" y="143.00" width="242.4" height="3.00" fill="url(#b63)"/><rect x="402.3" y="146.00" width="242.4" height="3.00" fill="url(#b64)"/><rect x="402.3" y="149.00" width="242.4" height="3.00" fill="url(#b65)"/><rect x="402.3" y="152.00" width="242.4" height="3.00" fill="url(#b66)"/><rect x="402.3" y="155.00" width="242.4" height="3.00" fill="url(#b67)"/><rect x="402.3" y="158.00" width="242.4" height="3.00" fill="url(#b68)"/><rect x="402.3" y="161.00" width="242.4" height="3.00" fill="url(#b69)"/><rect x="402.3" y="164.00" width="242.4" height="3.00" fill="url(#b70)"/><rect x="402.3" y="167.00" width="242.4" height="3.00" fill="url(#b71)"/><rect x="402.3" y="170.00" width="242.4" height="3.00" fill="url(#b72)"/><rect x="402.3" y="173.00" width="242.4" height="3.00" fill="url(#b73)"/><rect x="402.3" y="176.00" width="242.4" height="3.00" fill="url(#b74)"/><rect x="402.3" y="179.00" width="242.4" height="3.00" fill="url(#b75)"/><rect x="402.3" y="182.00" width="242.4" height="3.00" fill="url(#b76)"/><rect x="402.3" y="185.00" width="242.4" height="3.00" fill="url(#b77)"/><rect x="402.3" y="188.00" width="242.4" height="3.00" fill="url(#b78)"/><rect x="402.3" y="191.00" width="242.4" height="3.00" fill="url(#b79)"/><rect x="402.3" y="194.00" width="242.4" height="3.00" fill="url(#b80)"/><rect x="402.3" y="197.00" width="242.4" height="3.00" fill="url(#b81)"/><rect x="402.3" y="200.00" width="242.4" height="3.00" fill="url(#b82)"/><rect x="402.3" y="203.00" width="242.4" height="3.00" fill="url(#b83)"/><rect x="402.3" y="206.00" width="242.4" height="3.00" fill="url(#b84)"/><rect x="402.3" y="209.00" width="242.4" height="3.00" fill="url(#b85)"/><rect x="402.3" y="212.00" width="242.4" height="3.00" fill="url(#b86)"/><rect x="402.3" y="215.00" width="242.4" height="3.00" fill="url(#b87)"/><rect x="402.3" y="218.00" width="242.4" height="3.00" fill="url(#b88)"/><rect x="402.3" y="221.00" width="242.4" height="3.00" fill="url(#b89)"/><rect x="402.3" y="224.00" width="242.4" height="3.00" fill="url(#b90)"/><rect x="402.3" y="227.00" width="242.4" height="3.00" fill="url(#b91)"/><rect x="402.3" y="230.00" width="242.4" height="3.00" fill="url(#b92)"/><rect x="402.3" y="233.00" width="242.4" height="3.00" fill="url(#b93)"/><rect x="402.3" y="236.00" width="242.4" height="3.00" fill="url(#b94)"/></g>
<rect x="402.3" y="12.7" width="242.4" height="225.7" fill="none" stroke="#111" stroke-width="0.6"/>
<text x="402.3" y="251.0" text-anchor="middle" font-size="8.33">0</text>
<text x="438.2" y="251.0" text-anchor="middle" font-size="8.33">50</text>
<text x="474.1" y="251.0" text-anchor="middle" font-size="8.33">100</text>
<text x="510.0" y="251.0" text-anchor="middle" font-size="8.33">150</text>
<text x="545.9" y="251.0" text-anchor="middle" font-size="8.33">200</text>
<text x="581.9" y="251.0" text-anchor="middle" font-size="8.33">250</text>
<text x="617.8" y="251.0" text-anchor="middle" font-size="8.33">300</text>
<text x="396.1" y="16.1" text-anchor="end" font-size="8.33">10<tspan dy="-3.2" font-size="5.83">−6</tspan></text>
<text x="396.1" y="72.5" text-anchor="end" font-size="8.33">10<tspan dy="-3.2" font-size="5.83">−4</tspan></text>
<text x="396.1" y="128.9" text-anchor="end" font-size="8.33">10<tspan dy="-3.2" font-size="5.83">−2</tspan></text>
<text x="396.1" y="185.4" text-anchor="end" font-size="8.33">10<tspan dy="-3.2" font-size="5.83">0</tspan></text>
<text x="396.1" y="241.8" text-anchor="end" font-size="8.33">10<tspan dy="-3.2" font-size="5.83">2</tspan></text>
<path d="M402.30 238.40v2.9M438.21 238.40v2.9M474.12 238.40v2.9M510.03 238.40v2.9M545.94 238.40v2.9M581.86 238.40v2.9M617.77 238.40v2.9M402.30 12.70h-2.9M402.30 69.12h-2.9M402.30 125.55h-2.9M402.30 181.97h-2.9M402.30 238.40h-2.9" stroke="#000" stroke-width="0.67" fill="none"/>
<path d="M402.30 21.19h-1.7M402.30 26.16h-1.7M402.30 29.69h-1.7M402.30 32.42h-1.7M402.30 34.65h-1.7M402.30 36.54h-1.7M402.30 38.18h-1.7M402.30 39.62h-1.7M402.30 40.91h-1.7M402.30 49.41h-1.7M402.30 54.37h-1.7M402.30 57.90h-1.7M402.30 60.63h-1.7M402.30 62.87h-1.7M402.30 64.75h-1.7M402.30 66.39h-1.7M402.30 67.83h-1.7M402.30 77.62h-1.7M402.30 82.59h-1.7M402.30 86.11h-1.7M402.30 88.84h-1.7M402.30 91.08h-1.7M402.30 92.97h-1.7M402.30 94.60h-1.7M402.30 96.05h-1.7M402.30 97.34h-1.7M402.30 105.83h-1.7M402.30 110.80h-1.7M402.30 114.32h-1.7M402.30 117.06h-1.7M402.30 119.29h-1.7M402.30 121.18h-1.7M402.30 122.82h-1.7M402.30 124.26h-1.7M402.30 134.04h-1.7M402.30 139.01h-1.7M402.30 142.54h-1.7M402.30 145.27h-1.7M402.30 147.50h-1.7M402.30 149.39h-1.7M402.30 151.03h-1.7M402.30 152.47h-1.7M402.30 153.76h-1.7M402.30 162.26h-1.7M402.30 167.22h-1.7M402.30 170.75h-1.7M402.30 173.48h-1.7M402.30 175.72h-1.7M402.30 177.60h-1.7M402.30 179.24h-1.7M402.30 180.68h-1.7M402.30 190.47h-1.7M402.30 195.44h-1.7M402.30 198.96h-1.7M402.30 201.69h-1.7M402.30 203.93h-1.7M402.30 205.82h-1.7M402.30 207.45h-1.7M402.30 208.90h-1.7M402.30 210.19h-1.7M402.30 218.68h-1.7M402.30 223.65h-1.7M402.30 227.17h-1.7M402.30 229.91h-1.7M402.30 232.14h-1.7M402.30 234.03h-1.7M402.30 235.67h-1.7M402.30 237.11h-1.7" stroke="#000" stroke-width="0.5" fill="none"/>
<text x="523.5" y="264.0" text-anchor="middle" font-size="10">Longitude</text>
<text transform="translate(371.0 125.5) rotate(-90)" text-anchor="middle" font-size="10">Pressure (bar)</text>
<text x="523.5" y="7.8" text-anchor="middle" font-size="10" xml:space="preserve">CH<tspan dy="1.6" font-size="7">4</tspan><tspan dy="-1.6">  const U</tspan></text>
<defs><linearGradient id="cbb" x1="0" y1="0" x2="0" y2="1"><stop offset="0.000" stop-color="#f0f921"/><stop offset="0.042" stop-color="#f6e826"/><stop offset="0.083" stop-color="#fbd524"/><stop offset="0.125" stop-color="#fdc527"/><stop offset="0.167" stop-color="#fdb42f"/><stop offset="0.208" stop-color="#fca338"/><stop offset="0.250" stop-color="#f89540"/><stop offset="0.292" stop-color="#f3874a"/><stop offset="0.333" stop-color="#ed7953"/><stop offset="0.375" stop-color="#e66c5c"/><stop offset="0.417" stop-color="#de5f65"/><stop offset="0.458" stop-color="#d5536f"/><stop offset="0.500" stop-color="#cc4778"/><stop offset="0.542" stop-color="#c13b82"/><stop offset="0.583" stop-color="#b52f8c"/><stop offset="0.625" stop-color="#aa2395"/><stop offset="0.667" stop-color="#9c179e"/><stop offset="0.708" stop-color="#8d0ba5"/><stop offset="0.750" stop-color="#7e03a8"/><stop offset="0.792" stop-color="#6e00a8"/><stop offset="0.833" stop-color="#5c01a6"/><stop offset="0.875" stop-color="#4c02a1"/><stop offset="0.917" stop-color="#3a049a"/><stop offset="0.958" stop-color="#260591"/><stop offset="1.000" stop-color="#0d0887"/></linearGradient></defs>
<rect x="659.6" y="12.7" width="11.9" height="225.7" fill="url(#cbb)" stroke="#000" stroke-width="0.67"/>
<text x="677.3" y="41.0" text-anchor="start" font-size="8.33">10<tspan dy="-3.2" font-size="5.83">−6</tspan></text>
<text x="677.3" y="91.1" text-anchor="start" font-size="8.33">10<tspan dy="-3.2" font-size="5.83">−10</tspan></text>
<text x="677.3" y="141.3" text-anchor="start" font-size="8.33">10<tspan dy="-3.2" font-size="5.83">−14</tspan></text>
<text x="677.3" y="191.4" text-anchor="start" font-size="8.33">10<tspan dy="-3.2" font-size="5.83">−18</tspan></text>
<text x="677.3" y="241.6" text-anchor="start" font-size="8.33">10<tspan dy="-3.2" font-size="5.83">−22</tspan></text>
<path d="M671.50 37.78h2.9M671.50 87.93h2.9M671.50 138.09h2.9M671.50 188.24h2.9M671.50 238.40h2.9" stroke="#000" stroke-width="0.67" fill="none"/>
<defs><linearGradient id="c0"><stop offset="0.000" stop-color="#e97158"/><stop offset="0.283" stop-color="#f2844b"/><stop offset="0.832" stop-color="#f1834c"/><stop offset="1.000" stop-color="#ea7457"/></linearGradient><linearGradient id="c1"><stop offset="0.000" stop-color="#ed7953"/><stop offset="0.266" stop-color="#f68f44"/><stop offset="0.832" stop-color="#f68d45"/><stop offset="1.000" stop-color="#ee7b51"/></linearGradient><linearGradient id="c2"><stop offset="0.000" stop-color="#f58c46"/><stop offset="0.258" stop-color="#fca537"/><stop offset="0.635" stop-color="#fca636"/><stop offset="0.824" stop-color="#fba238"/><stop offset="1.000" stop-color="#f58c46"/></linearGradient><linearGradient id="c3"><stop offset="0.000" stop-color="#f89540"/><stop offset="0.201" stop-color="#fca338"/><stop offset="0.766" stop-color="#fba139"/><stop offset="0.939" stop-color="#f9983e"/><stop offset="1.000" stop-color="#f79342"/></linearGradient><linearGradient id="c4"><stop offset="0.000" stop-color="#f89441"/><stop offset="0.135" stop-color="#f9983e"/><stop offset="0.299" stop-color="#f48849"/><stop offset="0.512" stop-color="#f79044"/><stop offset="0.619" stop-color="#f68d45"/><stop offset="0.684" stop-color="#f2844b"/><stop offset="0.840" stop-color="#f48849"/><stop offset="0.930" stop-color="#f79044"/><stop offset="1.000" stop-color="#f79143"/></linearGradient><linearGradient id="c5"><stop offset="0.000" stop-color="#f68f44"/><stop offset="0.119" stop-color="#f58c46"/><stop offset="0.275" stop-color="#e26660"/><stop offset="0.373" stop-color="#e4695e"/><stop offset="0.480" stop-color="#ef7c51"/><stop offset="0.561" stop-color="#ef7e50"/><stop offset="0.611" stop-color="#ec7754"/><stop offset="0.660" stop-color="#df6263"/><stop offset="0.709" stop-color="#dd5e66"/><stop offset="0.824" stop-color="#e56a5d"/><stop offset="0.955" stop-color="#f3874a"/><stop offset="1.000" stop-color="#f58c46"/></linearGradient><linearGradient id="c6"><stop offset="0.000" stop-color="#f3854b"/><stop offset="0.111" stop-color="#f07f4f"/><stop offset="0.250" stop-color="#cd4a76"/><stop offset="0.307" stop-color="#c8437b"/><stop offset="0.389" stop-color="#cd4a76"/><stop offset="0.471" stop-color="#e76e5b"/><stop offset="0.545" stop-color="#e97257"/><stop offset="0.602" stop-color="#e56a5d"/><stop offset="0.652" stop-color="#c8437b"/><stop offset="0.693" stop-color="#c03a83"/><stop offset="0.791" stop-color="#c9447a"/><stop offset="0.873" stop-color="#dc5d67"/><stop offset="0.955" stop-color="#ed7a52"/><stop offset="1.000" stop-color="#f1834c"/></linearGradient><linearGradient id="c7"><stop offset="0.000" stop-color="#ee7b51"/><stop offset="0.102" stop-color="#e97257"/><stop offset="0.168" stop-color="#d24f71"/><stop offset="0.234" stop-color="#b6308b"/><stop offset="0.299" stop-color="#a72197"/><stop offset="0.373" stop-color="#ae2892"/><stop offset="0.398" stop-color="#b52f8c"/><stop offset="0.447" stop-color="#d5536f"/><stop offset="0.471" stop-color="#e16462"/><stop offset="0.537" stop-color="#e76e5b"/><stop offset="0.594" stop-color="#e16462"/><stop offset="0.602" stop-color="#de5f65"/><stop offset="0.643" stop-color="#b12a90"/><stop offset="0.668" stop-color="#a31e9a"/><stop offset="0.701" stop-color="#9d189d"/><stop offset="0.799" stop-color="#ae2892"/><stop offset="0.898" stop-color="#d5536f"/><stop offset="0.955" stop-color="#e56b5d"/><stop offset="1.000" stop-color="#eb7655"/></linearGradient><linearGradient id="c8"><stop offset="0.000" stop-color="#e76f5a"/><stop offset="0.102" stop-color="#e16462"/><stop offset="0.176" stop-color="#bb3488"/><stop offset="0.234" stop-color="#99159f"/><stop offset="0.307" stop-color="#8405a7"/><stop offset="0.381" stop-color="#920fa3"/><stop offset="0.398" stop-color="#9a169f"/><stop offset="0.439" stop-color="#c13b82"/><stop offset="0.463" stop-color="#d9586a"/><stop offset="0.520" stop-color="#e4695e"/><stop offset="0.553" stop-color="#e26660"/><stop offset="0.594" stop-color="#db5c68"/><stop offset="0.602" stop-color="#d6556d"/><stop offset="0.619" stop-color="#be3885"/><stop offset="0.635" stop-color="#a11b9b"/><stop offset="0.652" stop-color="#8b0aa5"/><stop offset="0.684" stop-color="#7b02a8"/><stop offset="0.709" stop-color="#7801a8"/><stop offset="0.791" stop-color="#8e0ca4"/><stop offset="0.840" stop-color="#a62098"/><stop offset="0.939" stop-color="#d7566c"/><stop offset="1.000" stop-color="#e4695e"/></linearGradient><linearGradient id="c9"><stop offset="0.000" stop-color="#de5f65"/><stop offset="0.102" stop-color="#d5546e"/><stop offset="0.152" stop-color="#b83289"/><stop offset="0.193" stop-color="#9d189d"/><stop offset="0.234" stop-color="#8405a7"/><stop offset="0.307" stop-color="#6a00a8"/><stop offset="0.357" stop-color="#7501a8"/><stop offset="0.389" stop-color="#8104a7"/><stop offset="0.414" stop-color="#9814a0"/><stop offset="0.439" stop-color="#b32c8e"/><stop offset="0.463" stop-color="#d04d73"/><stop offset="0.488" stop-color="#db5c68"/><stop offset="0.537" stop-color="#e26660"/><stop offset="0.586" stop-color="#d8576b"/><stop offset="0.602" stop-color="#cd4a76"/><stop offset="0.619" stop-color="#b02991"/><stop offset="0.635" stop-color="#8b0aa5"/><stop offset="0.643" stop-color="#7d03a8"/><stop offset="0.660" stop-color="#6c00a8"/><stop offset="0.701" stop-color="#5e01a6"/><stop offset="0.799" stop-color="#7a02a8"/><stop offset="0.832" stop-color="#8d0ba5"/><stop offset="0.898" stop-color="#b42e8d"/><stop offset="0.955" stop-color="#ce4b75"/><stop offset="1.000" stop-color="#d7566c"/></linearGradient><linearGradient id="c10"><stop offset="0.000" stop-color="#d04d73"/><stop offset="0.102" stop-color="#c8437b"/><stop offset="0.176" stop-color="#9814a0"/><stop offset="0.225" stop-color="#7b02a8"/><stop offset="0.307" stop-color="#5b01a5"/><stop offset="0.340" stop-color="#6300a7"/><stop offset="0.389" stop-color="#7501a8"/><stop offset="0.414" stop-color="#8d0ba5"/><stop offset="0.439" stop-color="#a62098"/><stop offset="0.463" stop-color="#c7427c"/><stop offset="0.480" stop-color="#d35171"/><stop offset="0.529" stop-color="#e06363"/><stop offset="0.570" stop-color="#d8576b"/><stop offset="0.594" stop-color="#cc4977"/><stop offset="0.611" stop-color="#b42e8d"/><stop offset="0.627" stop-color="#8e0ca4"/><stop offset="0.635" stop-color="#7b02a8"/><stop offset="0.652" stop-color="#6100a7"/><stop offset="0.684" stop-color="#5102a3"/><stop offset="0.709" stop-color="#4e02a2"/><stop offset="0.816" stop-color="#7201a8"/><stop offset="0.857" stop-color="#8b0aa5"/><stop offset="0.922" stop-color="#b02991"/><stop offset="0.971" stop-color="#c23c81"/><stop offset="1.000" stop-color="#c7427c"/></linearGradient><linearGradient id="c11"><stop offset="0.000" stop-color="#c23c81"/><stop offset="0.102" stop-color="#ba3388"/><stop offset="0.168" stop-color="#8e0ca4"/><stop offset="0.225" stop-color="#7401a8"/><stop offset="0.307" stop-color="#5102a3"/><stop offset="0.332" stop-color="#5601a4"/><stop offset="0.389" stop-color="#6f00a8"/><stop offset="0.422" stop-color="#8a09a5"/><stop offset="0.447" stop-color="#a31e9a"/><stop offset="0.471" stop-color="#c5407e"/><stop offset="0.496" stop-color="#d45270"/><stop offset="0.529" stop-color="#de6164"/><stop offset="0.561" stop-color="#d6556d"/><stop offset="0.586" stop-color="#cb4679"/><stop offset="0.602" stop-color="#b6308b"/><stop offset="0.619" stop-color="#9410a2"/><stop offset="0.627" stop-color="#8004a8"/><stop offset="0.643" stop-color="#5e01a6"/><stop offset="0.652" stop-color="#5502a4"/><stop offset="0.701" stop-color="#43039e"/><stop offset="0.816" stop-color="#6700a8"/><stop offset="0.873" stop-color="#8606a6"/><stop offset="0.955" stop-color="#ad2793"/><stop offset="1.000" stop-color="#b6308b"/></linearGradient><linearGradient id="c12"><stop offset="0.000" stop-color="#b52f8c"/><stop offset="0.102" stop-color="#ac2694"/><stop offset="0.168" stop-color="#8405a7"/><stop offset="0.258" stop-color="#6001a6"/><stop offset="0.307" stop-color="#4903a0"/><stop offset="0.340" stop-color="#5502a4"/><stop offset="0.389" stop-color="#6900a8"/><stop offset="0.422" stop-color="#8305a7"/><stop offset="0.447" stop-color="#99159f"/><stop offset="0.471" stop-color="#bb3488"/><stop offset="0.504" stop-color="#d24f71"/><stop offset="0.529" stop-color="#db5c68"/><stop offset="0.545" stop-color="#d9586a"/><stop offset="0.586" stop-color="#c23c81"/><stop offset="0.602" stop-color="#ab2494"/><stop offset="0.619" stop-color="#8707a6"/><stop offset="0.627" stop-color="#7501a8"/><stop offset="0.643" stop-color="#5502a4"/><stop offset="0.660" stop-color="#4903a0"/><stop offset="0.701" stop-color="#3c049b"/><stop offset="0.783" stop-color="#5502a4"/><stop offset="0.873" stop-color="#7b02a8"/><stop offset="0.963" stop-color="#a11b9b"/><stop offset="1.000" stop-color="#a82296"/></linearGradient><linearGradient id="c13"><stop offset="0.000" stop-color="#a82296"/><stop offset="0.102" stop-color="#a11b9b"/><stop offset="0.160" stop-color="#8104a7"/><stop offset="0.250" stop-color="#6001a6"/><stop offset="0.307" stop-color="#44039e"/><stop offset="0.340" stop-color="#4e02a2"/><stop offset="0.398" stop-color="#6900a8"/><stop offset="0.439" stop-color="#8707a6"/><stop offset="0.463" stop-color="#a51f99"/><stop offset="0.488" stop-color="#c03a83"/><stop offset="0.520" stop-color="#d5546e"/><stop offset="0.537" stop-color="#d8576b"/><stop offset="0.570" stop-color="#c6417d"/><stop offset="0.586" stop-color="#b7318a"/><stop offset="0.611" stop-color="#8e0ca4"/><stop offset="0.619" stop-color="#7d03a8"/><stop offset="0.635" stop-color="#5b01a5"/><stop offset="0.643" stop-color="#4e02a2"/><stop offset="0.676" stop-color="#3e049c"/><stop offset="0.709" stop-color="#370499"/><stop offset="0.865" stop-color="#7100a8"/><stop offset="0.930" stop-color="#8b0aa5"/><stop offset="0.996" stop-color="#9d189d"/><stop offset="1.000" stop-color="#9d189d"/></linearGradient><linearGradient id="c14"><stop offset="0.000" stop-color="#9511a1"/><stop offset="0.102" stop-color="#8e0ca4"/><stop offset="0.168" stop-color="#7201a8"/><stop offset="0.242" stop-color="#5c01a6"/><stop offset="0.307" stop-color="#3e049c"/><stop offset="0.332" stop-color="#44039e"/><stop offset="0.406" stop-color="#6600a7"/><stop offset="0.447" stop-color="#8104a7"/><stop offset="0.463" stop-color="#910ea3"/><stop offset="0.488" stop-color="#b22b8f"/><stop offset="0.520" stop-color="#cf4c74"/><stop offset="0.529" stop-color="#d35171"/><stop offset="0.545" stop-color="#ce4b75"/><stop offset="0.578" stop-color="#b12a90"/><stop offset="0.602" stop-color="#8a09a5"/><stop offset="0.619" stop-color="#6c00a8"/><stop offset="0.635" stop-color="#5002a2"/><stop offset="0.652" stop-color="#41049d"/><stop offset="0.701" stop-color="#2f0596"/><stop offset="0.742" stop-color="#3c049b"/><stop offset="0.889" stop-color="#7201a8"/><stop offset="0.996" stop-color="#8d0ba5"/><stop offset="1.000" stop-color="#8d0ba5"/></linearGradient><linearGradient id="c15"><stop offset="0.000" stop-color="#7e03a8"/><stop offset="0.111" stop-color="#7801a8"/><stop offset="0.193" stop-color="#6001a6"/><stop offset="0.234" stop-color="#5601a4"/><stop offset="0.307" stop-color="#330597"/><stop offset="0.348" stop-color="#41049d"/><stop offset="0.439" stop-color="#6c00a8"/><stop offset="0.463" stop-color="#7d03a8"/><stop offset="0.480" stop-color="#910ea3"/><stop offset="0.504" stop-color="#b32c8e"/><stop offset="0.520" stop-color="#c5407e"/><stop offset="0.529" stop-color="#ca457a"/><stop offset="0.545" stop-color="#c43e7f"/><stop offset="0.570" stop-color="#a82296"/><stop offset="0.594" stop-color="#8104a7"/><stop offset="0.619" stop-color="#5b01a5"/><stop offset="0.635" stop-color="#44039e"/><stop offset="0.668" stop-color="#330597"/><stop offset="0.701" stop-color="#260591"/><stop offset="0.865" stop-color="#6100a7"/><stop offset="0.939" stop-color="#7100a8"/><stop offset="1.000" stop-color="#7a02a8"/></linearGradient><linearGradient id="c16"><stop offset="0.000" stop-color="#7100a8"/><stop offset="0.111" stop-color="#6c00a8"/><stop offset="0.242" stop-color="#46039f"/><stop offset="0.307" stop-color="#2a0593"/><stop offset="0.332" stop-color="#310597"/><stop offset="0.455" stop-color="#6a00a8"/><stop offset="0.480" stop-color="#7e03a8"/><stop offset="0.504" stop-color="#a11b9b"/><stop offset="0.520" stop-color="#b7318a"/><stop offset="0.529" stop-color="#be3885"/><stop offset="0.537" stop-color="#be3885"/><stop offset="0.570" stop-color="#9410a2"/><stop offset="0.586" stop-color="#7b02a8"/><stop offset="0.619" stop-color="#5002a2"/><stop offset="0.635" stop-color="#3f049c"/><stop offset="0.693" stop-color="#220690"/><stop offset="0.709" stop-color="#220690"/><stop offset="0.824" stop-color="#4e02a2"/><stop offset="0.898" stop-color="#6300a7"/><stop offset="1.000" stop-color="#6e00a8"/></linearGradient><linearGradient id="c17"><stop offset="0.000" stop-color="#6900a8"/><stop offset="0.111" stop-color="#6600a7"/><stop offset="0.242" stop-color="#3e049c"/><stop offset="0.307" stop-color="#220690"/><stop offset="0.332" stop-color="#2a0593"/><stop offset="0.455" stop-color="#6400a7"/><stop offset="0.488" stop-color="#7b02a8"/><stop offset="0.504" stop-color="#910ea3"/><stop offset="0.520" stop-color="#ab2494"/><stop offset="0.529" stop-color="#b32c8e"/><stop offset="0.537" stop-color="#b22b8f"/><stop offset="0.561" stop-color="#8f0da4"/><stop offset="0.578" stop-color="#7801a8"/><stop offset="0.619" stop-color="#4b03a1"/><stop offset="0.643" stop-color="#38049a"/><stop offset="0.701" stop-color="#20068f"/><stop offset="0.717" stop-color="#240691"/><stop offset="0.832" stop-color="#4e02a2"/><stop offset="0.914" stop-color="#6001a6"/><stop offset="1.000" stop-color="#6700a8"/></linearGradient><linearGradient id="c18"><stop offset="0.000" stop-color="#6700a8"/><stop offset="0.111" stop-color="#6100a7"/><stop offset="0.242" stop-color="#3c049b"/><stop offset="0.307" stop-color="#220690"/><stop offset="0.324" stop-color="#260591"/><stop offset="0.471" stop-color="#6900a8"/><stop offset="0.496" stop-color="#7b02a8"/><stop offset="0.512" stop-color="#920fa3"/><stop offset="0.520" stop-color="#a01a9c"/><stop offset="0.529" stop-color="#a72197"/><stop offset="0.537" stop-color="#a72197"/><stop offset="0.561" stop-color="#8405a7"/><stop offset="0.586" stop-color="#6700a8"/><stop offset="0.635" stop-color="#3f049c"/><stop offset="0.693" stop-color="#260591"/><stop offset="0.717" stop-color="#260591"/><stop offset="0.816" stop-color="#4903a0"/><stop offset="0.906" stop-color="#5c01a6"/><stop offset="1.000" stop-color="#6400a7"/></linearGradient><linearGradient id="c19"><stop offset="0.000" stop-color="#6700a8"/><stop offset="0.111" stop-color="#6100a7"/><stop offset="0.258" stop-color="#3e049c"/><stop offset="0.307" stop-color="#2e0595"/><stop offset="0.348" stop-color="#38049a"/><stop offset="0.480" stop-color="#6e00a8"/><stop offset="0.504" stop-color="#8104a7"/><stop offset="0.529" stop-color="#9e199d"/><stop offset="0.537" stop-color="#9e199d"/><stop offset="0.561" stop-color="#7e03a8"/><stop offset="0.611" stop-color="#5601a4"/><stop offset="0.643" stop-color="#44039e"/><stop offset="0.701" stop-color="#2f0596"/><stop offset="0.889" stop-color="#5b01a5"/><stop offset="1.000" stop-color="#6400a7"/></linearGradient><linearGradient id="c20"><stop offset="0.000" stop-color="#6900a8"/><stop offset="0.143" stop-color="#6100a7"/><stop offset="0.316" stop-color="#43039e"/><stop offset="0.389" stop-color="#5302a3"/><stop offset="0.496" stop-color="#7a02a8"/><stop offset="0.529" stop-color="#9613a1"/><stop offset="0.537" stop-color="#9613a1"/><stop offset="0.561" stop-color="#8004a8"/><stop offset="0.619" stop-color="#5c01a6"/><stop offset="0.701" stop-color="#41049d"/><stop offset="0.996" stop-color="#6700a8"/><stop offset="1.000" stop-color="#6700a8"/></linearGradient><linearGradient id="c21"><stop offset="0.000" stop-color="#7100a8"/><stop offset="0.184" stop-color="#6700a8"/><stop offset="0.291" stop-color="#5901a5"/><stop offset="0.340" stop-color="#5901a5"/><stop offset="0.455" stop-color="#7201a8"/><stop offset="0.512" stop-color="#8808a6"/><stop offset="0.529" stop-color="#920fa3"/><stop offset="0.545" stop-color="#8e0ca4"/><stop offset="0.578" stop-color="#7b02a8"/><stop offset="0.660" stop-color="#5e01a6"/><stop offset="0.709" stop-color="#5302a3"/><stop offset="1.000" stop-color="#6f00a8"/></linearGradient><linearGradient id="c22"><stop offset="0.000" stop-color="#7b02a8"/><stop offset="0.217" stop-color="#7201a8"/><stop offset="0.340" stop-color="#6c00a8"/><stop offset="0.496" stop-color="#8707a6"/><stop offset="0.529" stop-color="#910ea3"/><stop offset="0.602" stop-color="#7d03a8"/><stop offset="0.709" stop-color="#6700a8"/><stop offset="1.000" stop-color="#7801a8"/></linearGradient><linearGradient id="c23"><stop offset="0.000" stop-color="#8606a6"/><stop offset="0.348" stop-color="#7e03a8"/><stop offset="0.537" stop-color="#910ea3"/><stop offset="0.693" stop-color="#7b02a8"/><stop offset="1.000" stop-color="#8104a7"/></linearGradient><linearGradient id="c24"><stop offset="0.000" stop-color="#8b0aa5"/><stop offset="0.365" stop-color="#8a09a5"/><stop offset="0.537" stop-color="#9511a1"/><stop offset="0.717" stop-color="#8606a6"/><stop offset="1.000" stop-color="#8808a6"/></linearGradient><linearGradient id="c25"><stop offset="0.000" stop-color="#920fa3"/><stop offset="0.357" stop-color="#920fa3"/><stop offset="0.537" stop-color="#9a169f"/><stop offset="0.725" stop-color="#8f0da4"/><stop offset="1.000" stop-color="#8e0ca4"/></linearGradient><linearGradient id="c26"><stop offset="0.000" stop-color="#99159f"/><stop offset="0.578" stop-color="#9e199d"/><stop offset="0.824" stop-color="#9613a1"/><stop offset="1.000" stop-color="#9511a1"/></linearGradient><linearGradient id="c27"><stop offset="0.000" stop-color="#9d189d"/><stop offset="0.586" stop-color="#a21d9a"/><stop offset="1.000" stop-color="#9a169f"/></linearGradient><linearGradient id="c28"><stop offset="0.000" stop-color="#a01a9c"/><stop offset="0.602" stop-color="#a62098"/><stop offset="1.000" stop-color="#9d189d"/></linearGradient><linearGradient id="c29"><stop offset="0.000" stop-color="#a11b9b"/><stop offset="0.594" stop-color="#a82296"/><stop offset="1.000" stop-color="#9e199d"/></linearGradient><linearGradient id="c30"><stop offset="0.000" stop-color="#a31e9a"/><stop offset="0.594" stop-color="#ab2494"/><stop offset="1.000" stop-color="#a01a9c"/></linearGradient><linearGradient id="c31"><stop offset="0.000" stop-color="#a51f99"/><stop offset="0.586" stop-color="#ad2793"/><stop offset="1.000" stop-color="#a21d9a"/></linearGradient><linearGradient id="c32"><stop offset="0.000" stop-color="#a72197"/><stop offset="0.586" stop-color="#b02991"/><stop offset="1.000" stop-color="#a31e9a"/></linearGradient><linearGradient id="c33"><stop offset="0.000" stop-color="#a82296"/><stop offset="0.578" stop-color="#b22b8f"/><stop offset="1.000" stop-color="#a51f99"/></linearGradient><linearGradient id="c34"><stop offset="0.000" stop-color="#aa2395"/><stop offset="0.570" stop-color="#b42e8d"/><stop offset="1.000" stop-color="#a72197"/></linearGradient><linearGradient id="c35"><stop offset="0.000" stop-color="#ac2694"/><stop offset="0.578" stop-color="#b6308b"/><stop offset="1.000" stop-color="#aa2395"/></linearGradient><linearGradient id="c36"><stop offset="0.000" stop-color="#ae2892"/><stop offset="0.570" stop-color="#b83289"/><stop offset="1.000" stop-color="#ab2494"/></linearGradient><linearGradient id="c37"><stop offset="0.000" stop-color="#b02991"/><stop offset="0.570" stop-color="#ba3388"/><stop offset="1.000" stop-color="#ad2793"/></linearGradient><linearGradient id="c38"><stop offset="0.000" stop-color="#b22b8f"/><stop offset="0.578" stop-color="#bc3587"/><stop offset="1.000" stop-color="#b02991"/></linearGradient><linearGradient id="c39"><stop offset="0.000" stop-color="#b42e8d"/><stop offset="0.561" stop-color="#be3885"/><stop offset="1.000" stop-color="#b22b8f"/></linearGradient><linearGradient id="c40"><stop offset="0.000" stop-color="#b6308b"/><stop offset="0.586" stop-color="#bf3984"/><stop offset="1.000" stop-color="#b42e8d"/></linearGradient><linearGradient id="c41"><stop offset="0.000" stop-color="#b7318a"/><stop offset="0.570" stop-color="#c13b82"/><stop offset="1.000" stop-color="#b6308b"/></linearGradient><linearGradient id="c42"><stop offset="0.000" stop-color="#ba3388"/><stop offset="0.570" stop-color="#c23c81"/><stop offset="1.000" stop-color="#b83289"/></linearGradient><linearGradient id="c43"><stop offset="0.000" stop-color="#bc3587"/><stop offset="0.586" stop-color="#c43e7f"/><stop offset="1.000" stop-color="#bb3488"/></linearGradient><linearGradient id="c44"><stop offset="0.000" stop-color="#be3885"/><stop offset="0.586" stop-color="#c6417d"/><stop offset="1.000" stop-color="#bd3786"/></linearGradient><linearGradient id="c45"><stop offset="0.000" stop-color="#c13b82"/><stop offset="0.586" stop-color="#c8437b"/><stop offset="1.000" stop-color="#c03a83"/></linearGradient><linearGradient id="c46"><stop offset="0.000" stop-color="#c33d80"/><stop offset="0.586" stop-color="#cb4679"/><stop offset="1.000" stop-color="#c33d80"/></linearGradient><linearGradient id="c47"><stop offset="0.000" stop-color="#c6417d"/><stop offset="0.594" stop-color="#cc4977"/><stop offset="1.000" stop-color="#c6417d"/></linearGradient><linearGradient id="c48"><stop offset="0.000" stop-color="#c9447a"/><stop offset="0.586" stop-color="#cf4c74"/><stop offset="1.000" stop-color="#c8437b"/></linearGradient><linearGradient id="c49"><stop offset="0.000" stop-color="#cb4679"/><stop offset="0.602" stop-color="#d14e72"/><stop offset="1.000" stop-color="#cb4679"/></linearGradient><linearGradient id="c50"><stop offset="0.000" stop-color="#cd4a76"/><stop offset="0.586" stop-color="#d35171"/><stop offset="1.000" stop-color="#cd4a76"/></linearGradient><linearGradient id="c51"><stop offset="0.000" stop-color="#cf4c74"/><stop offset="0.594" stop-color="#d5546e"/><stop offset="1.000" stop-color="#cf4c74"/></linearGradient><linearGradient id="c52"><stop offset="0.000" stop-color="#d14e72"/><stop offset="0.586" stop-color="#d7566c"/><stop offset="1.000" stop-color="#d14e72"/></linearGradient><linearGradient id="c53"><stop offset="0.000" stop-color="#d35171"/><stop offset="0.586" stop-color="#da5a6a"/><stop offset="1.000" stop-color="#d35171"/></linearGradient><linearGradient id="c54"><stop offset="0.000" stop-color="#d5536f"/><stop offset="0.586" stop-color="#db5c68"/><stop offset="1.000" stop-color="#d5536f"/></linearGradient><linearGradient id="c55"><stop offset="0.000" stop-color="#d7566c"/><stop offset="0.570" stop-color="#de5f65"/><stop offset="1.000" stop-color="#d7566c"/></linearGradient><linearGradient id="c56"><stop offset="0.000" stop-color="#d9586a"/><stop offset="0.594" stop-color="#df6263"/><stop offset="1.000" stop-color="#d9586a"/></linearGradient><linearGradient id="c57"><stop offset="0.000" stop-color="#da5b69"/><stop offset="0.561" stop-color="#e26561"/><stop offset="1.000" stop-color="#da5b69"/></linearGradient><linearGradient id="c58"><stop offset="0.000" stop-color="#dc5d67"/><stop offset="0.578" stop-color="#e3685f"/><stop offset="1.000" stop-color="#dc5d67"/></linearGradient><linearGradient id="c59"><stop offset="0.000" stop-color="#de5f65"/><stop offset="0.570" stop-color="#e56a5d"/><stop offset="1.000" stop-color="#de5f65"/></linearGradient><linearGradient id="c60"><stop offset="0.000" stop-color="#e06363"/><stop offset="0.570" stop-color="#e76e5b"/><stop offset="1.000" stop-color="#e06363"/></linearGradient><linearGradient id="c61"><stop offset="0.000" stop-color="#e26561"/><stop offset="0.586" stop-color="#e87059"/><stop offset="1.000" stop-color="#e26561"/></linearGradient><linearGradient id="c62"><stop offset="0.000" stop-color="#e3685f"/><stop offset="0.578" stop-color="#e97257"/><stop offset="1.000" stop-color="#e3685f"/></linearGradient><linearGradient id="c63"><stop offset="0.000" stop-color="#e56b5d"/><stop offset="0.578" stop-color="#eb7556"/><stop offset="1.000" stop-color="#e56b5d"/></linearGradient><linearGradient id="c64"><stop offset="0.000" stop-color="#e76e5b"/><stop offset="0.570" stop-color="#ec7754"/><stop offset="1.000" stop-color="#e76e5b"/></linearGradient><linearGradient id="c65"><stop offset="0.000" stop-color="#e97158"/><stop offset="0.586" stop-color="#ed7953"/><stop offset="1.000" stop-color="#e97158"/></linearGradient><linearGradient id="c66"><stop offset="0.000" stop-color="#ea7457"/><stop offset="0.594" stop-color="#ee7b51"/><stop offset="1.000" stop-color="#ea7457"/></linearGradient><linearGradient id="c67"><stop offset="0.000" stop-color="#ec7754"/><stop offset="0.619" stop-color="#ef7e50"/><stop offset="1.000" stop-color="#eb7655"/></linearGradient><linearGradient id="c68"><stop offset="0.000" stop-color="#ed7a52"/><stop offset="0.619" stop-color="#f0804e"/><stop offset="1.000" stop-color="#ed7a52"/></linearGradient><linearGradient id="c69"><stop offset="0.000" stop-color="#ef7c51"/><stop offset="0.619" stop-color="#f1834c"/><stop offset="1.000" stop-color="#ef7c51"/></linearGradient><linearGradient id="c70"><stop offset="0.000" stop-color="#f0804e"/><stop offset="0.619" stop-color="#f2844b"/><stop offset="1.000" stop-color="#f0804e"/></linearGradient><linearGradient id="c71"><stop offset="0.000" stop-color="#f1834c"/><stop offset="0.627" stop-color="#f3874a"/><stop offset="1.000" stop-color="#f1834c"/></linearGradient><linearGradient id="c72"><stop offset="0.000" stop-color="#f3874a"/><stop offset="0.742" stop-color="#f48948"/><stop offset="1.000" stop-color="#f3874a"/></linearGradient><linearGradient id="c73"><stop offset="0.000" stop-color="#f48948"/><stop offset="0.766" stop-color="#f58c46"/><stop offset="1.000" stop-color="#f48948"/></linearGradient><linearGradient id="c74"><stop offset="0.000" stop-color="#f68d45"/><stop offset="0.799" stop-color="#f68f44"/><stop offset="1.000" stop-color="#f68d45"/></linearGradient><linearGradient id="c75"><stop offset="0.000" stop-color="#f79044"/><stop offset="0.865" stop-color="#f79143"/><stop offset="1.000" stop-color="#f79044"/></linearGradient><linearGradient id="c76"><stop offset="0.000" stop-color="#f89441"/><stop offset="1.000" stop-color="#f89441"/></linearGradient><linearGradient id="c77"><stop offset="0.000" stop-color="#f9973f"/><stop offset="1.000" stop-color="#f9973f"/></linearGradient><linearGradient id="c78"><stop offset="0.000" stop-color="#fa9b3d"/><stop offset="1.000" stop-color="#fa9b3d"/></linearGradient><linearGradient id="c79"><stop offset="0.000" stop-color="#fa9e3b"/><stop offset="1.000" stop-color="#fa9e3b"/></linearGradient><linearGradient id="c80"><stop offset="0.000" stop-color="#fba238"/><stop offset="1.000" stop-color="#fba238"/></linearGradient><linearGradient id="c81"><stop offset="0.000" stop-color="#fca636"/><stop offset="1.000" stop-color="#fca636"/></linearGradient><linearGradient id="c82"><stop offset="0.000" stop-color="#fdab33"/><stop offset="1.000" stop-color="#fdab33"/></linearGradient><linearGradient id="c83"><stop offset="0.000" stop-color="#fdae32"/><stop offset="1.000" stop-color="#fdae32"/></linearGradient><linearGradient id="c84"><stop offset="0.000" stop-color="#fdb22f"/><stop offset="1.000" stop-color="#fdb22f"/></linearGradient><linearGradient id="c85"><stop offset="0.000" stop-color="#feb72d"/><stop offset="1.000" stop-color="#feb72d"/></linearGradient><linearGradient id="c86"><stop offset="0.000" stop-color="#feba2c"/><stop offset="1.000" stop-color="#feba2c"/></linearGradient><linearGradient id="c87"><stop offset="0.000" stop-color="#febd2a"/><stop offset="1.000" stop-color="#febd2a"/></linearGradient><linearGradient id="c88"><stop offset="0.000" stop-color="#fec029"/><stop offset="1.000" stop-color="#fec029"/></linearGradient><linearGradient id="c89"><stop offset="0.000" stop-color="#fdc328"/><stop offset="1.000" stop-color="#fdc328"/></linearGradient><linearGradient id="c90"><stop offset="0.000" stop-color="#fdc627"/><stop offset="1.000" stop-color="#fdc627"/></linearGradient><linearGradient id="c91"><stop offset="0.000" stop-color="#fdc827"/><stop offset="1.000" stop-color="#fdc827"/></linearGradient><linearGradient id="c92"><stop offset="0.000" stop-color="#fdcb26"/><stop offset="1.000" stop-color="#fdcb26"/></linearGradient><linearGradient id="c93"><stop offset="0.000" stop-color="#fcce25"/><stop offset="1.000" stop-color="#fcce25"/></linearGradient><linearGradient id="c94"><stop offset="0.000" stop-color="#fcd225"/><stop offset="1.000" stop-color="#fcd225"/></linearGradient><clipPath id="cc"><rect x="39.4" y="299.8" width="242.4" height="225.7"/></clipPath></defs>
<g clip-path="url(#cc)"><rect x="39.4" y="299.00" width="242.4" height="1.00" fill="url(#c0)"/><rect x="39.4" y="300.00" width="242.4" height="1.00" fill="url(#c1)"/><rect x="39.4" y="301.00" width="242.4" height="1.00" fill="url(#c2)"/><rect x="39.4" y="302.00" width="242.4" height="1.00" fill="url(#c3)"/><rect x="39.4" y="303.00" width="242.4" height="1.00" fill="url(#c4)"/><rect x="39.4" y="304.00" width="242.4" height="1.00" fill="url(#c5)"/><rect x="39.4" y="305.00" width="242.4" height="1.00" fill="url(#c6)"/><rect x="39.4" y="306.00" width="242.4" height="1.00" fill="url(#c7)"/><rect x="39.4" y="307.00" width="242.4" height="1.00" fill="url(#c8)"/><rect x="39.4" y="308.00" width="242.4" height="1.00" fill="url(#c9)"/><rect x="39.4" y="309.00" width="242.4" height="1.00" fill="url(#c10)"/><rect x="39.4" y="310.00" width="242.4" height="1.00" fill="url(#c11)"/><rect x="39.4" y="311.00" width="242.4" height="1.00" fill="url(#c12)"/><rect x="39.4" y="312.00" width="242.4" height="1.00" fill="url(#c13)"/><rect x="39.4" y="313.00" width="242.4" height="2.00" fill="url(#c14)"/><rect x="39.4" y="315.00" width="242.4" height="2.00" fill="url(#c15)"/><rect x="39.4" y="317.00" width="242.4" height="2.00" fill="url(#c16)"/><rect x="39.4" y="319.00" width="242.4" height="2.00" fill="url(#c17)"/><rect x="39.4" y="321.00" width="242.4" height="2.00" fill="url(#c18)"/><rect x="39.4" y="323.00" width="242.4" height="2.00" fill="url(#c19)"/><rect x="39.4" y="325.00" width="242.4" height="2.00" fill="url(#c20)"/><rect x="39.4" y="327.00" width="242.4" height="2.00" fill="url(#c21)"/><rect x="39.4" y="329.00" width="242.4" height="2.00" fill="url(#c22)"/><rect x="39.4" y="331.00" width="242.4" height="2.00" fill="url(#c23)"/><rect x="39.4" y="333.00" width="242.4" height="2.00" fill="url(#c24)"/><rect x="39.4" y="335.00" width="242.4" height="2.00" fill="url(#c25)"/><rect x="39.4" y="337.00" width="242.4" height="2.00" fill="url(#c26)"/><rect x="39.4" y="339.00" width="242.4" height="2.00" fill="url(#c27)"/><rect x="39.4" y="341.00" width="242.4" height="2.00" fill="url(#c28)"/><rect x="39.4" y="343.00" width="242.4" height="2.00" fill="url(#c29)"/><rect x="39.4" y="345.00" width="242.4" height="2.00" fill="url(#c30)"/><rect x="39.4" y="347.00" width="242.4" height="2.00" fill="url(#c31)"/><rect x="39.4" y="349.00" width="242.4" height="2.00" fill="url(#c32)"/><rect x="39.4" y="351.00" width="242.4" height="2.00" fill="url(#c33)"/><rect x="39.4" y="353.00" width="242.4" height="2.00" fill="url(#c34)"/><rect x="39.4" y="355.00" width="242.4" height="2.00" fill="url(#c35)"/><rect x="39.4" y="357.00" width="242.4" height="2.00" fill="url(#c36)"/><rect x="39.4" y="359.00" width="242.4" height="2.00" fill="url(#c37)"/><rect x="39.4" y="361.00" width="242.4" height="2.00" fill="url(#c38)"/><rect x="39.4" y="363.00" width="242.4" height="2.00" fill="url(#c39)"/><rect x="39.4" y="365.00" width="242.4" height="2.00" fill="url(#c40)"/><rect x="39.4" y="367.00" width="242.4" height="2.00" fill="url(#c41)"/><rect x="39.4" y="369.00" width="242.4" height="2.00" fill="url(#c42)"/><rect x="39.4" y="371.00" width="242.4" height="2.00" fill="url(#c43)"/><rect x="39.4" y="373.00" width="242.4" height="3.00" fill="url(#c44)"/><rect x="39.4" y="376.00" width="242.4" height="3.00" fill="url(#c45)"/><rect x="39.4" y="379.00" width="242.4" height="3.00" fill="url(#c46)"/><rect x="39.4" y="382.00" width="242.4" height="3.00" fill="url(#c47)"/><rect x="39.4" y="385.00" width="242.4" height="3.00" fill="url(#c48)"/><rect x="39.4" y="388.00" width="242.4" height="3.00" fill="url(#c49)"/><rect x="39.4" y="391.00" width="242.4" height="3.00" fill="url(#c50)"/><rect x="39.4" y="394.00" width="242.4" height="3.00" fill="url(#c51)"/><rect x="39.4" y="397.00" width="242.4" height="3.00" fill="url(#c52)"/><rect x="39.4" y="400.00" width="242.4" height="3.00" fill="url(#c53)"/><rect x="39.4" y="403.00" width="242.4" height="3.00" fill="url(#c54)"/><rect x="39.4" y="406.00" width="242.4" height="3.00" fill="url(#c55)"/><rect x="39.4" y="409.00" width="242.4" height="3.00" fill="url(#c56)"/><rect x="39.4" y="412.00" width="242.4" height="3.00" fill="url(#c57)"/><rect x="39.4" y="415.00" width="242.4" height="3.00" fill="url(#c58)"/><rect x="39.4" y="418.00" width="242.4" height="3.00" fill="url(#c59)"/><rect x="39.4" y="421.00" width="242.4" height="3.00" fill="url(#c60)"/><rect x="39.4" y="424.00" width="242.4" height="3.00" fill="url(#c61)"/><rect x="39.4" y="427.00" width="242.4" height="3.00" fill="url(#c62)"/><rect x="39.4" y="430.00" width="242.4" height="3.00" fill="url(#c63)"/><rect x="39.4" y="433.00" width="242.4" height="3.00" fill="url(#c64)"/><rect x="39.4" y="436.00" width="242.4" height="3.00" fill="url(#c65)"/><rect x="39.4" y="439.00" width="242.4" height="3.00" fill="url(#c66)"/><rect x="39.4" y="442.00" width="242.4" height="3.00" fill="url(#c67)"/><rect x="39.4" y="445.00" width="242.4" height="3.00" fill="url(#c68)"/><rect x="39.4" y="448.00" width="242.4" height="3.00" fill="url(#c69)"/><rect x="39.4" y="451.00" width="242.4" height="3.00" fill="url(#c70)"/><rect x="39.4" y="454.00" width="242.4" height="3.00" fill="url(#c71)"/><rect x="39.4" y="457.00" width="242.4" height="3.00" fill="url(#c72)"/><rect x="39.4" y="460.00" width="242.4" height="3.00" fill="url(#c73)"/><rect x="39.4" y="463.00" width="242.4" height="3.00" fill="url(#c74)"/><rect x="39.4" y="466.00" width="242.4" height="3.00" fill="url(#c75)"/><rect x="39.4" y="469.00" width="242.4" height="3.00" fill="url(#c76)"/><rect x="39.4" y="472.00" width="242.4" height="3.00" fill="url(#c77)"/><rect x="39.4" y="475.00" width="242.4" height="3.00" fill="url(#c78)"/><rect x="39.4" y="478.00" width="242.4" height="3.00" fill="url(#c79)"/><rect x="39.4" y="481.00" width="242.4" height="3.00" fill="url(#c80)"/><rect x="39.4" y="484.00" width="242.4" height="3.00" fill="url(#c81)"/><rect x="39.4" y="487.00" width="242.4" height="3.00" fill="url(#c82)"/><rect x="39.4" y="490.00" width="242.4" height="3.00" fill="url(#c83)"/><rect x="39.4" y="493.00" width="242.4" height="3.00" fill="url(#c84)"/><rect x="39.4" y="496.00" width="242.4" height="3.00" fill="url(#c85)"/><rect x="39.4" y="499.00" width="242.4" height="3.00" fill="url(#c86)"/><rect x="39.4" y="502.00" width="242.4" height="3.00" fill="url(#c87)"/><rect x="39.4" y="505.00" width="242.4" height="3.00" fill="url(#c88)"/><rect x="39.4" y="508.00" width="242.4" height="3.00" fill="url(#c89)"/><rect x="39.4" y="511.00" width="242.4" height="3.00" fill="url(#c90)"/><rect x="39.4" y="514.00" width="242.4" height="3.00" fill="url(#c91)"/><rect x="39.4" y="517.00" width="242.4" height="3.00" fill="url(#c92)"/><rect x="39.4" y="520.00" width="242.4" height="3.00" fill="url(#c93)"/><rect x="39.4" y="523.00" width="242.4" height="3.00" fill="url(#c94)"/></g>
<rect x="39.4" y="299.8" width="242.4" height="225.7" fill="none" stroke="#111" stroke-width="0.6"/>
<text x="39.4" y="538.1" text-anchor="middle" font-size="8.33">0</text>
<text x="75.3" y="538.1" text-anchor="middle" font-size="8.33">50</text>
<text x="111.2" y="538.1" text-anchor="middle" font-size="8.33">100</text>
<text x="147.1" y="538.1" text-anchor="middle" font-size="8.33">150</text>
<text x="183.0" y="538.1" text-anchor="middle" font-size="8.33">200</text>
<text x="219.0" y="538.1" text-anchor="middle" font-size="8.33">250</text>
<text x="254.9" y="538.1" text-anchor="middle" font-size="8.33">300</text>
<text x="33.2" y="303.2" text-anchor="end" font-size="8.33">10<tspan dy="-3.2" font-size="5.83">−6</tspan></text>
<text x="33.2" y="359.6" text-anchor="end" font-size="8.33">10<tspan dy="-3.2" font-size="5.83">−4</tspan></text>
<text x="33.2" y="416.0" text-anchor="end" font-size="8.33">10<tspan dy="-3.2" font-size="5.83">−2</tspan></text>
<text x="33.2" y="472.5" text-anchor="end" font-size="8.33">10<tspan dy="-3.2" font-size="5.83">0</tspan></text>
<text x="33.2" y="528.9" text-anchor="end" font-size="8.33">10<tspan dy="-3.2" font-size="5.83">2</tspan></text>
<path d="M39.40 525.50v2.9M75.31 525.50v2.9M111.22 525.50v2.9M147.13 525.50v2.9M183.04 525.50v2.9M218.96 525.50v2.9M254.87 525.50v2.9M39.40 299.80h-2.9M39.40 356.23h-2.9M39.40 412.65h-2.9M39.40 469.07h-2.9M39.40 525.50h-2.9" stroke="#000" stroke-width="0.67" fill="none"/>
<path d="M39.40 308.29h-1.7M39.40 313.26h-1.7M39.40 316.79h-1.7M39.40 319.52h-1.7M39.40 321.75h-1.7M39.40 323.64h-1.7M39.40 325.28h-1.7M39.40 326.72h-1.7M39.40 328.01h-1.7M39.40 336.51h-1.7M39.40 341.47h-1.7M39.40 345.00h-1.7M39.40 347.73h-1.7M39.40 349.97h-1.7M39.40 351.85h-1.7M39.40 353.49h-1.7M39.40 354.93h-1.7M39.40 364.72h-1.7M39.40 369.69h-1.7M39.40 373.21h-1.7M39.40 375.94h-1.7M39.40 378.18h-1.7M39.40 380.07h-1.7M39.40 381.70h-1.7M39.40 383.15h-1.7M39.40 384.44h-1.7M39.40 392.93h-1.7M39.40 397.90h-1.7M39.40 401.42h-1.7M39.40 404.16h-1.7M39.40 406.39h-1.7M39.40 408.28h-1.7M39.40 409.92h-1.7M39.40 411.36h-1.7M39.40 421.14h-1.7M39.40 426.11h-1.7M39.40 429.64h-1.7M39.40 432.37h-1.7M39.40 434.60h-1.7M39.40 436.49h-1.7M39.40 438.13h-1.7M39.40 439.57h-1.7M39.40 440.86h-1.7M39.40 449.36h-1.7M39.40 454.32h-1.7M39.40 457.85h-1.7M39.40 460.58h-1.7M39.40 462.82h-1.7M39.40 464.70h-1.7M39.40 466.34h-1.7M39.40 467.78h-1.7M39.40 477.57h-1.7M39.40 482.54h-1.7M39.40 486.06h-1.7M39.40 488.79h-1.7M39.40 491.03h-1.7M39.40 492.92h-1.7M39.40 494.55h-1.7M39.40 496.00h-1.7M39.40 497.29h-1.7M39.40 505.78h-1.7M39.40 510.75h-1.7M39.40 514.27h-1.7M39.40 517.01h-1.7M39.40 519.24h-1.7M39.40 521.13h-1.7M39.40 522.77h-1.7M39.40 524.21h-1.7" stroke="#000" stroke-width="0.5" fill="none"/>
<text x="160.6" y="551.1" text-anchor="middle" font-size="10">Longitude</text>
<text transform="translate(8.1 412.6) rotate(-90)" text-anchor="middle" font-size="10">Pressure (bar)</text>
<text x="160.6" y="294.9" text-anchor="middle" font-size="10" xml:space="preserve">HCN</text>
<defs><linearGradient id="cbc" x1="0" y1="0" x2="0" y2="1"><stop offset="0.000" stop-color="#f0f921"/><stop offset="0.042" stop-color="#f6e826"/><stop offset="0.083" stop-color="#fbd524"/><stop offset="0.125" stop-color="#fdc527"/><stop offset="0.167" stop-color="#fdb42f"/><stop offset="0.208" stop-color="#fca338"/><stop offset="0.250" stop-color="#f89540"/><stop offset="0.292" stop-color="#f3874a"/><stop offset="0.333" stop-color="#ed7953"/><stop offset="0.375" stop-color="#e66c5c"/><stop offset="0.417" stop-color="#de5f65"/><stop offset="0.458" stop-color="#d5536f"/><stop offset="0.500" stop-color="#cc4778"/><stop offset="0.542" stop-color="#c13b82"/><stop offset="0.583" stop-color="#b52f8c"/><stop offset="0.625" stop-color="#aa2395"/><stop offset="0.667" stop-color="#9c179e"/><stop offset="0.708" stop-color="#8d0ba5"/><stop offset="0.750" stop-color="#7e03a8"/><stop offset="0.792" stop-color="#6e00a8"/><stop offset="0.833" stop-color="#5c01a6"/><stop offset="0.875" stop-color="#4c02a1"/><stop offset="0.917" stop-color="#3a049a"/><stop offset="0.958" stop-color="#260591"/><stop offset="1.000" stop-color="#0d0887"/></linearGradient></defs>
<rect x="296.7" y="299.8" width="11.9" height="225.7" fill="url(#cbc)" stroke="#000" stroke-width="0.67"/>
<text x="314.4" y="323.5" text-anchor="start" font-size="8.33">10<tspan dy="-3.2" font-size="5.83">−6</tspan></text>
<text x="314.4" y="364.6" text-anchor="start" font-size="8.33">10<tspan dy="-3.2" font-size="5.83">−8</tspan></text>
<text x="314.4" y="405.6" text-anchor="start" font-size="8.33">10<tspan dy="-3.2" font-size="5.83">−10</tspan></text>
<text x="314.4" y="446.6" text-anchor="start" font-size="8.33">10<tspan dy="-3.2" font-size="5.83">−12</tspan></text>
<text x="314.4" y="487.7" text-anchor="start" font-size="8.33">10<tspan dy="-3.2" font-size="5.83">−14</tspan></text>
<text x="314.4" y="528.7" text-anchor="start" font-size="8.33">10<tspan dy="-3.2" font-size="5.83">−16</tspan></text>
<path d="M308.60 320.32h2.9M308.60 361.35h2.9M308.60 402.39h2.9M308.60 443.43h2.9M308.60 484.46h2.9M308.60 525.50h2.9" stroke="#000" stroke-width="0.67" fill="none"/>
<defs><linearGradient id="d0"><stop offset="0.000" stop-color="#e76f5a"/><stop offset="0.258" stop-color="#ed7953"/><stop offset="0.381" stop-color="#e4695e"/><stop offset="0.742" stop-color="#e26660"/><stop offset="0.816" stop-color="#ee7b51"/><stop offset="1.000" stop-color="#f2844b"/></linearGradient><linearGradient id="d1"><stop offset="0.000" stop-color="#eb7556"/><stop offset="0.258" stop-color="#f1814d"/><stop offset="0.381" stop-color="#e66c5c"/><stop offset="0.742" stop-color="#e56a5d"/><stop offset="0.807" stop-color="#f1814d"/><stop offset="1.000" stop-color="#f68f44"/></linearGradient><linearGradient id="d2"><stop offset="0.000" stop-color="#f3854b"/><stop offset="0.250" stop-color="#f89540"/><stop offset="0.291" stop-color="#f68d45"/><stop offset="0.357" stop-color="#eb7556"/><stop offset="0.742" stop-color="#e87059"/><stop offset="0.816" stop-color="#f58c46"/><stop offset="0.906" stop-color="#f89441"/><stop offset="1.000" stop-color="#fba238"/></linearGradient><linearGradient id="d3"><stop offset="0.000" stop-color="#f79044"/><stop offset="0.209" stop-color="#f9983e"/><stop offset="0.283" stop-color="#f79143"/><stop offset="0.348" stop-color="#eb7556"/><stop offset="0.742" stop-color="#e76f5a"/><stop offset="0.807" stop-color="#f1814d"/><stop offset="0.889" stop-color="#f1834c"/><stop offset="0.996" stop-color="#fba238"/><stop offset="1.000" stop-color="#fba238"/></linearGradient><linearGradient id="d4"><stop offset="0.000" stop-color="#f79143"/><stop offset="0.135" stop-color="#f79342"/><stop offset="0.299" stop-color="#ec7754"/><stop offset="0.357" stop-color="#e66c5c"/><stop offset="0.775" stop-color="#e76f5a"/><stop offset="0.807" stop-color="#e87059"/><stop offset="0.857" stop-color="#e26561"/><stop offset="0.906" stop-color="#e56a5d"/><stop offset="0.996" stop-color="#f89441"/><stop offset="1.000" stop-color="#f89441"/></linearGradient><linearGradient id="d5"><stop offset="0.000" stop-color="#f68f44"/><stop offset="0.119" stop-color="#f58b47"/><stop offset="0.258" stop-color="#de5f65"/><stop offset="0.332" stop-color="#de5f65"/><stop offset="0.447" stop-color="#e56b5d"/><stop offset="0.758" stop-color="#e4695e"/><stop offset="0.807" stop-color="#de5f65"/><stop offset="0.848" stop-color="#cf4c74"/><stop offset="0.906" stop-color="#cf4c74"/><stop offset="0.963" stop-color="#e66c5c"/><stop offset="1.000" stop-color="#f1814d"/></linearGradient><linearGradient id="d6"><stop offset="0.000" stop-color="#f48948"/><stop offset="0.111" stop-color="#f0804e"/><stop offset="0.193" stop-color="#d9586a"/><stop offset="0.258" stop-color="#c5407e"/><stop offset="0.316" stop-color="#cc4778"/><stop offset="0.381" stop-color="#dd5e66"/><stop offset="0.455" stop-color="#e3685f"/><stop offset="0.750" stop-color="#e26660"/><stop offset="0.807" stop-color="#d6556d"/><stop offset="0.848" stop-color="#c03a83"/><stop offset="0.898" stop-color="#ba3388"/><stop offset="0.930" stop-color="#c6417d"/><stop offset="0.996" stop-color="#e56b5d"/><stop offset="1.000" stop-color="#e56b5d"/></linearGradient><linearGradient id="d7"><stop offset="0.000" stop-color="#f0804e"/><stop offset="0.102" stop-color="#eb7655"/><stop offset="0.143" stop-color="#dd5e66"/><stop offset="0.217" stop-color="#b52f8c"/><stop offset="0.266" stop-color="#a51f99"/><stop offset="0.316" stop-color="#b7318a"/><stop offset="0.373" stop-color="#d5536f"/><stop offset="0.439" stop-color="#e06363"/><stop offset="0.742" stop-color="#e26660"/><stop offset="0.807" stop-color="#d14e72"/><stop offset="0.857" stop-color="#b42e8d"/><stop offset="0.898" stop-color="#a82296"/><stop offset="0.930" stop-color="#b42e8d"/><stop offset="0.996" stop-color="#d5546e"/><stop offset="1.000" stop-color="#d5546e"/></linearGradient><linearGradient id="d8"><stop offset="0.000" stop-color="#eb7556"/><stop offset="0.102" stop-color="#e4695e"/><stop offset="0.152" stop-color="#ca457a"/><stop offset="0.209" stop-color="#9d189d"/><stop offset="0.266" stop-color="#8606a6"/><stop offset="0.307" stop-color="#9d189d"/><stop offset="0.365" stop-color="#ca457a"/><stop offset="0.406" stop-color="#d7566c"/><stop offset="0.455" stop-color="#de5f65"/><stop offset="0.742" stop-color="#e16462"/><stop offset="0.807" stop-color="#ce4b75"/><stop offset="0.865" stop-color="#aa2395"/><stop offset="0.898" stop-color="#9c179e"/><stop offset="0.922" stop-color="#a11b9b"/><stop offset="1.000" stop-color="#c33d80"/></linearGradient><linearGradient id="d9"><stop offset="0.000" stop-color="#e16462"/><stop offset="0.102" stop-color="#d9586a"/><stop offset="0.152" stop-color="#bb3488"/><stop offset="0.201" stop-color="#8f0da4"/><stop offset="0.234" stop-color="#7d03a8"/><stop offset="0.266" stop-color="#6f00a8"/><stop offset="0.291" stop-color="#7e03a8"/><stop offset="0.324" stop-color="#9a169f"/><stop offset="0.365" stop-color="#c23c81"/><stop offset="0.406" stop-color="#d24f71"/><stop offset="0.447" stop-color="#da5b69"/><stop offset="0.693" stop-color="#e06363"/><stop offset="0.750" stop-color="#de6164"/><stop offset="0.807" stop-color="#cc4977"/><stop offset="0.865" stop-color="#a51f99"/><stop offset="0.898" stop-color="#920fa3"/><stop offset="0.922" stop-color="#920fa3"/><stop offset="1.000" stop-color="#b02991"/></linearGradient><linearGradient id="d10"><stop offset="0.000" stop-color="#d24f71"/><stop offset="0.102" stop-color="#cb4679"/><stop offset="0.160" stop-color="#a51f99"/><stop offset="0.201" stop-color="#8405a7"/><stop offset="0.258" stop-color="#6400a7"/><stop offset="0.275" stop-color="#6600a7"/><stop offset="0.307" stop-color="#8104a7"/><stop offset="0.340" stop-color="#a21d9a"/><stop offset="0.365" stop-color="#bb3488"/><stop offset="0.398" stop-color="#cb4679"/><stop offset="0.447" stop-color="#d8576b"/><stop offset="0.594" stop-color="#de5f65"/><stop offset="0.742" stop-color="#df6263"/><stop offset="0.807" stop-color="#cb4679"/><stop offset="0.865" stop-color="#a11b9b"/><stop offset="0.906" stop-color="#8808a6"/><stop offset="0.939" stop-color="#8a09a5"/><stop offset="1.000" stop-color="#9c179e"/></linearGradient><linearGradient id="d11"><stop offset="0.000" stop-color="#c23c81"/><stop offset="0.102" stop-color="#ba3388"/><stop offset="0.168" stop-color="#910ea3"/><stop offset="0.201" stop-color="#7b02a8"/><stop offset="0.258" stop-color="#5c01a6"/><stop offset="0.275" stop-color="#5e01a6"/><stop offset="0.316" stop-color="#8004a8"/><stop offset="0.340" stop-color="#9a169f"/><stop offset="0.365" stop-color="#b42e8d"/><stop offset="0.406" stop-color="#c9447a"/><stop offset="0.447" stop-color="#d5536f"/><stop offset="0.553" stop-color="#dc5d67"/><stop offset="0.742" stop-color="#de6164"/><stop offset="0.807" stop-color="#ca457a"/><stop offset="0.865" stop-color="#a01a9c"/><stop offset="0.906" stop-color="#8305a7"/><stop offset="0.930" stop-color="#7d03a8"/><stop offset="1.000" stop-color="#8707a6"/></linearGradient><linearGradient id="d12"><stop offset="0.000" stop-color="#b02991"/><stop offset="0.102" stop-color="#aa2395"/><stop offset="0.168" stop-color="#8405a7"/><stop offset="0.234" stop-color="#6300a7"/><stop offset="0.266" stop-color="#5502a4"/><stop offset="0.283" stop-color="#5c01a6"/><stop offset="0.324" stop-color="#8004a8"/><stop offset="0.357" stop-color="#a51f99"/><stop offset="0.381" stop-color="#b83289"/><stop offset="0.439" stop-color="#cf4c74"/><stop offset="0.545" stop-color="#da5b69"/><stop offset="0.742" stop-color="#de5f65"/><stop offset="0.807" stop-color="#c9447a"/><stop offset="0.873" stop-color="#9814a0"/><stop offset="0.906" stop-color="#7e03a8"/><stop offset="0.930" stop-color="#7501a8"/><stop offset="1.000" stop-color="#7701a8"/></linearGradient><linearGradient id="d13"><stop offset="0.000" stop-color="#a01a9c"/><stop offset="0.102" stop-color="#99159f"/><stop offset="0.160" stop-color="#7d03a8"/><stop offset="0.250" stop-color="#5102a3"/><stop offset="0.266" stop-color="#4c02a1"/><stop offset="0.283" stop-color="#5502a4"/><stop offset="0.324" stop-color="#7701a8"/><stop offset="0.340" stop-color="#8a09a5"/><stop offset="0.373" stop-color="#ac2694"/><stop offset="0.430" stop-color="#c9447a"/><stop offset="0.529" stop-color="#d7566c"/><stop offset="0.742" stop-color="#de5f65"/><stop offset="0.807" stop-color="#c9447a"/><stop offset="0.873" stop-color="#99159f"/><stop offset="0.906" stop-color="#7d03a8"/><stop offset="0.930" stop-color="#7100a8"/><stop offset="1.000" stop-color="#6e00a8"/></linearGradient><linearGradient id="d14"><stop offset="0.000" stop-color="#8808a6"/><stop offset="0.102" stop-color="#8305a7"/><stop offset="0.201" stop-color="#5e01a6"/><stop offset="0.266" stop-color="#41049d"/><stop offset="0.283" stop-color="#48039f"/><stop offset="0.332" stop-color="#7201a8"/><stop offset="0.348" stop-color="#8606a6"/><stop offset="0.373" stop-color="#a01a9c"/><stop offset="0.430" stop-color="#c13b82"/><stop offset="0.529" stop-color="#d35171"/><stop offset="0.676" stop-color="#db5c68"/><stop offset="0.750" stop-color="#db5c68"/><stop offset="0.816" stop-color="#c5407e"/><stop offset="0.873" stop-color="#9d189d"/><stop offset="0.906" stop-color="#8004a8"/><stop offset="0.930" stop-color="#6e00a8"/><stop offset="1.000" stop-color="#6700a8"/></linearGradient><linearGradient id="d15"><stop offset="0.000" stop-color="#7401a8"/><stop offset="0.102" stop-color="#7100a8"/><stop offset="0.217" stop-color="#4c02a1"/><stop offset="0.258" stop-color="#370499"/><stop offset="0.275" stop-color="#38049a"/><stop offset="0.324" stop-color="#5e01a6"/><stop offset="0.357" stop-color="#8104a7"/><stop offset="0.389" stop-color="#9d189d"/><stop offset="0.439" stop-color="#b83289"/><stop offset="0.529" stop-color="#cc4977"/><stop offset="0.701" stop-color="#d9586a"/><stop offset="0.750" stop-color="#d8576b"/><stop offset="0.816" stop-color="#c6417d"/><stop offset="0.873" stop-color="#a21d9a"/><stop offset="0.914" stop-color="#7d03a8"/><stop offset="0.939" stop-color="#6a00a8"/><stop offset="1.000" stop-color="#6100a7"/></linearGradient><linearGradient id="d16"><stop offset="0.000" stop-color="#6a00a8"/><stop offset="0.111" stop-color="#6400a7"/><stop offset="0.193" stop-color="#5002a2"/><stop offset="0.266" stop-color="#310597"/><stop offset="0.324" stop-color="#5801a4"/><stop offset="0.365" stop-color="#7e03a8"/><stop offset="0.422" stop-color="#a51f99"/><stop offset="0.488" stop-color="#bc3587"/><stop offset="0.611" stop-color="#cd4a76"/><stop offset="0.750" stop-color="#d5536f"/><stop offset="0.816" stop-color="#c6417d"/><stop offset="0.873" stop-color="#a82296"/><stop offset="0.914" stop-color="#8305a7"/><stop offset="0.939" stop-color="#6e00a8"/><stop offset="1.000" stop-color="#6001a6"/></linearGradient><linearGradient id="d17"><stop offset="0.000" stop-color="#6700a8"/><stop offset="0.127" stop-color="#5e01a6"/><stop offset="0.209" stop-color="#4903a0"/><stop offset="0.258" stop-color="#370499"/><stop offset="0.283" stop-color="#3e049c"/><stop offset="0.332" stop-color="#5c01a6"/><stop offset="0.373" stop-color="#7e03a8"/><stop offset="0.439" stop-color="#a31e9a"/><stop offset="0.520" stop-color="#ba3388"/><stop offset="0.742" stop-color="#d04d73"/><stop offset="0.807" stop-color="#c9447a"/><stop offset="0.873" stop-color="#ad2793"/><stop offset="0.922" stop-color="#8305a7"/><stop offset="0.947" stop-color="#6f00a8"/><stop offset="1.000" stop-color="#6300a7"/></linearGradient><linearGradient id="d18"><stop offset="0.000" stop-color="#6700a8"/><stop offset="0.152" stop-color="#5b01a5"/><stop offset="0.250" stop-color="#3f049c"/><stop offset="0.283" stop-color="#46039f"/><stop offset="0.332" stop-color="#5c01a6"/><stop offset="0.381" stop-color="#8104a7"/><stop offset="0.455" stop-color="#a31e9a"/><stop offset="0.561" stop-color="#b6308b"/><stop offset="0.758" stop-color="#ca457a"/><stop offset="0.816" stop-color="#c5407e"/><stop offset="0.873" stop-color="#b22b8f"/><stop offset="0.922" stop-color="#8b0aa5"/><stop offset="0.955" stop-color="#7401a8"/><stop offset="1.000" stop-color="#6700a8"/></linearGradient><linearGradient id="d19"><stop offset="0.000" stop-color="#6a00a8"/><stop offset="0.176" stop-color="#5901a5"/><stop offset="0.250" stop-color="#4903a0"/><stop offset="0.316" stop-color="#5801a4"/><stop offset="0.381" stop-color="#8004a8"/><stop offset="0.455" stop-color="#9e199d"/><stop offset="0.529" stop-color="#ab2494"/><stop offset="0.783" stop-color="#c5407e"/><stop offset="0.824" stop-color="#c23c81"/><stop offset="0.881" stop-color="#b22b8f"/><stop offset="0.930" stop-color="#8e0ca4"/><stop offset="0.955" stop-color="#7d03a8"/><stop offset="1.000" stop-color="#6e00a8"/></linearGradient><linearGradient id="d20"><stop offset="0.000" stop-color="#7100a8"/><stop offset="0.184" stop-color="#6100a7"/><stop offset="0.250" stop-color="#5801a4"/><stop offset="0.332" stop-color="#6a00a8"/><stop offset="0.389" stop-color="#8707a6"/><stop offset="0.471" stop-color="#a11b9b"/><stop offset="0.750" stop-color="#bc3587"/><stop offset="0.816" stop-color="#c33d80"/><stop offset="0.881" stop-color="#b42e8d"/><stop offset="0.947" stop-color="#8a09a5"/><stop offset="0.996" stop-color="#7701a8"/><stop offset="1.000" stop-color="#7701a8"/></linearGradient><linearGradient id="d21"><stop offset="0.000" stop-color="#7701a8"/><stop offset="0.209" stop-color="#6900a8"/><stop offset="0.258" stop-color="#6700a8"/><stop offset="0.340" stop-color="#7a02a8"/><stop offset="0.447" stop-color="#9a169f"/><stop offset="0.512" stop-color="#a21d9a"/><stop offset="0.742" stop-color="#b32c8e"/><stop offset="0.816" stop-color="#c33d80"/><stop offset="0.881" stop-color="#b7318a"/><stop offset="0.947" stop-color="#920fa3"/><stop offset="0.996" stop-color="#8004a8"/><stop offset="1.000" stop-color="#8004a8"/></linearGradient><linearGradient id="d22"><stop offset="0.000" stop-color="#7e03a8"/><stop offset="0.250" stop-color="#7401a8"/><stop offset="0.381" stop-color="#8d0ba5"/><stop offset="0.471" stop-color="#a01a9c"/><stop offset="0.734" stop-color="#ac2694"/><stop offset="0.816" stop-color="#c23c81"/><stop offset="0.889" stop-color="#b7318a"/><stop offset="0.955" stop-color="#9511a1"/><stop offset="1.000" stop-color="#8707a6"/></linearGradient><linearGradient id="d23"><stop offset="0.000" stop-color="#8606a6"/><stop offset="0.258" stop-color="#8104a7"/><stop offset="0.480" stop-color="#a21d9a"/><stop offset="0.742" stop-color="#ac2694"/><stop offset="0.816" stop-color="#c23c81"/><stop offset="0.889" stop-color="#b83289"/><stop offset="0.963" stop-color="#9814a0"/><stop offset="1.000" stop-color="#8d0ba5"/></linearGradient><linearGradient id="d24"><stop offset="0.000" stop-color="#8d0ba5"/><stop offset="0.266" stop-color="#8d0ba5"/><stop offset="0.480" stop-color="#a62098"/><stop offset="0.742" stop-color="#ac2694"/><stop offset="0.816" stop-color="#c23c81"/><stop offset="0.898" stop-color="#b7318a"/><stop offset="0.988" stop-color="#920fa3"/><stop offset="1.000" stop-color="#910ea3"/></linearGradient><linearGradient id="d25"><stop offset="0.000" stop-color="#920fa3"/><stop offset="0.275" stop-color="#9511a1"/><stop offset="0.488" stop-color="#aa2395"/><stop offset="0.742" stop-color="#ad2793"/><stop offset="0.816" stop-color="#c33d80"/><stop offset="0.898" stop-color="#b83289"/><stop offset="0.996" stop-color="#9410a2"/><stop offset="1.000" stop-color="#9410a2"/></linearGradient><linearGradient id="d26"><stop offset="0.000" stop-color="#9511a1"/><stop offset="0.283" stop-color="#9a169f"/><stop offset="0.480" stop-color="#ac2694"/><stop offset="0.742" stop-color="#ae2892"/><stop offset="0.816" stop-color="#c43e7f"/><stop offset="0.898" stop-color="#ba3388"/><stop offset="0.996" stop-color="#9613a1"/><stop offset="1.000" stop-color="#9613a1"/></linearGradient><linearGradient id="d27"><stop offset="0.000" stop-color="#99159f"/><stop offset="0.275" stop-color="#9e199d"/><stop offset="0.488" stop-color="#b02991"/><stop offset="0.742" stop-color="#b12a90"/><stop offset="0.824" stop-color="#c5407e"/><stop offset="0.898" stop-color="#bb3488"/><stop offset="1.000" stop-color="#9814a0"/></linearGradient><linearGradient id="d28"><stop offset="0.000" stop-color="#9c179e"/><stop offset="0.283" stop-color="#a31e9a"/><stop offset="0.488" stop-color="#b22b8f"/><stop offset="0.742" stop-color="#b32c8e"/><stop offset="0.824" stop-color="#c6417d"/><stop offset="0.906" stop-color="#ba3388"/><stop offset="1.000" stop-color="#9a169f"/></linearGradient><linearGradient id="d29"><stop offset="0.000" stop-color="#9e199d"/><stop offset="0.291" stop-color="#a82296"/><stop offset="0.504" stop-color="#b52f8c"/><stop offset="0.750" stop-color="#b7318a"/><stop offset="0.824" stop-color="#c6417d"/><stop offset="0.898" stop-color="#bc3587"/><stop offset="1.000" stop-color="#9c179e"/></linearGradient><linearGradient id="d30"><stop offset="0.000" stop-color="#a11b9b"/><stop offset="0.340" stop-color="#b02991"/><stop offset="0.545" stop-color="#b83289"/><stop offset="0.758" stop-color="#bb3488"/><stop offset="0.824" stop-color="#c7427c"/><stop offset="0.914" stop-color="#b83289"/><stop offset="1.000" stop-color="#9e199d"/></linearGradient><linearGradient id="d31"><stop offset="0.000" stop-color="#a31e9a"/><stop offset="0.537" stop-color="#bb3488"/><stop offset="0.758" stop-color="#bd3786"/><stop offset="0.824" stop-color="#c8437b"/><stop offset="0.922" stop-color="#b7318a"/><stop offset="1.000" stop-color="#a01a9c"/></linearGradient><linearGradient id="d32"><stop offset="0.000" stop-color="#a62098"/><stop offset="0.553" stop-color="#be3885"/><stop offset="0.766" stop-color="#c03a83"/><stop offset="0.832" stop-color="#c8437b"/><stop offset="0.930" stop-color="#b6308b"/><stop offset="1.000" stop-color="#a21d9a"/></linearGradient><linearGradient id="d33"><stop offset="0.000" stop-color="#a82296"/><stop offset="0.496" stop-color="#c03a83"/><stop offset="0.766" stop-color="#c23c81"/><stop offset="0.832" stop-color="#c9447a"/><stop offset="0.939" stop-color="#b42e8d"/><stop offset="1.000" stop-color="#a31e9a"/></linearGradient><linearGradient id="d34"><stop offset="0.000" stop-color="#aa2395"/><stop offset="0.324" stop-color="#bd3786"/><stop offset="0.635" stop-color="#c33d80"/><stop offset="0.775" stop-color="#c5407e"/><stop offset="0.832" stop-color="#ca457a"/><stop offset="0.947" stop-color="#b32c8e"/><stop offset="1.000" stop-color="#a62098"/></linearGradient><linearGradient id="d35"><stop offset="0.000" stop-color="#ac2694"/><stop offset="0.316" stop-color="#bf3984"/><stop offset="0.627" stop-color="#c5407e"/><stop offset="0.775" stop-color="#c7427c"/><stop offset="0.832" stop-color="#cb4679"/><stop offset="0.955" stop-color="#b32c8e"/><stop offset="1.000" stop-color="#a82296"/></linearGradient><linearGradient id="d36"><stop offset="0.000" stop-color="#ae2892"/><stop offset="0.316" stop-color="#c13b82"/><stop offset="0.635" stop-color="#c7427c"/><stop offset="0.775" stop-color="#c9447a"/><stop offset="0.832" stop-color="#cc4977"/><stop offset="0.955" stop-color="#b52f8c"/><stop offset="1.000" stop-color="#ab2494"/></linearGradient><linearGradient id="d37"><stop offset="0.000" stop-color="#b12a90"/><stop offset="0.348" stop-color="#c43e7f"/><stop offset="0.783" stop-color="#cc4778"/><stop offset="0.832" stop-color="#ce4b75"/><stop offset="0.963" stop-color="#b6308b"/><stop offset="1.000" stop-color="#ad2793"/></linearGradient><linearGradient id="d38"><stop offset="0.000" stop-color="#b32c8e"/><stop offset="0.332" stop-color="#c5407e"/><stop offset="0.783" stop-color="#cd4a76"/><stop offset="0.840" stop-color="#cf4c74"/><stop offset="1.000" stop-color="#b12a90"/></linearGradient><linearGradient id="d39"><stop offset="0.000" stop-color="#b42e8d"/><stop offset="0.332" stop-color="#c7427c"/><stop offset="0.783" stop-color="#cf4c74"/><stop offset="0.840" stop-color="#d14e72"/><stop offset="1.000" stop-color="#b32c8e"/></linearGradient><linearGradient id="d40"><stop offset="0.000" stop-color="#b6308b"/><stop offset="0.340" stop-color="#c9447a"/><stop offset="0.840" stop-color="#d35171"/><stop offset="1.000" stop-color="#b6308b"/></linearGradient><linearGradient id="d41"><stop offset="0.000" stop-color="#b83289"/><stop offset="0.348" stop-color="#cb4679"/><stop offset="0.840" stop-color="#d5536f"/><stop offset="1.000" stop-color="#b83289"/></linearGradient><linearGradient id="d42"><stop offset="0.000" stop-color="#bb3488"/><stop offset="0.357" stop-color="#cc4977"/><stop offset="0.799" stop-color="#d6556d"/><stop offset="0.840" stop-color="#d5546e"/><stop offset="1.000" stop-color="#bc3587"/></linearGradient><linearGradient id="d43"><stop offset="0.000" stop-color="#bc3587"/><stop offset="0.332" stop-color="#cd4a76"/><stop offset="0.832" stop-color="#d9586a"/><stop offset="1.000" stop-color="#be3885"/></linearGradient><linearGradient id="d44"><stop offset="0.000" stop-color="#bf3984"/><stop offset="0.373" stop-color="#d14e72"/><stop offset="0.832" stop-color="#da5b69"/><stop offset="1.000" stop-color="#c13b82"/></linearGradient><linearGradient id="d45"><stop offset="0.000" stop-color="#c13b82"/><stop offset="0.357" stop-color="#d35171"/><stop offset="0.840" stop-color="#dc5d67"/><stop offset="1.000" stop-color="#c5407e"/></linearGradient><linearGradient id="d46"><stop offset="0.000" stop-color="#c43e7f"/><stop offset="0.389" stop-color="#d6556d"/><stop offset="0.840" stop-color="#de6164"/><stop offset="1.000" stop-color="#c9447a"/></linearGradient><linearGradient id="d47"><stop offset="0.000" stop-color="#c6417d"/><stop offset="0.373" stop-color="#d8576b"/><stop offset="0.832" stop-color="#e26561"/><stop offset="1.000" stop-color="#cc4778"/></linearGradient><linearGradient id="d48"><stop offset="0.000" stop-color="#c9447a"/><stop offset="0.357" stop-color="#da5a6a"/><stop offset="0.832" stop-color="#e3685f"/><stop offset="1.000" stop-color="#cf4c74"/></linearGradient><linearGradient id="d49"><stop offset="0.000" stop-color="#cc4778"/><stop offset="0.389" stop-color="#dd5e66"/><stop offset="0.832" stop-color="#e56b5d"/><stop offset="1.000" stop-color="#d24f71"/></linearGradient><linearGradient id="d50"><stop offset="0.000" stop-color="#cd4a76"/><stop offset="0.398" stop-color="#de6164"/><stop offset="0.824" stop-color="#e76e5b"/><stop offset="1.000" stop-color="#d5536f"/></linearGradient><linearGradient id="d51"><stop offset="0.000" stop-color="#cf4c74"/><stop offset="0.447" stop-color="#e16462"/><stop offset="0.840" stop-color="#e76e5b"/><stop offset="1.000" stop-color="#d5546e"/></linearGradient><linearGradient id="d52"><stop offset="0.000" stop-color="#d14e72"/><stop offset="0.439" stop-color="#e26561"/><stop offset="0.840" stop-color="#e76f5a"/><stop offset="1.000" stop-color="#d7566c"/></linearGradient><linearGradient id="d53"><stop offset="0.000" stop-color="#d35171"/><stop offset="0.480" stop-color="#e4695e"/><stop offset="0.840" stop-color="#e87059"/><stop offset="1.000" stop-color="#d9586a"/></linearGradient><linearGradient id="d54"><stop offset="0.000" stop-color="#d5546e"/><stop offset="0.553" stop-color="#e66c5c"/><stop offset="0.840" stop-color="#e97158"/><stop offset="1.000" stop-color="#da5b69"/></linearGradient><linearGradient id="d55"><stop offset="0.000" stop-color="#d7566c"/><stop offset="0.586" stop-color="#e76f5a"/><stop offset="0.840" stop-color="#e97257"/><stop offset="1.000" stop-color="#db5c68"/></linearGradient><linearGradient id="d56"><stop offset="0.000" stop-color="#d9586a"/><stop offset="0.619" stop-color="#e97158"/><stop offset="0.865" stop-color="#e97158"/><stop offset="1.000" stop-color="#dd5e66"/></linearGradient><linearGradient id="d57"><stop offset="0.000" stop-color="#da5b69"/><stop offset="0.627" stop-color="#e97257"/><stop offset="0.873" stop-color="#e97257"/><stop offset="1.000" stop-color="#de6164"/></linearGradient><linearGradient id="d58"><stop offset="0.000" stop-color="#dc5d67"/><stop offset="0.619" stop-color="#ea7457"/><stop offset="0.873" stop-color="#ea7457"/><stop offset="1.000" stop-color="#df6263"/></linearGradient><linearGradient id="d59"><stop offset="0.000" stop-color="#de5f65"/><stop offset="0.619" stop-color="#eb7556"/><stop offset="0.881" stop-color="#eb7556"/><stop offset="1.000" stop-color="#e16462"/></linearGradient><linearGradient id="d60"><stop offset="0.000" stop-color="#e06363"/><stop offset="0.652" stop-color="#ec7754"/><stop offset="0.881" stop-color="#eb7655"/><stop offset="1.000" stop-color="#e26660"/></linearGradient><linearGradient id="d61"><stop offset="0.000" stop-color="#e26561"/><stop offset="0.643" stop-color="#ed7953"/><stop offset="0.889" stop-color="#ec7754"/><stop offset="1.000" stop-color="#e4695e"/></linearGradient><linearGradient id="d62"><stop offset="0.000" stop-color="#e3685f"/><stop offset="0.627" stop-color="#ed7a52"/><stop offset="0.889" stop-color="#ed7953"/><stop offset="1.000" stop-color="#e56b5d"/></linearGradient><linearGradient id="d63"><stop offset="0.000" stop-color="#e56b5d"/><stop offset="0.660" stop-color="#ef7c51"/><stop offset="0.881" stop-color="#ee7b51"/><stop offset="1.000" stop-color="#e76e5b"/></linearGradient><linearGradient id="d64"><stop offset="0.000" stop-color="#e76e5b"/><stop offset="0.643" stop-color="#ef7e50"/><stop offset="0.889" stop-color="#ef7c51"/><stop offset="1.000" stop-color="#e87059"/></linearGradient><linearGradient id="d65"><stop offset="0.000" stop-color="#e97158"/><stop offset="0.684" stop-color="#f0804e"/><stop offset="0.898" stop-color="#ef7e50"/><stop offset="1.000" stop-color="#e97257"/></linearGradient><linearGradient id="d66"><stop offset="0.000" stop-color="#ea7457"/><stop offset="0.652" stop-color="#f1814d"/><stop offset="0.898" stop-color="#f07f4f"/><stop offset="1.000" stop-color="#eb7556"/></linearGradient><linearGradient id="d67"><stop offset="0.000" stop-color="#ec7754"/><stop offset="0.643" stop-color="#f1834c"/><stop offset="0.889" stop-color="#f1814d"/><stop offset="1.000" stop-color="#ec7754"/></linearGradient><linearGradient id="d68"><stop offset="0.000" stop-color="#ed7a52"/><stop offset="0.668" stop-color="#f3854b"/><stop offset="0.898" stop-color="#f1834c"/><stop offset="1.000" stop-color="#ee7b51"/></linearGradient><linearGradient id="d69"><stop offset="0.000" stop-color="#ef7c51"/><stop offset="0.643" stop-color="#f3874a"/><stop offset="0.906" stop-color="#f2844b"/><stop offset="1.000" stop-color="#ef7e50"/></linearGradient><linearGradient id="d70"><stop offset="0.000" stop-color="#f0804e"/><stop offset="0.676" stop-color="#f48948"/><stop offset="0.906" stop-color="#f3874a"/><stop offset="1.000" stop-color="#f0804e"/></linearGradient><linearGradient id="d71"><stop offset="0.000" stop-color="#f2844b"/><stop offset="0.750" stop-color="#f58c46"/><stop offset="0.939" stop-color="#f48849"/><stop offset="1.000" stop-color="#f2844b"/></linearGradient><linearGradient id="d72"><stop offset="0.000" stop-color="#f48849"/><stop offset="0.832" stop-color="#f68f44"/><stop offset="1.000" stop-color="#f48849"/></linearGradient><linearGradient id="d73"><stop offset="0.000" stop-color="#f58b47"/><stop offset="0.758" stop-color="#f79044"/><stop offset="1.000" stop-color="#f58c46"/></linearGradient><linearGradient id="d74"><stop offset="0.000" stop-color="#f68f44"/><stop offset="0.898" stop-color="#f79342"/><stop offset="1.000" stop-color="#f68f44"/></linearGradient><linearGradient id="d75"><stop offset="0.000" stop-color="#f79342"/><stop offset="0.955" stop-color="#f89441"/><stop offset="1.000" stop-color="#f79342"/></linearGradient><linearGradient id="d76"><stop offset="0.000" stop-color="#f9973f"/><stop offset="1.000" stop-color="#f9973f"/></linearGradient><linearGradient id="d77"><stop offset="0.000" stop-color="#f99a3e"/><stop offset="1.000" stop-color="#f99a3e"/></linearGradient><linearGradient id="d78"><stop offset="0.000" stop-color="#fa9e3b"/><stop offset="1.000" stop-color="#fa9e3b"/></linearGradient><linearGradient id="d79"><stop offset="0.000" stop-color="#fba238"/><stop offset="1.000" stop-color="#fba238"/></linearGradient><linearGradient id="d80"><stop offset="0.000" stop-color="#fca537"/><stop offset="1.000" stop-color="#fca537"/></linearGradient><linearGradient id="d81"><stop offset="0.000" stop-color="#fca934"/><stop offset="1.000" stop-color="#fca934"/></linearGradient><linearGradient id="d82"><stop offset="0.000" stop-color="#fdae32"/><stop offset="1.000" stop-color="#fdae32"/></linearGradient><linearGradient id="d83"><stop offset="0.000" stop-color="#fdb130"/><stop offset="1.000" stop-color="#fdb130"/></linearGradient><linearGradient id="d84"><stop offset="0.000" stop-color="#fdb52e"/><stop offset="1.000" stop-color="#fdb52e"/></linearGradient><linearGradient id="d85"><stop offset="0.000" stop-color="#feb82c"/><stop offset="1.000" stop-color="#feb82c"/></linearGradient><linearGradient id="d86"><stop offset="0.000" stop-color="#febd2a"/><stop offset="1.000" stop-color="#febd2a"/></linearGradient><linearGradient id="d87"><stop offset="0.000" stop-color="#febe2a"/><stop offset="1.000" stop-color="#febe2a"/></linearGradient><linearGradient id="d88"><stop offset="0.000" stop-color="#fdc229"/><stop offset="1.000" stop-color="#fdc229"/></linearGradient><linearGradient id="d89"><stop offset="0.000" stop-color="#fdc527"/><stop offset="1.000" stop-color="#fdc527"/></linearGradient><linearGradient id="d90"><stop offset="0.000" stop-color="#fdc627"/><stop offset="1.000" stop-color="#fdc627"/></linearGradient><linearGradient id="d91"><stop offset="0.000" stop-color="#fdca26"/><stop offset="1.000" stop-color="#fdca26"/></linearGradient><linearGradient id="d92"><stop offset="0.000" stop-color="#fccd25"/><stop offset="1.000" stop-color="#fccd25"/></linearGradient><linearGradient id="d93"><stop offset="0.000" stop-color="#fcce25"/><stop offset="1.000" stop-color="#fcce25"/></linearGradient><linearGradient id="d94"><stop offset="0.000" stop-color="#fcd225"/><stop offset="1.000" stop-color="#fcd225"/></linearGradient><clipPath id="cd"><rect x="402.3" y="299.8" width="242.4" height="225.7"/></clipPath></defs>
<g clip-path="url(#cd)"><rect x="402.3" y="299.00" width="242.4" height="1.00" fill="url(#d0)"/><rect x="402.3" y="300.00" width="242.4" height="1.00" fill="url(#d1)"/><rect x="402.3" y="301.00" width="242.4" height="1.00" fill="url(#d2)"/><rect x="402.3" y="302.00" width="242.4" height="1.00" fill="url(#d3)"/><rect x="402.3" y="303.00" width="242.4" height="1.00" fill="url(#d4)"/><rect x="402.3" y="304.00" width="242.4" height="1.00" fill="url(#d5)"/><rect x="402.3" y="305.00" width="242.4" height="1.00" fill="url(#d6)"/><rect x="402.3" y="306.00" width="242.4" height="1.00" fill="url(#d7)"/><rect x="402.3" y="307.00" width="242.4" height="1.00" fill="url(#d8)"/><rect x="402.3" y="308.00" width="242.4" height="1.00" fill="url(#d9)"/><rect x="402.3" y="309.00" width="242.4" height="1.00" fill="url(#d10)"/><rect x="402.3" y="310.00" width="242.4" height="1.00" fill="url(#d11)"/><rect x="402.3" y="311.00" width="242.4" height="1.00" fill="url(#d12)"/><rect x="402.3" y="312.00" width="242.4" height="1.00" fill="url(#d13)"/><rect x="402.3" y="313.00" width="242.4" height="2.00" fill="url(#d14)"/><rect x="402.3" y="315.00" width="242.4" height="2.00" fill="url(#d15)"/><rect x="402.3" y="317.00" width="242.4" height="2.00" fill="url(#d16)"/><rect x="402.3" y="319.00" width="242.4" height="2.00" fill="url(#d17)"/><rect x="402.3" y="321.00" width="242.4" height="2.00" fill="url(#d18)"/><rect x="402.3" y="323.00" width="242.4" height="2.00" fill="url(#d19)"/><rect x="402.3" y="325.00" width="242.4" height="2.00" fill="url(#d20)"/><rect x="402.3" y="327.00" width="242.4" height="2.00" fill="url(#d21)"/><rect x="402.3" y="329.00" width="242.4" height="2.00" fill="url(#d22)"/><rect x="402.3" y="331.00" width="242.4" height="2.00" fill="url(#d23)"/><rect x="402.3" y="333.00" width="242.4" height="2.00" fill="url(#d24)"/><rect x="402.3" y="335.00" width="242.4" height="2.00" fill="url(#d25)"/><rect x="402.3" y="337.00" width="242.4" height="2.00" fill="url(#d26)"/><rect x="402.3" y="339.00" width="242.4" height="2.00" fill="url(#d27)"/><rect x="402.3" y="341.00" width="242.4" height="2.00" fill="url(#d28)"/><rect x="402.3" y="343.00" width="242.4" height="2.00" fill="url(#d29)"/><rect x="402.3" y="345.00" width="242.4" height="2.00" fill="url(#d30)"/><rect x="402.3" y="347.00" width="242.4" height="2.00" fill="url(#d31)"/><rect x="402.3" y="349.00" width="242.4" height="2.00" fill="url(#d32)"/><rect x="402.3" y="351.00" width="242.4" height="2.00" fill="url(#d33)"/><rect x="402.3" y="353.00" width="242.4" height="2.00" fill="url(#d34)"/><rect x="402.3" y="355.00" width="242.4" height="2.00" fill="url(#d35)"/><rect x="402.3" y="357.00" width="242.4" height="2.00" fill="url(#d36)"/><rect x="402.3" y="359.00" width="242.4" height="2.00" fill="url(#d37)"/><rect x="402.3" y="361.00" width="242.4" height="2.00" fill="url(#d38)"/><rect x="402.3" y="363.00" width="242.4" height="2.00" fill="url(#d39)"/><rect x="402.3" y="365.00" width="242.4" height="2.00" fill="url(#d40)"/><rect x="402.3" y="367.00" width="242.4" height="2.00" fill="url(#d41)"/><rect x="402.3" y="369.00" width="242.4" height="2.00" fill="url(#d42)"/><rect x="402.3" y="371.00" width="242.4" height="2.00" fill="url(#d43)"/><rect x="402.3" y="373.00" width="242.4" height="3.00" fill="url(#d44)"/><rect x="402.3" y="376.00" width="242.4" height="3.00" fill="url(#d45)"/><rect x="402.3" y="379.00" width="242.4" height="3.00" fill="url(#d46)"/><rect x="402.3" y="382.00" width="242.4" height="3.00" fill="url(#d47)"/><rect x="402.3" y="385.00" width="242.4" height="3.00" fill="url(#d48)"/><rect x="402.3" y="388.00" width="242.4" height="3.00" fill="url(#d49)"/><rect x="402.3" y="391.00" width="242.4" height="3.00" fill="url(#d50)"/><rect x="402.3" y="394.00" width="242.4" height="3.00" fill="url(#d51)"/><rect x="402.3" y="397.00" width="242.4" height="3.00" fill="url(#d52)"/><rect x="402.3" y="400.00" width="242.4" height="3.00" fill="url(#d53)"/><rect x="402.3" y="403.00" width="242.4" height="3.00" fill="url(#d54)"/><rect x="402.3" y="406.00" width="242.4" height="3.00" fill="url(#d55)"/><rect x="402.3" y="409.00" width="242.4" height="3.00" fill="url(#d56)"/><rect x="402.3" y="412.00" width="242.4" height="3.00" fill="url(#d57)"/><rect x="402.3" y="415.00" width="242.4" height="3.00" fill="url(#d58)"/><rect x="402.3" y="418.00" width="242.4" height="3.00" fill="url(#d59)"/><rect x="402.3" y="421.00" width="242.4" height="3.00" fill="url(#d60)"/><rect x="402.3" y="424.00" width="242.4" height="3.00" fill="url(#d61)"/><rect x="402.3" y="427.00" width="242.4" height="3.00" fill="url(#d62)"/><rect x="402.3" y="430.00" width="242.4" height="3.00" fill="url(#d63)"/><rect x="402.3" y="433.00" width="242.4" height="3.00" fill="url(#d64)"/><rect x="402.3" y="436.00" width="242.4" height="3.00" fill="url(#d65)"/><rect x="402.3" y="439.00" width="242.4" height="3.00" fill="url(#d66)"/><rect x="402.3" y="442.00" width="242.4" height="3.00" fill="url(#d67)"/><rect x="402.3" y="445.00" width="242.4" height="3.00" fill="url(#d68)"/><rect x="402.3" y="448.00" width="242.4" height="3.00" fill="url(#d69)"/><rect x="402.3" y="451.00" width="242.4" height="3.00" fill="url(#d70)"/><rect x="402.3" y="454.00" width="242.4" height="3.00" fill="url(#d71)"/><rect x="402.3" y="457.00" width="242.4" height="3.00" fill="url(#d72)"/><rect x="402.3" y="460.00" width="242.4" height="3.00" fill="url(#d73)"/><rect x="402.3" y="463.00" width="242.4" height="3.00" fill="url(#d74)"/><rect x="402.3" y="466.00" width="242.4" height="3.00" fill="url(#d75)"/><rect x="402.3" y="469.00" width="242.4" height="3.00" fill="url(#d76)"/><rect x="402.3" y="472.00" width="242.4" height="3.00" fill="url(#d77)"/><rect x="402.3" y="475.00" width="242.4" height="3.00" fill="url(#d78)"/><rect x="402.3" y="478.00" width="242.4" height="3.00" fill="url(#d79)"/><rect x="402.3" y="481.00" width="242.4" height="3.00" fill="url(#d80)"/><rect x="402.3" y="484.00" width="242.4" height="3.00" fill="url(#d81)"/><rect x="402.3" y="487.00" width="242.4" height="3.00" fill="url(#d82)"/><rect x="402.3" y="490.00" width="242.4" height="3.00" fill="url(#d83)"/><rect x="402.3" y="493.00" width="242.4" height="3.00" fill="url(#d84)"/><rect x="402.3" y="496.00" width="242.4" height="3.00" fill="url(#d85)"/><rect x="402.3" y="499.00" width="242.4" height="3.00" fill="url(#d86)"/><rect x="402.3" y="502.00" width="242.4" height="3.00" fill="url(#d87)"/><rect x="402.3" y="505.00" width="242.4" height="3.00" fill="url(#d88)"/><rect x="402.3" y="508.00" width="242.4" height="3.00" fill="url(#d89)"/><rect x="402.3" y="511.00" width="242.4" height="3.00" fill="url(#d90)"/><rect x="402.3" y="514.00" width="242.4" height="3.00" fill="url(#d91)"/><rect x="402.3" y="517.00" width="242.4" height="3.00" fill="url(#d92)"/><rect x="402.3" y="520.00" width="242.4" height="3.00" fill="url(#d93)"/><rect x="402.3" y="523.00" width="242.4" height="3.00" fill="url(#d94)"/></g>
<rect x="402.3" y="299.8" width="242.4" height="225.7" fill="none" stroke="#111" stroke-width="0.6"/>
<text x="402.3" y="538.1" text-anchor="middle" font-size="8.33">0</text>
<text x="438.2" y="538.1" text-anchor="middle" font-size="8.33">50</text>
<text x="474.1" y="538.1" text-anchor="middle" font-size="8.33">100</text>
<text x="510.0" y="538.1" text-anchor="middle" font-size="8.33">150</text>
<text x="545.9" y="538.1" text-anchor="middle" font-size="8.33">200</text>
<text x="581.9" y="538.1" text-anchor="middle" font-size="8.33">250</text>
<text x="617.8" y="538.1" text-anchor="middle" font-size="8.33">300</text>
<text x="396.1" y="303.2" text-anchor="end" font-size="8.33">10<tspan dy="-3.2" font-size="5.83">−6</tspan></text>
<text x="396.1" y="359.6" text-anchor="end" font-size="8.33">10<tspan dy="-3.2" font-size="5.83">−4</tspan></text>
<text x="396.1" y="416.0" text-anchor="end" font-size="8.33">10<tspan dy="-3.2" font-size="5.83">−2</tspan></text>
<text x="396.1" y="472.5" text-anchor="end" font-size="8.33">10<tspan dy="-3.2" font-size="5.83">0</tspan></text>
<text x="396.1" y="528.9" text-anchor="end" font-size="8.33">10<tspan dy="-3.2" font-size="5.83">2</tspan></text>
<path d="M402.30 525.50v2.9M438.21 525.50v2.9M474.12 525.50v2.9M510.03 525.50v2.9M545.94 525.50v2.9M581.86 525.50v2.9M617.77 525.50v2.9M402.30 299.80h-2.9M402.30 356.23h-2.9M402.30 412.65h-2.9M402.30 469.07h-2.9M402.30 525.50h-2.9" stroke="#000" stroke-width="0.67" fill="none"/>
<path d="M402.30 308.29h-1.7M402.30 313.26h-1.7M402.30 316.79h-1.7M402.30 319.52h-1.7M402.30 321.75h-1.7M402.30 323.64h-1.7M402.30 325.28h-1.7M402.30 326.72h-1.7M402.30 328.01h-1.7M402.30 336.51h-1.7M402.30 341.47h-1.7M402.30 345.00h-1.7M402.30 347.73h-1.7M402.30 349.97h-1.7M402.30 351.85h-1.7M402.30 353.49h-1.7M402.30 354.93h-1.7M402.30 364.72h-1.7M402.30 369.69h-1.7M402.30 373.21h-1.7M402.30 375.94h-1.7M402.30 378.18h-1.7M402.30 380.07h-1.7M402.30 381.70h-1.7M402.30 383.15h-1.7M402.30 384.44h-1.7M402.30 392.93h-1.7M402.30 397.90h-1.7M402.30 401.42h-1.7M402.30 404.16h-1.7M402.30 406.39h-1.7M402.30 408.28h-1.7M402.30 409.92h-1.7M402.30 411.36h-1.7M402.30 421.14h-1.7M402.30 426.11h-1.7M402.30 429.64h-1.7M402.30 432.37h-1.7M402.30 434.60h-1.7M402.30 436.49h-1.7M402.30 438.13h-1.7M402.30 439.57h-1.7M402.30 440.86h-1.7M402.30 449.36h-1.7M402.30 454.32h-1.7M402.30 457.85h-1.7M402.30 460.58h-1.7M402.30 462.82h-1.7M402.30 464.70h-1.7M402.30 466.34h-1.7M402.30 467.78h-1.7M402.30 477.57h-1.7M402.30 482.54h-1.7M402.30 486.06h-1.7M402.30 488.79h-1.7M402.30 491.03h-1.7M402.30 492.92h-1.7M402.30 494.55h-1.7M402.30 496.00h-1.7M402.30 497.29h-1.7M402.30 505.78h-1.7M402.30 510.75h-1.7M402.30 514.27h-1.7M402.30 517.01h-1.7M402.30 519.24h-1.7M402.30 521.13h-1.7M402.30 522.77h-1.7M402.30 524.21h-1.7" stroke="#000" stroke-width="0.5" fill="none"/>
<text x="523.5" y="551.1" text-anchor="middle" font-size="10">Longitude</text>
<text transform="translate(371.0 412.6) rotate(-90)" text-anchor="middle" font-size="10">Pressure (bar)</text>
<text x="523.5" y="294.9" text-anchor="middle" font-size="10" xml:space="preserve">HCN  const U</text>
<defs><linearGradient id="cbd" x1="0" y1="0" x2="0" y2="1"><stop offset="0.000" stop-color="#f0f921"/><stop offset="0.042" stop-color="#f6e826"/><stop offset="0.083" stop-color="#fbd524"/><stop offset="0.125" stop-color="#fdc527"/><stop offset="0.167" stop-color="#fdb42f"/><stop offset="0.208" stop-color="#fca338"/><stop offset="0.250" stop-color="#f89540"/><stop offset="0.292" stop-color="#f3874a"/><stop offset="0.333" stop-color="#ed7953"/><stop offset="0.375" stop-color="#e66c5c"/><stop offset="0.417" stop-color="#de5f65"/><stop offset="0.458" stop-color="#d5536f"/><stop offset="0.500" stop-color="#cc4778"/><stop offset="0.542" stop-color="#c13b82"/><stop offset="0.583" stop-color="#b52f8c"/><stop offset="0.625" stop-color="#aa2395"/><stop offset="0.667" stop-color="#9c179e"/><stop offset="0.708" stop-color="#8d0ba5"/><stop offset="0.750" stop-color="#7e03a8"/><stop offset="0.792" stop-color="#6e00a8"/><stop offset="0.833" stop-color="#5c01a6"/><stop offset="0.875" stop-color="#4c02a1"/><stop offset="0.917" stop-color="#3a049a"/><stop offset="0.958" stop-color="#260591"/><stop offset="1.000" stop-color="#0d0887"/></linearGradient></defs>
<rect x="659.6" y="299.8" width="11.9" height="225.7" fill="url(#cbd)" stroke="#000" stroke-width="0.67"/>
<text x="677.3" y="323.5" text-anchor="start" font-size="8.33">10<tspan dy="-3.2" font-size="5.83">−6</tspan></text>
<text x="677.3" y="364.6" text-anchor="start" font-size="8.33">10<tspan dy="-3.2" font-size="5.83">−8</tspan></text>
<text x="677.3" y="405.6" text-anchor="start" font-size="8.33">10<tspan dy="-3.2" font-size="5.83">−10</tspan></text>
<text x="677.3" y="446.6" text-anchor="start" font-size="8.33">10<tspan dy="-3.2" font-size="5.83">−12</tspan></text>
<text x="677.3" y="487.7" text-anchor="start" font-size="8.33">10<tspan dy="-3.2" font-size="5.83">−14</tspan></text>
<text x="677.3" y="528.7" text-anchor="start" font-size="8.33">10<tspan dy="-3.2" font-size="5.83">−16</tspan></text>
<path d="M671.50 320.32h2.9M671.50 361.35h2.9M671.50 402.39h2.9M671.50 443.43h2.9M671.50 484.46h2.9M671.50 525.50h2.9" stroke="#000" stroke-width="0.67" fill="none"/>
</svg>
</body></html>
